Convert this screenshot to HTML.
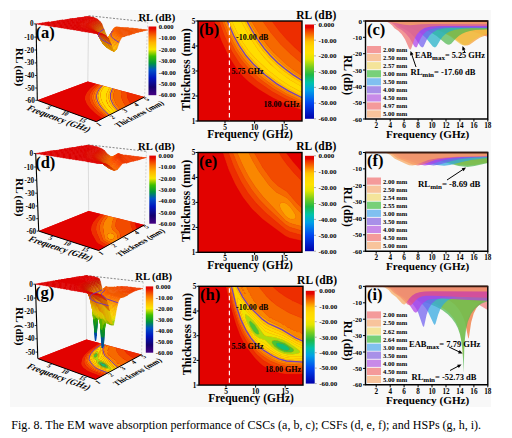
<!DOCTYPE html>
<html><head><meta charset="utf-8"><style>html,body{margin:0;padding:0;background:#fff;}svg{display:block}</style></head>
<body><svg width="512" height="438" viewBox="0 0 512 438">
<rect x="0" y="0" width="512" height="438" fill="#ffffff"/>
<rect x="10" y="10" width="481" height="397" fill="#f8f8f8"/>
<svg x="198" y="21" width="104" height="100" viewBox="198 21 104 100" overflow="hidden">
<rect x="198" y="21" width="104" height="100" fill="#e10000"/>
<path d="M302 92.4 302 86.8 289.9 79.7 279.4 72.1 270.7 64.5 263.9 57.2 259.3 51.4 253.3 42.7 247.2 32.6 241.1 21 231.9 21 237.2 32.6 243.2 43 249.2 51.4 256.8 59.8 268.1 70.3 279.2 79 290.4 86.2 301.2 92Z" fill="#ffdd00" stroke="#ffdd00" stroke-width="0.4" fill-rule="evenodd"/>
<path d="M300.5 95 302 95.7 302 92.4 290.4 86.2 279.2 79 268.1 70.3 256.8 59.8 249.2 51.4 243.2 43 237.2 32.6 231.9 21 229.1 21 235 34 240.6 44.2 247.6 54.3 255.3 63 265.8 72.9 276.4 81.1 286.9 87.9 300.3 94.9ZM302 86.8 302 83 293.1 77.5 283.9 70.9 276.2 64.5 268.8 57.2 262.8 50.4 256.8 42.2 250.8 32.7 244.4 21 241.1 21 247.2 32.6 253.3 42.7 259.3 51.4 266.5 60.1 274.9 68.3 282.4 74.4 289.9 79.7 300.9 86.2Z" fill="#ffd400" stroke="#ffd400" stroke-width="0.4" fill-rule="evenodd"/>
<path d="M300.5 96.9 302 97.6 302 95.7 289 89.1 277.5 81.9 266.1 73.2 255.3 63 248.8 55.8 242.4 47.1 235.7 35.5 229.1 21 227.3 21 233.6 35.5 239.2 45.6 246.1 55.8 253.7 64.5 264.3 74.4 274.9 82.5 286.9 90.1 299.3 96.4ZM300.5 82.1 302 83 302 80.5 292.8 74.6 284.9 68.8 276.5 61.6 269.3 54.3 262.8 46.7 256.8 38.3 246.8 21 244.4 21 249.2 30.1 255.3 40 261.3 48.5 267.4 55.8 274.6 63 282.4 69.8 291 76.1 300.1 81.9Z" fill="#ffc300" stroke="#ffc300" stroke-width="0.4" fill-rule="evenodd"/>
<path d="M300.5 98.5 302 99.1 302 97.6 286.9 90.1 273.4 81.5 262.9 73.2 253.7 64.5 247.3 57.2 241 48.5 233.6 35.5 227.3 21 225.8 21 231.9 35.5 238.1 47.1 245.1 57.2 252.3 65.6 262.8 75.4 273.4 83.5 285.4 91 299 97.8ZM302 80.5 302 78.3 294.1 73.2 286.3 67.4 279.4 61.5 271.9 54.1 265.8 47.3 259.8 39.3 253.8 29.9 248.8 21 246.8 21 252.3 31 258.3 40.5 264.3 48.6 270.3 55.5 277.9 62.9 284.9 68.8 292.8 74.6 301.9 80.4Z" fill="#fca400" stroke="#fca400" stroke-width="0.4" fill-rule="evenodd"/>
<path d="M302 100.9 302 99.1 285.4 91 271.9 82.4 261.3 74.1 252.6 65.9 245.1 57.2 239.9 50 231.9 35.5 225.8 21 224 21 230.6 36.9 236.7 48.5 243.6 58.7 251.1 67.4 262.2 77.5 274.9 86.8 286.9 93.9 301.6 100.7ZM302 78.3 302 75.7 294 70.3 286.5 64.5 273.4 52.2 267.3 45.3 261.3 37.3 251.4 21 248.8 21 258.3 37.1 264.3 45.4 270.3 52.5 277.9 60.1 284.5 65.9 292 71.7 300.6 77.5Z" fill="#fa8700" stroke="#fa8700" stroke-width="0.4" fill-rule="evenodd"/>
<path d="M300.5 102.4 302 103 302 100.9 285.4 93.1 270.3 83.8 259.8 75.6 251.1 67.4 243.6 58.7 237.6 50 230.6 36.9 224 21 221.8 21 227.5 35.5 234.8 50 241.5 60.1 248.8 68.8 259.8 78.9 273.4 88.7 285.4 95.6 299.9 102.2ZM300.5 74.8 302 75.7 302 63.4 290.9 54.3 280.6 44.2 270.8 32.6 262.7 21 251.4 21 261.3 37.3 271.9 50.6 284.7 63 292 68.8 300.3 74.6Z" fill="#f66900" stroke="#f66900" stroke-width="0.4" fill-rule="evenodd"/>
<path d="M300.5 105.3 302 105.9 302 103 285.4 95.6 273.4 88.7 261.3 80.1 249.2 69.3 241.5 60.1 234.8 50 227.5 35.5 221.8 21 218.8 21 224.2 35.5 231.8 51.4 239.2 63 246.5 71.7 256.8 81 271.9 91.6 285.4 98.9 299.9 105.1ZM302 63.4 302 53.8 294.4 47.1 286.9 39.5 279.4 30.9 271.9 21 262.7 21 270.8 32.6 280.6 44.2 290.9 54.3 301.5 63Z" fill="#f24b00" stroke="#f24b00" stroke-width="0.4" fill-rule="evenodd"/>
<path d="M300.5 109.7 302 110.2 302 105.9 285.4 98.9 271.9 91.6 256.8 81 246.5 71.7 239.2 63 231.8 51.4 224.2 35.5 218.8 21 214.2 21 220.2 38.4 227.5 54.3 235.4 67.4 243.2 76.9 253.8 86 268.8 95.8 282.4 102.7 299.6 109.4ZM302 53.8 302 21 271.9 21 279.4 30.9 285.4 37.9 292.9 45.6 300.9 52.9Z" fill="#ed2d00" stroke="#ed2d00" stroke-width="0.4" fill-rule="evenodd"/>
<path d="M199.5 121 302 121 302 110.2 286.9 104.7 273.4 98.3 259.8 90.3 248.5 81.9 242.5 76.1 237.5 70.3 229 57.2 221.4 41.3 214.2 21 198 21 198 121Z" fill="#e20200" stroke="#e20200" stroke-width="0.4" fill-rule="evenodd"/>
<path d="M302 97.6 288.4 90.9 276.4 83.6 264.6 74.6 253.8 64.6 246.1 55.8 239.2 45.6 233.6 35.5 227.3 21M246.8 21 252.3 31 258.3 40.5 264.3 48.6 270.3 55.5 277.9 62.9 284.9 68.8 292.8 74.6 302 80.5" fill="none" stroke="#7a3fb8" stroke-width="1.3"/>
<line x1="229.4" y1="23" x2="229.4" y2="121" stroke="#fff0f0" stroke-width="1.2" stroke-dasharray="4.5 3"/>
<text x="236" y="40" font-family='"Liberation Serif", serif' font-size="8" font-weight="bold" text-anchor="start" fill="#000" >-10.00 dB</text>
<text x="231.5" y="73.5" font-family='"Liberation Serif", serif' font-size="8" font-weight="bold" text-anchor="start" fill="#000" >5.75 GHz</text>
<text x="263.5" y="106.5" font-family='"Liberation Serif", serif' font-size="8" font-weight="bold" text-anchor="start" fill="#000" >18.00 GHz</text>
</svg>
<rect x="198" y="21" width="104" height="100" fill="none" stroke="#000" stroke-width="1.4"/>
<text x="199" y="35" font-family='"Liberation Serif", serif' font-size="16.5" font-weight="bold" text-anchor="start" fill="#000" >(b)</text>
<line x1="195.5" y1="121" x2="198" y2="121" stroke="#000" stroke-width="1"/>
<text x="195.4" y="123.6" font-family='"Liberation Serif", serif' font-size="7.2" font-weight="bold" text-anchor="end" fill="#000" >1</text>
<line x1="195.5" y1="96" x2="198" y2="96" stroke="#000" stroke-width="1"/>
<text x="195.4" y="98.6" font-family='"Liberation Serif", serif' font-size="7.2" font-weight="bold" text-anchor="end" fill="#000" >2</text>
<line x1="195.5" y1="71" x2="198" y2="71" stroke="#000" stroke-width="1"/>
<text x="195.4" y="73.6" font-family='"Liberation Serif", serif' font-size="7.2" font-weight="bold" text-anchor="end" fill="#000" >3</text>
<line x1="195.5" y1="46" x2="198" y2="46" stroke="#000" stroke-width="1"/>
<text x="195.4" y="48.6" font-family='"Liberation Serif", serif' font-size="7.2" font-weight="bold" text-anchor="end" fill="#000" >4</text>
<line x1="195.5" y1="21" x2="198" y2="21" stroke="#000" stroke-width="1"/>
<text x="195.4" y="23.6" font-family='"Liberation Serif", serif' font-size="7.2" font-weight="bold" text-anchor="end" fill="#000" >5</text>
<line x1="225" y1="121" x2="225" y2="123.5" stroke="#000" stroke-width="1"/>
<text x="225" y="129.5" font-family='"Liberation Serif", serif' font-size="7.5" font-weight="bold" text-anchor="middle" fill="#000" >5</text>
<line x1="254.6" y1="121" x2="254.6" y2="123.5" stroke="#000" stroke-width="1"/>
<text x="254.6" y="129.5" font-family='"Liberation Serif", serif' font-size="7.5" font-weight="bold" text-anchor="middle" fill="#000" >10</text>
<line x1="284.2" y1="121" x2="284.2" y2="123.5" stroke="#000" stroke-width="1"/>
<text x="284.2" y="129.5" font-family='"Liberation Serif", serif' font-size="7.5" font-weight="bold" text-anchor="middle" fill="#000" >15</text>
<text x="250" y="137.8" font-family='"Liberation Serif", serif' font-size="11.5" font-weight="bold" text-anchor="middle" fill="#000" >Frequency (GHz)</text>
<text x="0" y="0" font-family='"Liberation Serif", serif' font-size="12" font-weight="bold" text-anchor="middle" fill="#000" transform="translate(189.5,69.5) rotate(-90)">Thickness (mm)</text>
<defs><linearGradient id="cbj0" x1="0" y1="0" x2="0" y2="1"><stop offset="0.000" stop-color="#e10000"/><stop offset="0.033" stop-color="#e40600"/><stop offset="0.050" stop-color="#ec2800"/><stop offset="0.083" stop-color="#f35000"/><stop offset="0.117" stop-color="#f87800"/><stop offset="0.150" stop-color="#fca000"/><stop offset="0.183" stop-color="#ffc300"/><stop offset="0.233" stop-color="#ffd700"/><stop offset="0.300" stop-color="#ffe100"/><stop offset="0.367" stop-color="#e1e600"/><stop offset="0.450" stop-color="#78cd1e"/><stop offset="0.533" stop-color="#1eb946"/><stop offset="0.617" stop-color="#00c3aa"/><stop offset="0.700" stop-color="#00a0e6"/><stop offset="0.833" stop-color="#0046f0"/><stop offset="1.000" stop-color="#0000aa"/></linearGradient></defs>
<rect x="305" y="24.5" width="9" height="94.3" fill="url(#cbj0)"/>
<line x1="314" y1="24.5" x2="316" y2="24.5" stroke="#999" stroke-width="0.8"/>
<text x="318.5" y="26.8" font-family='"Liberation Serif", serif' font-size="7" font-weight="bold" text-anchor="start" fill="#000" >0.000</text>
<line x1="314" y1="40.2" x2="316" y2="40.2" stroke="#999" stroke-width="0.8"/>
<text x="318.5" y="42.5" font-family='"Liberation Serif", serif' font-size="7" font-weight="bold" text-anchor="start" fill="#000" >-10.00</text>
<line x1="314" y1="55.9" x2="316" y2="55.9" stroke="#999" stroke-width="0.8"/>
<text x="318.5" y="58.2" font-family='"Liberation Serif", serif' font-size="7" font-weight="bold" text-anchor="start" fill="#000" >-20.00</text>
<line x1="314" y1="71.7" x2="316" y2="71.7" stroke="#999" stroke-width="0.8"/>
<text x="318.5" y="74" font-family='"Liberation Serif", serif' font-size="7" font-weight="bold" text-anchor="start" fill="#000" >-30.00</text>
<line x1="314" y1="87.4" x2="316" y2="87.4" stroke="#999" stroke-width="0.8"/>
<text x="318.5" y="89.7" font-family='"Liberation Serif", serif' font-size="7" font-weight="bold" text-anchor="start" fill="#000" >-40.00</text>
<line x1="314" y1="103.1" x2="316" y2="103.1" stroke="#999" stroke-width="0.8"/>
<text x="318.5" y="105.4" font-family='"Liberation Serif", serif' font-size="7" font-weight="bold" text-anchor="start" fill="#000" >-50.00</text>
<line x1="314" y1="118.8" x2="316" y2="118.8" stroke="#999" stroke-width="0.8"/>
<text x="318.5" y="121.1" font-family='"Liberation Serif", serif' font-size="7" font-weight="bold" text-anchor="start" fill="#000" >-60.00</text>
<text x="316.3" y="18.5" font-family='"Liberation Serif", serif' font-size="11.5" font-weight="bold" text-anchor="middle" fill="#000" >RL (dB)</text>
<svg x="198" y="152.5" width="104" height="99.8" viewBox="198 152.5 104 99.8" overflow="hidden">
<rect x="198" y="152.5" width="104" height="99.8" fill="#e10000"/>
<path d="M291.4 219.3 294.5 219 295.9 217.6 295.4 214.7 292.9 210.4 289.9 206.4 286.9 203.7 283.9 202.4 280.9 202.7 279.6 204.6 280.1 207.5 281.5 210.4 285.4 215.8 288.4 218.2 290.3 219Z" fill="#fca400" stroke="#fca400" stroke-width="0.4" fill-rule="evenodd"/>
<path d="M302 226.6 302 213.9 297.5 209.7 289.9 200.7 286.9 197.8 276.4 192.3 269.5 185.8 258.9 171.3 253 161.2 248.6 152.5 237 152.5 243.2 166.6 249.2 177.7 255.3 186.9 262.8 196.4 285.4 220.5 289.9 223.3 301.1 226.3ZM290.3 219 288.4 218.2 285.4 215.8 281.5 210.4 280.1 207.5 279.6 204.6 280.9 202.7 283.9 202.4 286.9 203.7 289.9 206.4 292.9 210.4 295.4 214.7 295.9 217.6 294.5 219 291.4 219.3Z" fill="#fa8700" stroke="#fa8700" stroke-width="0.4" fill-rule="evenodd"/>
<path d="M302 231 302 226.6 291.4 223.8 286.9 221.7 283.8 219 262.8 196.4 255.3 186.9 249.2 177.7 243.2 166.6 237 152.5 232.6 152.5 237.9 165.5 244.5 178.5 251.8 190.1 259.8 200.2 266.8 207.5 285.4 224.7 289.9 227.3 301.1 230.6ZM302 213.9 302 207.9 297.5 203.8 286.9 191.5 277.9 185.8 271.9 180 262.8 167.5 254.2 152.5 248.6 152.5 253 161.2 258.9 171.3 269.5 185.8 276.4 192.3 286.9 197.8 289.9 200.7 297.5 209.7 301.2 213.2Z" fill="#f66900" stroke="#f66900" stroke-width="0.4" fill-rule="evenodd"/>
<path d="M302 235.3 302 231 289.9 227.3 285.4 224.7 266.8 207.5 259.9 200.2 251.8 190.1 244.5 178.5 237.9 165.5 232.6 152.5 228.3 152.5 233.8 167 240.8 181.4 247.9 193 255.9 203.1 265.8 213.1 285.4 229.5 289.9 231.9 301.1 234.9ZM302 207.9 302 181.1 294.5 173.4 287.8 165.5 282.4 158.3 279.1 152.5 254.2 152.5 262.8 167.5 271.9 180 277.9 185.8 286.9 191.5 297.5 203.8 301.4 207.5Z" fill="#f24b00" stroke="#f24b00" stroke-width="0.4" fill-rule="evenodd"/>
<path d="M302 240.9 302 235.3 289.9 231.9 285.4 229.5 265.8 213.1 256.8 204.2 247.9 193 240.8 181.4 233.8 167 228.3 152.5 222.6 152.5 228.5 169.9 235 184.3 242.7 197.3 251.8 208.9 262.8 219.4 285.4 236.2 289.9 238.2 301.3 240.7ZM302 181.1 302 171.8 293.9 162.6 286.1 152.5 279.1 152.5 282.4 158.3 286.6 164.1 293.9 172.7 300.8 180Z" fill="#ed2d00" stroke="#ed2d00" stroke-width="0.4" fill-rule="evenodd"/>
<path d="M199.5 252.3 302 252.3 302 240.9 289.9 238.2 285.4 236.2 262.8 219.4 251.8 208.9 242.7 197.3 235 184.3 228.5 169.9 222.6 152.5 198 152.5 198 252.3ZM302 171.8 302 152.5 286.1 152.5 293 161.5 301.5 171.3Z" fill="#e20200" stroke="#e20200" stroke-width="0.4" fill-rule="evenodd"/>
</svg>
<rect x="198" y="152.5" width="104" height="99.8" fill="none" stroke="#000" stroke-width="1.4"/>
<text x="199" y="166.5" font-family='"Liberation Serif", serif' font-size="16.5" font-weight="bold" text-anchor="start" fill="#000" >(e)</text>
<line x1="195.5" y1="252.3" x2="198" y2="252.3" stroke="#000" stroke-width="1"/>
<text x="195.4" y="254.9" font-family='"Liberation Serif", serif' font-size="7.2" font-weight="bold" text-anchor="end" fill="#000" >1</text>
<line x1="195.5" y1="227.4" x2="198" y2="227.4" stroke="#000" stroke-width="1"/>
<text x="195.4" y="230" font-family='"Liberation Serif", serif' font-size="7.2" font-weight="bold" text-anchor="end" fill="#000" >2</text>
<line x1="195.5" y1="202.4" x2="198" y2="202.4" stroke="#000" stroke-width="1"/>
<text x="195.4" y="205" font-family='"Liberation Serif", serif' font-size="7.2" font-weight="bold" text-anchor="end" fill="#000" >3</text>
<line x1="195.5" y1="177.4" x2="198" y2="177.4" stroke="#000" stroke-width="1"/>
<text x="195.4" y="180" font-family='"Liberation Serif", serif' font-size="7.2" font-weight="bold" text-anchor="end" fill="#000" >4</text>
<line x1="195.5" y1="152.5" x2="198" y2="152.5" stroke="#000" stroke-width="1"/>
<text x="195.4" y="155.1" font-family='"Liberation Serif", serif' font-size="7.2" font-weight="bold" text-anchor="end" fill="#000" >5</text>
<line x1="225" y1="252.3" x2="225" y2="254.8" stroke="#000" stroke-width="1"/>
<text x="225" y="260.8" font-family='"Liberation Serif", serif' font-size="7.5" font-weight="bold" text-anchor="middle" fill="#000" >5</text>
<line x1="254.6" y1="252.3" x2="254.6" y2="254.8" stroke="#000" stroke-width="1"/>
<text x="254.6" y="260.8" font-family='"Liberation Serif", serif' font-size="7.5" font-weight="bold" text-anchor="middle" fill="#000" >10</text>
<line x1="284.2" y1="252.3" x2="284.2" y2="254.8" stroke="#000" stroke-width="1"/>
<text x="284.2" y="260.8" font-family='"Liberation Serif", serif' font-size="7.5" font-weight="bold" text-anchor="middle" fill="#000" >15</text>
<text x="250" y="269.1" font-family='"Liberation Serif", serif' font-size="11.5" font-weight="bold" text-anchor="middle" fill="#000" >Frequency (GHz)</text>
<text x="0" y="0" font-family='"Liberation Serif", serif' font-size="12" font-weight="bold" text-anchor="middle" fill="#000" transform="translate(189.5,200.9) rotate(-90)">Thickness (mm)</text>
<defs><linearGradient id="cbj1" x1="0" y1="0" x2="0" y2="1"><stop offset="0.000" stop-color="#e10000"/><stop offset="0.033" stop-color="#e40600"/><stop offset="0.050" stop-color="#ec2800"/><stop offset="0.083" stop-color="#f35000"/><stop offset="0.117" stop-color="#f87800"/><stop offset="0.150" stop-color="#fca000"/><stop offset="0.183" stop-color="#ffc300"/><stop offset="0.233" stop-color="#ffd700"/><stop offset="0.300" stop-color="#ffe100"/><stop offset="0.367" stop-color="#e1e600"/><stop offset="0.450" stop-color="#78cd1e"/><stop offset="0.533" stop-color="#1eb946"/><stop offset="0.617" stop-color="#00c3aa"/><stop offset="0.700" stop-color="#00a0e6"/><stop offset="0.833" stop-color="#0046f0"/><stop offset="1.000" stop-color="#0000aa"/></linearGradient></defs>
<rect x="305" y="155.8" width="9" height="95.4" fill="url(#cbj1)"/>
<line x1="314" y1="155.8" x2="316" y2="155.8" stroke="#999" stroke-width="0.8"/>
<text x="318.5" y="158.1" font-family='"Liberation Serif", serif' font-size="7" font-weight="bold" text-anchor="start" fill="#000" >0.000</text>
<line x1="314" y1="171.7" x2="316" y2="171.7" stroke="#999" stroke-width="0.8"/>
<text x="318.5" y="174" font-family='"Liberation Serif", serif' font-size="7" font-weight="bold" text-anchor="start" fill="#000" >-10.00</text>
<line x1="314" y1="187.6" x2="316" y2="187.6" stroke="#999" stroke-width="0.8"/>
<text x="318.5" y="189.9" font-family='"Liberation Serif", serif' font-size="7" font-weight="bold" text-anchor="start" fill="#000" >-20.00</text>
<line x1="314" y1="203.5" x2="316" y2="203.5" stroke="#999" stroke-width="0.8"/>
<text x="318.5" y="205.8" font-family='"Liberation Serif", serif' font-size="7" font-weight="bold" text-anchor="start" fill="#000" >-30.00</text>
<line x1="314" y1="219.4" x2="316" y2="219.4" stroke="#999" stroke-width="0.8"/>
<text x="318.5" y="221.7" font-family='"Liberation Serif", serif' font-size="7" font-weight="bold" text-anchor="start" fill="#000" >-40.00</text>
<line x1="314" y1="235.3" x2="316" y2="235.3" stroke="#999" stroke-width="0.8"/>
<text x="318.5" y="237.6" font-family='"Liberation Serif", serif' font-size="7" font-weight="bold" text-anchor="start" fill="#000" >-50.00</text>
<line x1="314" y1="251.2" x2="316" y2="251.2" stroke="#999" stroke-width="0.8"/>
<text x="318.5" y="253.5" font-family='"Liberation Serif", serif' font-size="7" font-weight="bold" text-anchor="start" fill="#000" >-60.00</text>
<text x="316.3" y="150" font-family='"Liberation Serif", serif' font-size="11.5" font-weight="bold" text-anchor="middle" fill="#000" >RL (dB)</text>
<svg x="199" y="286.3" width="104" height="98.8" viewBox="199 286.3 104 98.8" overflow="hidden">
<rect x="199" y="286.3" width="104" height="98.8" fill="#e10000"/>
<path d="M281.9 349.6 286.4 350.7 287.9 350.6 289.8 349.3 289.1 347.9 287.5 346.4 283.4 344.1 278.9 342.9 277.4 342.9 276 343.6 276.2 345 277.2 346.4 281.4 349.3Z" fill="#0fbe78" stroke="#0fbe78" stroke-width="0.4" fill-rule="evenodd"/>
<path d="M284.9 352.2 290.9 352.5 292.4 352.1 294 350.7 293.6 349.3 292.3 347.9 284.9 342.9 277.4 340.4 274.4 340.2 272.4 340.7 271.7 342.1 272.2 343.6 274.5 346.4 278.9 349.8 284.7 352.2ZM281.4 349.3 277.2 346.4 276.2 345 276 343.6 277.4 342.9 278.9 342.9 283.4 344.1 287.5 346.4 289.1 347.9 289.8 349.3 287.9 350.6 286.4 350.7 281.9 349.6ZM256.3 334 257.8 334.6 259.3 333.9 258.6 330.7 254.8 324.8 250.2 320.8 248.9 322.1 250.2 326.2 253.3 331.2 255.7 333.6Z" fill="#4bc332" stroke="#4bc332" stroke-width="0.4" fill-rule="evenodd"/>
<path d="M283.4 353.6 287.9 354.5 292.4 354.6 298.2 353.6 300.2 352.2 299.6 350.7 296.2 347.9 289.4 343.3 283.4 340 275.9 337.6 265.3 335.7 263.8 334.4 257.1 325 253.4 320.7 248.7 316.3 245.7 314.3 245.2 314.9 245.3 317.8 247.4 323.5 251.2 330.7 254.8 335.2 259.3 338.2 265.3 340.2 271.5 346.4 274.9 349.3 278.9 351.8 283.3 353.6ZM284.7 352.2 278.9 349.8 274.5 346.4 272.2 343.6 271.7 342.1 272.4 340.7 274.4 340.2 277.4 340.4 284.9 342.9 292.3 347.9 293.6 349.3 294 350.7 292.4 352.1 290.9 352.5 284.9 352.2ZM255.7 333.6 253.3 331.2 250.2 326.2 248.9 322.1 250.2 320.8 254.8 324.8 258.6 330.7 259.3 333.9 257.8 334.6 256.3 334Z" fill="#acda0f" stroke="#acda0f" stroke-width="0.4" fill-rule="evenodd"/>
<path d="M283.4 355.3 289.4 356.3 303 356.4 303 348.6 298.5 346.5 287.9 340.2 281.9 337.2 268.3 332.8 265.3 331.3 262.3 328.6 254.8 319.7 244.2 308.7 241.2 306.2 240.9 307.8 241.2 310.4 244.1 319.2 248.2 327.8 253.3 335.5 257.8 339.8 265.3 344.1 274 350.7 277.4 352.8 282.5 355ZM283.3 353.6 278.9 351.8 274.9 349.3 271.5 346.4 265.3 340.2 259.3 338.2 254.8 335.2 251.2 330.7 247.4 323.5 245.3 317.8 245.2 314.9 245.7 314.3 248.7 316.3 253.4 320.7 257.1 325 263.8 334.4 265.3 335.7 275.9 337.6 283.4 340 289.4 343.3 296.2 347.9 299.6 350.7 300.2 352.2 298.2 353.6 292.4 354.6 287.9 354.5 283.4 353.6Z" fill="#f0e400" stroke="#f0e400" stroke-width="0.4" fill-rule="evenodd"/>
<path d="M290.9 358 303 358.5 303 356.4 287.9 356.2 280.4 354.3 274.4 351 265.3 344.1 256.3 338.6 250.8 332.1 245.3 322.1 241.3 310.6 240.9 307.8 241.2 306.2 244.2 308.7 254.8 319.7 262.3 328.6 265.3 331.3 268.3 332.8 281.9 337.2 287.9 340.2 298.5 346.5 303 348.6 303 346.1 297 343.6 283.4 335.7 269.8 330.6 265.3 328.3 260.8 324.2 248.7 311.2 239.7 299.4 237.9 297.8 237.4 299.2 238.2 304.9 242.3 317.8 247.9 329.3 253.3 337.2 257.8 341.7 274.4 352.8 281.9 356.4 289.9 357.9Z" fill="#ffdd00" stroke="#ffdd00" stroke-width="0.4" fill-rule="evenodd"/>
<path d="M286.4 359.4 303 360.5 303 358.5 287.9 357.7 280.4 355.9 272.9 351.9 256.3 340.4 253.3 337.2 249.6 332.1 243.5 320.7 240.7 313.5 238.2 304.9 237.4 299.2 237.9 297.8 239.7 299.4 248.7 311.2 260.8 324.2 265.3 328.3 269.8 330.6 283.4 335.7 297 343.6 303 346.1 303 343.4 296.5 340.7 283.4 333 268.3 326.5 263.8 323.5 248.7 308.3 242.2 299.2 235.2 286.7 234.8 286.3 233.1 286.3 233.7 291.4 235.2 298.5 240 314.9 244.9 326.4 251.1 336.4 254.8 341.1 257.8 343.9 269.8 352.3 278.9 357.2 286.1 359.3Z" fill="#ffd400" stroke="#ffd400" stroke-width="0.4" fill-rule="evenodd"/>
<path d="M286.4 361 303 362.1 303 360.5 287.9 359.6 283.4 358.8 278.9 357.2 272.9 354.2 262.3 347.3 254.8 341.1 248.2 332.1 242.2 320.7 239 312.1 236.4 303.5 233.7 291.4 233.1 286.3 231.5 286.3 235.9 304.9 240.1 317.8 244.6 327.8 250.8 337.8 256.3 344.4 263.8 350.4 275.9 357.6 281.9 360 285.4 360.8ZM300 342.3 303 343.4 303 341.2 295.5 337.9 281.9 329.7 268.3 323.5 262.3 319.3 250.2 307.7 242.7 297.1 236.9 286.3 234.8 286.3 241.2 297.6 247.2 306.5 250.2 310.1 262.3 322.2 268.2 326.4 283.4 333 299.5 342.1Z" fill="#ffc300" stroke="#ffc300" stroke-width="0.4" fill-rule="evenodd"/>
<path d="M286.4 362.4 303 363.5 303 362.1 286.4 361 281.9 360 277.4 358.2 271.3 355.2 263.8 350.4 259.3 347.1 254.8 342.8 247.9 333.6 241.9 322.1 236.3 306.3 231.5 286.3 230.7 286.3 234.8 303.5 239.3 317.8 245.2 330.7 250.7 339.3 256.3 346.1 263.8 352.2 274.4 358.4 280.4 360.9 285.4 362.2ZM301.5 340.7 303 341.2 303 339.2 296.5 336.4 283.4 328.1 268.2 320.7 260.8 315.2 251.8 306.9 248.7 303.5 242.7 294.6 238.2 286.3 236.9 286.3 242.7 297.1 248.7 305.9 262.3 319.3 268.3 323.5 281.9 329.7 295.5 337.9 301.4 340.7Z" fill="#fca400" stroke="#fca400" stroke-width="0.4" fill-rule="evenodd"/>
<path d="M303 365.1 303 363.5 286.4 362.4 281.9 361.4 277.4 359.8 271.3 356.9 263.8 352.2 259.3 348.8 254.8 344.5 247.8 335 241.6 323.5 236 307.8 230.7 286.3 229.8 286.3 235.6 309.2 240.6 323.5 246.4 335 252.5 343.6 256.3 348 263.8 354.4 271.3 358.9 277.4 361.7 281.9 363.2 286.4 364.1 302.9 365.1ZM300 338.1 303 339.2 303 333.6 301.5 333.6 300 332.1 297 332.1 295.5 330.7 294 330.7 292.4 329.3 290.9 329.3 289.4 327.8 287.9 327.8 284.9 325 283.4 325 280.4 322.6 278.8 322.1 277.4 320.9 275.9 320.7 274.4 319.3 272.9 319.2 271.3 317.8 269.8 317.8 257.8 306.3 257.8 304.9 253.3 300.6 253.3 299.2 251.8 297.8 251.8 296.3 250.2 294.9 250.2 293.5 248.7 292 248.7 290.6 247.2 289.2 247.2 287.7 245.7 286.3 242.7 286.3 242.7 287.7 241.2 288.4 241.1 286.3 238.2 286.3 242.7 294.6 248.7 303.5 251.8 306.9 260.8 315.2 266.8 319.8 283.4 328.1 294 335 299.3 337.8ZM244.2 293.5 244.2 292 245.7 293.5 244.2 293.5ZM242.6 290.6 242.7 289.2 244.2 290.6 242.7 290.8Z" fill="#fa8700" stroke="#fa8700" stroke-width="0.4" fill-rule="evenodd"/>
<path d="M289.4 366.5 303 367.1 303 365.1 286.4 364.1 281.9 363.2 275.9 361 269.8 358.1 262.3 353.3 256.3 348 252.5 343.6 246.4 335 240.6 323.5 235.6 309.2 229.8 286.3 228.8 286.3 234.2 307.8 238.8 322.1 244.8 335 252.7 346.4 256.3 350.6 260.8 354.8 269.8 360.7 280.4 365.1 284.9 366.1 289.1 366.5ZM301.5 333.6 303 333.6 303 318.4 289.4 312.9 277.4 305.8 271.3 301 266.8 296.6 258.5 286.3 245.7 286.3 247.2 287.7 247.2 289.2 248.7 290.6 248.7 292 250.2 293.5 250.2 294.9 251.8 296.3 251.8 297.8 253.3 299.2 253.3 300.6 257.8 304.9 257.8 306.3 269.8 317.8 271.3 317.8 272.9 319.2 274.4 319.3 275.9 320.7 277.4 320.9 278.8 322.1 280.4 322.6 283.4 325 284.9 325 287.9 327.8 289.4 327.8 290.9 329.3 292.4 329.3 294 330.7 295.5 330.7 297 332.1 300 332.1ZM244.2 293.5 245.7 293.5 244.2 292 244.2 293.5ZM242.7 290.8 244.2 290.6 242.7 289.2 242.6 290.6ZM241.2 288.4 242.7 287.7 242.7 286.3 241.1 286.3 241 287.7Z" fill="#f66900" stroke="#f66900" stroke-width="0.4" fill-rule="evenodd"/>
<path d="M286.4 369.4 303 369.9 303 367.1 286.4 366.3 278.9 364.6 271.3 361.5 263.8 357.1 256.3 350.6 246.6 337.8 240.6 326.4 234.6 309.2 228.8 286.3 227.6 286.3 232.9 307.8 237.3 322.1 242 333.6 247.9 343.6 256.3 354.2 263.8 360.8 269.8 364.3 274.4 366.3 281.9 368.7 286.2 369.3ZM301.5 317.9 303 318.4 303 305.2 292.5 300.6 285 296.3 278.9 292 272.4 286.3 258.5 286.3 266.8 296.6 276.2 304.9 287.9 312.2 301.3 317.8Z" fill="#f24b00" stroke="#f24b00" stroke-width="0.4" fill-rule="evenodd"/>
<path d="M281.9 373.7 287.9 374.3 303 374.2 303 369.9 286.4 369.4 281.9 368.7 277.4 367.4 269.8 364.3 263.8 360.8 256.3 354.2 246 340.7 240.6 330.7 234.5 313.5 227.6 286.3 225.7 286.3 229.7 303.5 235.9 325 240.3 336.4 244.8 345 254.8 358.3 262.3 365.6 271.3 370.6 281.6 373.6ZM303 305.2 303 286.3 272.4 286.3 278.9 292 285 296.3 292.5 300.6 302.3 304.9Z" fill="#ed2d00" stroke="#ed2d00" stroke-width="0.4" fill-rule="evenodd"/>
<path d="M200.5 385.1 303 385.1 303 374.2 286.4 374.3 280.4 373.4 269.8 369.9 263.8 366.6 260.8 364.4 254.8 358.3 246.7 347.9 243.1 342.1 240.3 336.4 235.9 325 232.8 314.9 228.2 297.8 225.7 286.3 199 286.3 199 385.1Z" fill="#e20200" stroke="#e20200" stroke-width="0.4" fill-rule="evenodd"/>
<path d="M303 362.1 286.4 361 278.9 358.9 272.9 356 263.8 350.4 259.3 347.1 254.8 342.8 250.8 337.8 246.2 330.7 240.7 319.2 235.9 304.9 231.5 286.3M236.9 286.3 242.7 297.1 248.7 305.9 262.3 319.3 268.3 323.5 281.9 329.7 295.5 337.9 303 341.2" fill="none" stroke="#7a3fb8" stroke-width="1.3"/>
<line x1="229.4" y1="288.3" x2="229.4" y2="385.1" stroke="#fff0f0" stroke-width="1.2" stroke-dasharray="4.5 3"/>
<text x="236" y="310" font-family='"Liberation Serif", serif' font-size="8" font-weight="bold" text-anchor="start" fill="#000" >-10.00 dB</text>
<text x="231.5" y="349" font-family='"Liberation Serif", serif' font-size="8" font-weight="bold" text-anchor="start" fill="#000" >5.58 GHz</text>
<text x="265" y="371.5" font-family='"Liberation Serif", serif' font-size="8" font-weight="bold" text-anchor="start" fill="#000" >18.00 GHz</text>
</svg>
<rect x="199" y="286.3" width="104" height="98.8" fill="none" stroke="#000" stroke-width="1.4"/>
<text x="200" y="300.3" font-family='"Liberation Serif", serif' font-size="16.5" font-weight="bold" text-anchor="start" fill="#000" >(h)</text>
<line x1="196.5" y1="385.1" x2="199" y2="385.1" stroke="#000" stroke-width="1"/>
<text x="196.4" y="387.7" font-family='"Liberation Serif", serif' font-size="7.2" font-weight="bold" text-anchor="end" fill="#000" >1</text>
<line x1="196.5" y1="360.4" x2="199" y2="360.4" stroke="#000" stroke-width="1"/>
<text x="196.4" y="363" font-family='"Liberation Serif", serif' font-size="7.2" font-weight="bold" text-anchor="end" fill="#000" >2</text>
<line x1="196.5" y1="335.7" x2="199" y2="335.7" stroke="#000" stroke-width="1"/>
<text x="196.4" y="338.3" font-family='"Liberation Serif", serif' font-size="7.2" font-weight="bold" text-anchor="end" fill="#000" >3</text>
<line x1="196.5" y1="311" x2="199" y2="311" stroke="#000" stroke-width="1"/>
<text x="196.4" y="313.6" font-family='"Liberation Serif", serif' font-size="7.2" font-weight="bold" text-anchor="end" fill="#000" >4</text>
<line x1="196.5" y1="286.3" x2="199" y2="286.3" stroke="#000" stroke-width="1"/>
<text x="196.4" y="288.9" font-family='"Liberation Serif", serif' font-size="7.2" font-weight="bold" text-anchor="end" fill="#000" >5</text>
<line x1="226" y1="385.1" x2="226" y2="387.6" stroke="#000" stroke-width="1"/>
<text x="226" y="393.6" font-family='"Liberation Serif", serif' font-size="7.5" font-weight="bold" text-anchor="middle" fill="#000" >5</text>
<line x1="255.6" y1="385.1" x2="255.6" y2="387.6" stroke="#000" stroke-width="1"/>
<text x="255.6" y="393.6" font-family='"Liberation Serif", serif' font-size="7.5" font-weight="bold" text-anchor="middle" fill="#000" >10</text>
<line x1="285.2" y1="385.1" x2="285.2" y2="387.6" stroke="#000" stroke-width="1"/>
<text x="285.2" y="393.6" font-family='"Liberation Serif", serif' font-size="7.5" font-weight="bold" text-anchor="middle" fill="#000" >15</text>
<text x="251" y="401.9" font-family='"Liberation Serif", serif' font-size="11.5" font-weight="bold" text-anchor="middle" fill="#000" >Frequency (GHz)</text>
<text x="0" y="0" font-family='"Liberation Serif", serif' font-size="12" font-weight="bold" text-anchor="middle" fill="#000" transform="translate(190.5,334.2) rotate(-90)">Thickness (mm)</text>
<defs><linearGradient id="cbj2" x1="0" y1="0" x2="0" y2="1"><stop offset="0.000" stop-color="#e10000"/><stop offset="0.033" stop-color="#e40600"/><stop offset="0.050" stop-color="#ec2800"/><stop offset="0.083" stop-color="#f35000"/><stop offset="0.117" stop-color="#f87800"/><stop offset="0.150" stop-color="#fca000"/><stop offset="0.183" stop-color="#ffc300"/><stop offset="0.233" stop-color="#ffd700"/><stop offset="0.300" stop-color="#ffe100"/><stop offset="0.367" stop-color="#e1e600"/><stop offset="0.450" stop-color="#78cd1e"/><stop offset="0.533" stop-color="#1eb946"/><stop offset="0.617" stop-color="#00c3aa"/><stop offset="0.700" stop-color="#00a0e6"/><stop offset="0.833" stop-color="#0046f0"/><stop offset="1.000" stop-color="#0000aa"/></linearGradient></defs>
<rect x="305.8" y="290.8" width="8.9" height="92.8" fill="url(#cbj2)"/>
<line x1="314.7" y1="290.8" x2="316.7" y2="290.8" stroke="#999" stroke-width="0.8"/>
<text x="319.2" y="293.1" font-family='"Liberation Serif", serif' font-size="7" font-weight="bold" text-anchor="start" fill="#000" >0.000</text>
<line x1="314.7" y1="306.3" x2="316.7" y2="306.3" stroke="#999" stroke-width="0.8"/>
<text x="319.2" y="308.6" font-family='"Liberation Serif", serif' font-size="7" font-weight="bold" text-anchor="start" fill="#000" >-10.00</text>
<line x1="314.7" y1="321.7" x2="316.7" y2="321.7" stroke="#999" stroke-width="0.8"/>
<text x="319.2" y="324" font-family='"Liberation Serif", serif' font-size="7" font-weight="bold" text-anchor="start" fill="#000" >-20.00</text>
<line x1="314.7" y1="337.2" x2="316.7" y2="337.2" stroke="#999" stroke-width="0.8"/>
<text x="319.2" y="339.5" font-family='"Liberation Serif", serif' font-size="7" font-weight="bold" text-anchor="start" fill="#000" >-30.00</text>
<line x1="314.7" y1="352.7" x2="316.7" y2="352.7" stroke="#999" stroke-width="0.8"/>
<text x="319.2" y="355" font-family='"Liberation Serif", serif' font-size="7" font-weight="bold" text-anchor="start" fill="#000" >-40.00</text>
<line x1="314.7" y1="368.1" x2="316.7" y2="368.1" stroke="#999" stroke-width="0.8"/>
<text x="319.2" y="370.4" font-family='"Liberation Serif", serif' font-size="7" font-weight="bold" text-anchor="start" fill="#000" >-50.00</text>
<line x1="314.7" y1="383.6" x2="316.7" y2="383.6" stroke="#999" stroke-width="0.8"/>
<text x="319.2" y="385.9" font-family='"Liberation Serif", serif' font-size="7" font-weight="bold" text-anchor="start" fill="#000" >-60.00</text>
<text x="317.1" y="283.8" font-family='"Liberation Serif", serif' font-size="11.5" font-weight="bold" text-anchor="middle" fill="#000" >RL (dB)</text>
<svg x="365.5" y="21" width="122.3" height="98" viewBox="365.5 21 122.3 98" overflow="hidden">
<path d="M365.5 21 425.4 21 430 22.4 435.6 25.2 454 27.4 469 30.5 478.7 33.4 489.9 37.7 489.9 21Z" fill="#f07a7a" fill-opacity="0.72"/>
<path d="M365.5 21 410.4 21.3 415.1 23 419.4 25.7 432.8 28.3 443.4 31.8 451.9 36.4 462.8 44.4 464.6 45.3 467.1 45.6 469.6 44.7 476.2 39.9 480.2 37.6 484.9 35.7 489.9 34.5 489.9 21Z" fill="#f8a030" fill-opacity="0.72"/>
<path d="M365.5 21 409.5 21.3 414.1 23 418.5 25.7 431.6 28.3 441.9 31.9 450 36.3 460.6 44.3 462.8 45.3 465 45.6 467.4 44.6 474 39.6 478.7 36.8 484 34.7 489.9 33.4 489.9 21Z" fill="#f0c040" fill-opacity="0.72"/>
<path d="M365.5 21 401 21 402.9 21.3 407.3 23.1 411.6 26 421.6 28.4 429.7 31.7 436.6 36 445.6 43.5 447.5 44.5 449.1 44.7 451.2 43.7 455.9 38.6 459 35.8 462.1 33.8 465.6 32.2 469.9 30.9 475.2 30 489.9 29.3 489.9 21Z" fill="#50b850" fill-opacity="0.72"/>
<path d="M365.5 21 394.8 21 398.2 21.9 402 23.8 405.4 26.5 413.5 29.2 420.1 32.8 425.7 37.7 432.8 46.6 435 47.6 436.6 46.3 440.3 39.9 442.8 36.6 445.6 33.9 449.1 31.8 455 29.8 462.5 28.7 472.7 28.3 489.9 28.4 489.9 21Z" fill="#20b0c8" fill-opacity="0.72"/>
<path d="M365.5 21 389.2 21 393.2 22.2 396.7 24.3 399.8 27.1 405.7 29.8 410.4 33.1 414.8 37.8 420.4 46.3 422.2 47.6 423.5 46.7 426.9 39.6 429.7 35.3 432.8 32.4 436.9 30.1 442.8 28.6 451.2 27.8 489.9 28.1 489.9 21Z" fill="#7060f0" fill-opacity="0.72"/>
<path d="M365.5 21 386.4 21 391.1 22.6 394.2 24.7 397 27.6 401.7 30.1 405.7 33.5 409.5 38.1 414.4 46.5 416 47.6 416.9 46.9 420.4 39 423.2 34.5 426.6 31.2 430.7 29.2 436.6 27.8 445 27.2 489.9 27.4 489.9 21Z" fill="#b040e8" fill-opacity="0.72"/>
<path d="M365.5 21 383.9 21 386.4 21.6 389.2 23 392 25.3 394.5 28.2 398.2 30.7 401.7 34.2 405.1 39.6 409.1 48.5 410.4 49.7 411.3 48.5 414.4 38.9 416.9 34.2 420.4 30.4 424.7 28 430.7 26.6 439.7 26 489.9 25.9 489.9 21Z" fill="#f07070" fill-opacity="0.72"/>
<path d="M365.5 21 385.8 21.2 404.5 24.8 410.1 25.2 421 24.2 428.8 24 489.9 24.3 489.9 21Z" fill="#f8a860" fill-opacity="0.72"/>
</svg>
<rect x="367" y="46" width="14" height="7.2" fill="#f49a9a"/>
<text x="383" y="52" font-family='"Liberation Serif", serif' font-size="6.6" font-weight="bold" text-anchor="start" fill="#000" >2.00 mm</text>
<rect x="367" y="54" width="14" height="7.2" fill="#f8c49c"/>
<text x="383" y="60" font-family='"Liberation Serif", serif' font-size="6.6" font-weight="bold" text-anchor="start" fill="#000" >2.50 mm</text>
<rect x="367" y="62.1" width="14" height="7.2" fill="#f4e49a"/>
<text x="383" y="68.1" font-family='"Liberation Serif", serif' font-size="6.6" font-weight="bold" text-anchor="start" fill="#000" >2.57 mm</text>
<rect x="367" y="70.2" width="14" height="7.2" fill="#78d078"/>
<text x="383" y="76.2" font-family='"Liberation Serif", serif' font-size="6.6" font-weight="bold" text-anchor="start" fill="#000" >3.00 mm</text>
<rect x="367" y="78.2" width="14" height="7.2" fill="#80c0f0"/>
<text x="383" y="84.2" font-family='"Liberation Serif", serif' font-size="6.6" font-weight="bold" text-anchor="start" fill="#000" >3.50 mm</text>
<rect x="367" y="86.2" width="14" height="7.2" fill="#a890e8"/>
<text x="383" y="92.2" font-family='"Liberation Serif", serif' font-size="6.6" font-weight="bold" text-anchor="start" fill="#000" >4.00 mm</text>
<rect x="367" y="94.3" width="14" height="7.2" fill="#c88ae8"/>
<text x="383" y="100.3" font-family='"Liberation Serif", serif' font-size="6.6" font-weight="bold" text-anchor="start" fill="#000" >4.50 mm</text>
<rect x="367" y="102.4" width="14" height="7.2" fill="#f49a9a"/>
<text x="383" y="108.4" font-family='"Liberation Serif", serif' font-size="6.6" font-weight="bold" text-anchor="start" fill="#000" >4.97 mm</text>
<rect x="367" y="110.4" width="14" height="7.2" fill="#f8c49c"/>
<text x="383" y="116.4" font-family='"Liberation Serif", serif' font-size="6.6" font-weight="bold" text-anchor="start" fill="#000" >5.00 mm</text>
<text x="415" y="58.3" font-family='"Liberation Serif", serif' font-size="8.3" font-weight="bold">EAB<tspan font-size="7" dy="2">max</tspan><tspan dy="-2">= 5.25 GHz</tspan></text>
<text x="410.5" y="74.5" font-family='"Liberation Serif", serif' font-size="8.5" font-weight="bold">RL<tspan font-size="7" dy="2">min</tspan><tspan dy="-2">= -17.60 dB</tspan></text>
<line x1="416" y1="67" x2="411.2" y2="52.9" stroke="#000" stroke-width="1"/>
<path d="M410.5 51L410.1 55.4L413.5 54.2Z" fill="#000"/>
<line x1="465" y1="53" x2="463.2" y2="47.9" stroke="#000" stroke-width="1"/>
<path d="M462.5 46L462.2 50.4L465.5 49.2Z" fill="#000"/>
<path d="M365.5 21L487.8 21L487.8 119L365.5 119Z" fill="none" stroke="#000" stroke-width="1.4"/>
<line x1="365.5" y1="21" x2="487.8" y2="21" stroke="#3a1a10" stroke-width="1.6"/>
<text x="367" y="34.8" font-family='"Liberation Serif", serif' font-size="16.5" font-weight="bold" text-anchor="start" fill="#000" >(c)</text>
<line x1="363.0" y1="21" x2="365.5" y2="21" stroke="#000" stroke-width="1"/>
<text x="362" y="23.5" font-family='"Liberation Serif", serif' font-size="7" font-weight="bold" text-anchor="end" fill="#000" >0</text>
<line x1="363.0" y1="37.3" x2="365.5" y2="37.3" stroke="#000" stroke-width="1"/>
<text x="362" y="39.8" font-family='"Liberation Serif", serif' font-size="7" font-weight="bold" text-anchor="end" fill="#000" >-10</text>
<line x1="363.0" y1="53.7" x2="365.5" y2="53.7" stroke="#000" stroke-width="1"/>
<text x="362" y="56.2" font-family='"Liberation Serif", serif' font-size="7" font-weight="bold" text-anchor="end" fill="#000" >-20</text>
<line x1="363.0" y1="70" x2="365.5" y2="70" stroke="#000" stroke-width="1"/>
<text x="362" y="72.5" font-family='"Liberation Serif", serif' font-size="7" font-weight="bold" text-anchor="end" fill="#000" >-30</text>
<line x1="363.0" y1="86.3" x2="365.5" y2="86.3" stroke="#000" stroke-width="1"/>
<text x="362" y="88.8" font-family='"Liberation Serif", serif' font-size="7" font-weight="bold" text-anchor="end" fill="#000" >-40</text>
<line x1="363.0" y1="102.7" x2="365.5" y2="102.7" stroke="#000" stroke-width="1"/>
<text x="362" y="105.2" font-family='"Liberation Serif", serif' font-size="7" font-weight="bold" text-anchor="end" fill="#000" >-50</text>
<line x1="363.0" y1="119" x2="365.5" y2="119" stroke="#000" stroke-width="1"/>
<text x="362" y="121.5" font-family='"Liberation Serif", serif' font-size="7" font-weight="bold" text-anchor="end" fill="#000" >-60</text>
<line x1="376.2" y1="119" x2="376.2" y2="121.5" stroke="#000" stroke-width="1"/>
<text x="376.2" y="128" font-family='"Liberation Serif", serif' font-size="7.2" font-weight="bold" text-anchor="middle" fill="#000" >2</text>
<line x1="390.2" y1="119" x2="390.2" y2="121.5" stroke="#000" stroke-width="1"/>
<text x="390.2" y="128" font-family='"Liberation Serif", serif' font-size="7.2" font-weight="bold" text-anchor="middle" fill="#000" >4</text>
<line x1="404.1" y1="119" x2="404.1" y2="121.5" stroke="#000" stroke-width="1"/>
<text x="404.1" y="128" font-family='"Liberation Serif", serif' font-size="7.2" font-weight="bold" text-anchor="middle" fill="#000" >6</text>
<line x1="418.1" y1="119" x2="418.1" y2="121.5" stroke="#000" stroke-width="1"/>
<text x="418.1" y="128" font-family='"Liberation Serif", serif' font-size="7.2" font-weight="bold" text-anchor="middle" fill="#000" >8</text>
<line x1="432" y1="119" x2="432" y2="121.5" stroke="#000" stroke-width="1"/>
<text x="432" y="128" font-family='"Liberation Serif", serif' font-size="7.2" font-weight="bold" text-anchor="middle" fill="#000" >10</text>
<line x1="446" y1="119" x2="446" y2="121.5" stroke="#000" stroke-width="1"/>
<text x="446" y="128" font-family='"Liberation Serif", serif' font-size="7.2" font-weight="bold" text-anchor="middle" fill="#000" >12</text>
<line x1="459.9" y1="119" x2="459.9" y2="121.5" stroke="#000" stroke-width="1"/>
<text x="459.9" y="128" font-family='"Liberation Serif", serif' font-size="7.2" font-weight="bold" text-anchor="middle" fill="#000" >14</text>
<line x1="473.9" y1="119" x2="473.9" y2="121.5" stroke="#000" stroke-width="1"/>
<text x="473.9" y="128" font-family='"Liberation Serif", serif' font-size="7.2" font-weight="bold" text-anchor="middle" fill="#000" >16</text>
<line x1="487.8" y1="119" x2="487.8" y2="121.5" stroke="#000" stroke-width="1"/>
<text x="487.8" y="128" font-family='"Liberation Serif", serif' font-size="7.2" font-weight="bold" text-anchor="middle" fill="#000" >18</text>
<text x="427.6" y="138" font-family='"Liberation Serif", serif' font-size="11.2" font-weight="bold" text-anchor="middle" fill="#000" >Frequency (GHz)</text>
<text x="0" y="0" font-family='"Liberation Serif", serif' font-size="11.5" font-weight="bold" text-anchor="middle" fill="#000" transform="translate(343.5,75) rotate(90)">RL (dB)</text>
<svg x="365.5" y="152.5" width="122.3" height="98.7" viewBox="365.5 152.5 122.3 98.7" overflow="hidden">
<path d="M365.5 152.5 421.9 152.5 426.6 153.7 432.5 156.3 451.5 158.1 480.2 162.1 489.9 163.1 489.9 152.5Z" fill="#f07a7a" fill-opacity="0.72"/>
<path d="M365.5 152.5 409.5 152.5 414.4 154 420.1 156.9 436 159.2 459 164.1 469.3 164.9 476.8 164.3 489.9 162 489.9 152.5Z" fill="#f8a860" fill-opacity="0.72"/>
<path d="M365.5 152.5 408.8 152.5 413.8 154 419.4 157 435.6 159.6 458.1 164.9 467.8 165.7 475.2 165 489.9 162.1 489.9 152.5Z" fill="#f0d040" fill-opacity="0.72"/>
<path d="M365.5 152.5 408.8 152.5 413.8 154.1 419.4 157.2 436.3 160.1 458.7 166.1 467.4 166.9 474.6 166.1 489.9 162.5 489.9 152.5Z" fill="#50b850" fill-opacity="0.72"/>
<path d="M365.5 152.5 398.9 152.6 403.8 154.3 408.8 157.4 420.1 159.8 436.6 164.9 444.1 165.7 450 165 463.1 161.7 471.2 160 489.9 157.9 489.9 152.5Z" fill="#30a8e0" fill-opacity="0.72"/>
<path d="M365.5 152.5 394.2 152.6 399.2 154.3 404.2 157.6 412.9 159.8 426.9 164.6 433.5 165.4 438.5 164.8 451.9 161 461.5 159.1 473.7 157.8 489.9 157 489.9 152.5Z" fill="#7060f0" fill-opacity="0.72"/>
<path d="M365.5 152.5 390.8 152.6 395.7 154.5 400.4 157.9 407.3 160 419.1 164.6 425 165.4 429.7 164.7 443.8 160.3 453.1 158.6 467.8 157.3 489.9 156.5 489.9 152.5Z" fill="#b040e8" fill-opacity="0.72"/>
<path d="M365.5 152.5 387.9 152.7 392.9 154.8 397.3 158.3 402.6 160.2 412.6 164.6 417.9 165.4 421.9 164.7 435.3 160.1 445.6 158.2 462.1 156.9 489.9 156.3 489.9 152.5Z" fill="#f07070" fill-opacity="0.72"/>
<path d="M365.5 152.5 384.2 152.5 385.8 152.8 390.4 154.9 394.8 158.7 406 164.1 409.1 165.3 412.3 165.6 415.7 164.9 428.2 160.1 439.1 158 456.8 156.8 489.9 156.2 489.9 152.5Z" fill="#f8a860" fill-opacity="0.72"/>
</svg>
<rect x="367" y="177.5" width="14" height="7.2" fill="#f49a9a"/>
<text x="383" y="183.5" font-family='"Liberation Serif", serif' font-size="6.6" font-weight="bold" text-anchor="start" fill="#000" >2.00 mm</text>
<rect x="367" y="185.6" width="14" height="7.2" fill="#f8c49c"/>
<text x="383" y="191.6" font-family='"Liberation Serif", serif' font-size="6.6" font-weight="bold" text-anchor="start" fill="#000" >2.50 mm</text>
<rect x="367" y="193.6" width="14" height="7.2" fill="#f4e49a"/>
<text x="383" y="199.6" font-family='"Liberation Serif", serif' font-size="6.6" font-weight="bold" text-anchor="start" fill="#000" >2.54 mm</text>
<rect x="367" y="201.7" width="14" height="7.2" fill="#78d078"/>
<text x="383" y="207.7" font-family='"Liberation Serif", serif' font-size="6.6" font-weight="bold" text-anchor="start" fill="#000" >2.55 mm</text>
<rect x="367" y="209.7" width="14" height="7.2" fill="#80c0f0"/>
<text x="383" y="215.7" font-family='"Liberation Serif", serif' font-size="6.6" font-weight="bold" text-anchor="start" fill="#000" >3.00 mm</text>
<rect x="367" y="217.8" width="14" height="7.2" fill="#a890e8"/>
<text x="383" y="223.8" font-family='"Liberation Serif", serif' font-size="6.6" font-weight="bold" text-anchor="start" fill="#000" >3.50 mm</text>
<rect x="367" y="225.8" width="14" height="7.2" fill="#c88ae8"/>
<text x="383" y="231.8" font-family='"Liberation Serif", serif' font-size="6.6" font-weight="bold" text-anchor="start" fill="#000" >4.00 mm</text>
<rect x="367" y="233.9" width="14" height="7.2" fill="#f49a9a"/>
<text x="383" y="239.9" font-family='"Liberation Serif", serif' font-size="6.6" font-weight="bold" text-anchor="start" fill="#000" >4.50 mm</text>
<rect x="367" y="241.9" width="14" height="7.2" fill="#f8c49c"/>
<text x="383" y="247.9" font-family='"Liberation Serif", serif' font-size="6.6" font-weight="bold" text-anchor="start" fill="#000" >5.00 mm</text>
<text x="418" y="187" font-family='"Liberation Serif", serif' font-size="8.8" font-weight="bold">RL<tspan font-size="7" dy="2">min</tspan><tspan dy="-2">= -8.69 dB</tspan></text>
<line x1="447" y1="180" x2="464.3" y2="168.6" stroke="#000" stroke-width="1"/>
<path d="M466 167.5L461.7 168.2L463.6 171.2Z" fill="#000"/>
<path d="M365.5 152.5L487.8 152.5L487.8 251.2L365.5 251.2Z" fill="none" stroke="#000" stroke-width="1.4"/>
<line x1="365.5" y1="152.5" x2="487.8" y2="152.5" stroke="#3a1a10" stroke-width="1.6"/>
<text x="367" y="166.3" font-family='"Liberation Serif", serif' font-size="16.5" font-weight="bold" text-anchor="start" fill="#000" >(f)</text>
<line x1="363.0" y1="152.5" x2="365.5" y2="152.5" stroke="#000" stroke-width="1"/>
<text x="362" y="155" font-family='"Liberation Serif", serif' font-size="7" font-weight="bold" text-anchor="end" fill="#000" >0</text>
<line x1="363.0" y1="168.9" x2="365.5" y2="168.9" stroke="#000" stroke-width="1"/>
<text x="362" y="171.4" font-family='"Liberation Serif", serif' font-size="7" font-weight="bold" text-anchor="end" fill="#000" >-10</text>
<line x1="363.0" y1="185.4" x2="365.5" y2="185.4" stroke="#000" stroke-width="1"/>
<text x="362" y="187.9" font-family='"Liberation Serif", serif' font-size="7" font-weight="bold" text-anchor="end" fill="#000" >-20</text>
<line x1="363.0" y1="201.8" x2="365.5" y2="201.8" stroke="#000" stroke-width="1"/>
<text x="362" y="204.3" font-family='"Liberation Serif", serif' font-size="7" font-weight="bold" text-anchor="end" fill="#000" >-30</text>
<line x1="363.0" y1="218.3" x2="365.5" y2="218.3" stroke="#000" stroke-width="1"/>
<text x="362" y="220.8" font-family='"Liberation Serif", serif' font-size="7" font-weight="bold" text-anchor="end" fill="#000" >-40</text>
<line x1="363.0" y1="234.8" x2="365.5" y2="234.8" stroke="#000" stroke-width="1"/>
<text x="362" y="237.2" font-family='"Liberation Serif", serif' font-size="7" font-weight="bold" text-anchor="end" fill="#000" >-50</text>
<line x1="363.0" y1="251.2" x2="365.5" y2="251.2" stroke="#000" stroke-width="1"/>
<text x="362" y="253.7" font-family='"Liberation Serif", serif' font-size="7" font-weight="bold" text-anchor="end" fill="#000" >-60</text>
<line x1="376.2" y1="251.2" x2="376.2" y2="253.7" stroke="#000" stroke-width="1"/>
<text x="376.2" y="260.2" font-family='"Liberation Serif", serif' font-size="7.2" font-weight="bold" text-anchor="middle" fill="#000" >2</text>
<line x1="390.2" y1="251.2" x2="390.2" y2="253.7" stroke="#000" stroke-width="1"/>
<text x="390.2" y="260.2" font-family='"Liberation Serif", serif' font-size="7.2" font-weight="bold" text-anchor="middle" fill="#000" >4</text>
<line x1="404.1" y1="251.2" x2="404.1" y2="253.7" stroke="#000" stroke-width="1"/>
<text x="404.1" y="260.2" font-family='"Liberation Serif", serif' font-size="7.2" font-weight="bold" text-anchor="middle" fill="#000" >6</text>
<line x1="418.1" y1="251.2" x2="418.1" y2="253.7" stroke="#000" stroke-width="1"/>
<text x="418.1" y="260.2" font-family='"Liberation Serif", serif' font-size="7.2" font-weight="bold" text-anchor="middle" fill="#000" >8</text>
<line x1="432" y1="251.2" x2="432" y2="253.7" stroke="#000" stroke-width="1"/>
<text x="432" y="260.2" font-family='"Liberation Serif", serif' font-size="7.2" font-weight="bold" text-anchor="middle" fill="#000" >10</text>
<line x1="446" y1="251.2" x2="446" y2="253.7" stroke="#000" stroke-width="1"/>
<text x="446" y="260.2" font-family='"Liberation Serif", serif' font-size="7.2" font-weight="bold" text-anchor="middle" fill="#000" >12</text>
<line x1="459.9" y1="251.2" x2="459.9" y2="253.7" stroke="#000" stroke-width="1"/>
<text x="459.9" y="260.2" font-family='"Liberation Serif", serif' font-size="7.2" font-weight="bold" text-anchor="middle" fill="#000" >14</text>
<line x1="473.9" y1="251.2" x2="473.9" y2="253.7" stroke="#000" stroke-width="1"/>
<text x="473.9" y="260.2" font-family='"Liberation Serif", serif' font-size="7.2" font-weight="bold" text-anchor="middle" fill="#000" >16</text>
<line x1="487.8" y1="251.2" x2="487.8" y2="253.7" stroke="#000" stroke-width="1"/>
<text x="487.8" y="260.2" font-family='"Liberation Serif", serif' font-size="7.2" font-weight="bold" text-anchor="middle" fill="#000" >18</text>
<text x="427.6" y="270.2" font-family='"Liberation Serif", serif' font-size="11.2" font-weight="bold" text-anchor="middle" fill="#000" >Frequency (GHz)</text>
<text x="0" y="0" font-family='"Liberation Serif", serif' font-size="11.5" font-weight="bold" text-anchor="middle" fill="#000" transform="translate(343.5,206.8) rotate(90)">RL (dB)</text>
<svg x="365.5" y="286.4" width="122.3" height="98.4" viewBox="365.5 286.4 122.3 98.4" overflow="hidden">
<path d="M365.5 286.4 422.2 286.4 426.9 288.2 432.5 291.6 451.5 294.6 459.3 296.5 466.5 298.8 476.8 303.4 489.9 311.3 489.9 286.4Z" fill="#f07a7a" fill-opacity="0.72"/>
<path d="M365.5 286.4 410.4 286.4 415.4 288.1 420.7 291.3 435 294.3 440.9 296.2 445.9 298.5 450.6 301.2 454.7 304.5 458.1 308.2 460.9 312.4 463.1 316.9 465 322.3 468.1 337.5 468.7 338.8 471.2 322.2 473.7 313.5 476.5 308.1 479.9 303.9 484.3 300.6 489.9 298 489.9 286.4Z" fill="#f07030" fill-opacity="0.72"/>
<path d="M365.5 286.4 407.9 286.4 410.1 287.8 412.9 290.4 418.2 297.8 426.9 300.5 433.8 303.1 440 306.2 445.3 309.7 449.7 313.5 453.1 317.5 455.9 322 458.4 327.7 460 332.9 461.2 339.1 463.4 360.2 465 333 466.2 324.9 468.1 318.1 471.5 311 476.2 305.7 482.1 301.8 489.9 299 489.9 286.4Z" fill="#f0d040" fill-opacity="0.72"/>
<path d="M365.5 286.4 408.2 286.5 410.4 288.2 412.9 291.1 418.5 300.3 427.9 303.3 435.6 306.5 442.2 310.1 447.8 314.3 451.9 318.4 455.3 323.2 457.8 328.1 460 334.6 461.5 342.1 462.5 349.7 463.7 372.7 464.3 348.4 465 338.3 466.2 328.5 467.8 321.8 470.9 314.3 473.1 311 475.6 308.2 478.4 305.8 481.8 303.6 489.9 300.3 489.9 286.4Z" fill="#50b850" fill-opacity="0.72"/>
<path d="M365.5 286.4 394.8 286.4 397.9 287.6 401.7 290.4 405.4 294.6 410.4 296.5 415.1 298.8 419.1 301.6 422.6 304.6 425.4 307.8 427.9 311.5 433.5 323.6 434.7 324.9 435.6 323.6 438.1 314.7 440.6 308.6 443.8 304 447.5 300.6 453.4 297.8 461.5 296.1 472.1 295.4 489.9 295.5 489.9 286.4Z" fill="#30a8e0" fill-opacity="0.72"/>
<path d="M365.5 286.4 389.8 286.4 393.9 288.3 397.3 291.3 400.4 295.3 404.5 297.3 407.9 299.6 411 302.2 413.8 305.4 416 308.6 418.2 312.7 422.6 325.4 423.5 327 424.1 326.3 426.6 314.7 428.8 308.5 431.9 303.6 436 300.1 441.9 297.7 450.3 296.6 460.9 296.5 489.9 297.3 489.9 286.4Z" fill="#7060f0" fill-opacity="0.72"/>
<path d="M365.5 286.4 386.4 286.4 389.8 287.6 393.6 290.2 396.7 293.8 401 296.3 404.8 299.3 408.5 303.6 413.8 311.5 414.8 312.3 416 312.7 417.3 311.7 421.3 305.1 423.8 302.4 427.5 300.1 431.9 298.9 441.9 298.5 469.3 300 489.9 300.7 489.9 286.4Z" fill="#b040e8" fill-opacity="0.72"/>
<path d="M365.5 286.4 383.6 286.4 387 287.3 390.1 289.1 394.2 293.1 399.8 296.7 407.6 304.5 410.1 305.5 411.6 304.8 415.4 300.4 418.2 298.1 421.6 296.6 425.7 295.8 432.8 295.7 462.1 297.1 489.9 297.7 489.9 286.4Z" fill="#e85080" fill-opacity="0.72"/>
<path d="M365.5 286.4 381.1 286.4 384.8 287.5 388.6 290 391.7 293.7 396.1 297.1 402 303.4 403.2 304.3 404.5 304.5 405.7 303.6 409.5 298.3 412.3 295.4 415.4 293.5 419.4 292.2 424.7 291.5 432.8 291.2 489.9 291.4 489.9 286.4Z" fill="#f8a860" fill-opacity="0.72"/>
</svg>
<rect x="367" y="311.4" width="14" height="7.2" fill="#f49a9a"/>
<text x="383" y="317.4" font-family='"Liberation Serif", serif' font-size="6.6" font-weight="bold" text-anchor="start" fill="#000" >2.00 mm</text>
<rect x="367" y="319.4" width="14" height="7.2" fill="#f8c49c"/>
<text x="383" y="325.4" font-family='"Liberation Serif", serif' font-size="6.6" font-weight="bold" text-anchor="start" fill="#000" >2.50 mm</text>
<rect x="367" y="327.5" width="14" height="7.2" fill="#f4e49a"/>
<text x="383" y="333.5" font-family='"Liberation Serif", serif' font-size="6.6" font-weight="bold" text-anchor="start" fill="#000" >2.62 mm</text>
<rect x="367" y="335.5" width="14" height="7.2" fill="#78d078"/>
<text x="383" y="341.5" font-family='"Liberation Serif", serif' font-size="6.6" font-weight="bold" text-anchor="start" fill="#000" >2.64 mm</text>
<rect x="367" y="343.6" width="14" height="7.2" fill="#80c0f0"/>
<text x="383" y="349.6" font-family='"Liberation Serif", serif' font-size="6.6" font-weight="bold" text-anchor="start" fill="#000" >3.00 mm</text>
<rect x="367" y="351.6" width="14" height="7.2" fill="#a890e8"/>
<text x="383" y="357.6" font-family='"Liberation Serif", serif' font-size="6.6" font-weight="bold" text-anchor="start" fill="#000" >3.50 mm</text>
<rect x="367" y="359.7" width="14" height="7.2" fill="#c88ae8"/>
<text x="383" y="365.7" font-family='"Liberation Serif", serif' font-size="6.6" font-weight="bold" text-anchor="start" fill="#000" >4.00 mm</text>
<rect x="367" y="367.8" width="14" height="7.2" fill="#f49a9a"/>
<text x="383" y="373.8" font-family='"Liberation Serif", serif' font-size="6.6" font-weight="bold" text-anchor="start" fill="#000" >4.50 mm</text>
<rect x="367" y="375.8" width="14" height="7.2" fill="#f8c49c"/>
<text x="383" y="381.8" font-family='"Liberation Serif", serif' font-size="6.6" font-weight="bold" text-anchor="start" fill="#000" >5.00 mm</text>
<text x="409" y="346.5" font-family='"Liberation Serif", serif' font-size="8.5" font-weight="bold">EAB<tspan font-size="7" dy="2">max</tspan><tspan dy="-2">= 7.79 GHz</tspan></text>
<text x="411.5" y="379.5" font-family='"Liberation Serif", serif' font-size="8.5" font-weight="bold">RL<tspan font-size="7" dy="2">min</tspan><tspan dy="-2">= -52.73 dB</tspan></text>
<line x1="449" y1="347" x2="460.7" y2="352.6" stroke="#000" stroke-width="1"/>
<path d="M462.5 353.5L459.7 350.1L458.1 353.4Z" fill="#000"/>
<line x1="450" y1="370.5" x2="459.7" y2="365.4" stroke="#000" stroke-width="1"/>
<path d="M461.5 364.5L457.1 364.8L458.8 367.9Z" fill="#000"/>
<path d="M365.5 286.4L487.8 286.4L487.8 384.8L365.5 384.8Z" fill="none" stroke="#000" stroke-width="1.4"/>
<line x1="365.5" y1="286.4" x2="487.8" y2="286.4" stroke="#3a1a10" stroke-width="1.6"/>
<text x="367" y="300.2" font-family='"Liberation Serif", serif' font-size="16.5" font-weight="bold" text-anchor="start" fill="#000" >(i)</text>
<line x1="363.0" y1="286.4" x2="365.5" y2="286.4" stroke="#000" stroke-width="1"/>
<text x="362" y="288.9" font-family='"Liberation Serif", serif' font-size="7" font-weight="bold" text-anchor="end" fill="#000" >0</text>
<line x1="363.0" y1="302.8" x2="365.5" y2="302.8" stroke="#000" stroke-width="1"/>
<text x="362" y="305.3" font-family='"Liberation Serif", serif' font-size="7" font-weight="bold" text-anchor="end" fill="#000" >-10</text>
<line x1="363.0" y1="319.2" x2="365.5" y2="319.2" stroke="#000" stroke-width="1"/>
<text x="362" y="321.7" font-family='"Liberation Serif", serif' font-size="7" font-weight="bold" text-anchor="end" fill="#000" >-20</text>
<line x1="363.0" y1="335.6" x2="365.5" y2="335.6" stroke="#000" stroke-width="1"/>
<text x="362" y="338.1" font-family='"Liberation Serif", serif' font-size="7" font-weight="bold" text-anchor="end" fill="#000" >-30</text>
<line x1="363.0" y1="352" x2="365.5" y2="352" stroke="#000" stroke-width="1"/>
<text x="362" y="354.5" font-family='"Liberation Serif", serif' font-size="7" font-weight="bold" text-anchor="end" fill="#000" >-40</text>
<line x1="363.0" y1="368.4" x2="365.5" y2="368.4" stroke="#000" stroke-width="1"/>
<text x="362" y="370.9" font-family='"Liberation Serif", serif' font-size="7" font-weight="bold" text-anchor="end" fill="#000" >-50</text>
<line x1="363.0" y1="384.8" x2="365.5" y2="384.8" stroke="#000" stroke-width="1"/>
<text x="362" y="387.3" font-family='"Liberation Serif", serif' font-size="7" font-weight="bold" text-anchor="end" fill="#000" >-60</text>
<line x1="376.2" y1="384.8" x2="376.2" y2="387.3" stroke="#000" stroke-width="1"/>
<text x="376.2" y="393.8" font-family='"Liberation Serif", serif' font-size="7.2" font-weight="bold" text-anchor="middle" fill="#000" >2</text>
<line x1="390.2" y1="384.8" x2="390.2" y2="387.3" stroke="#000" stroke-width="1"/>
<text x="390.2" y="393.8" font-family='"Liberation Serif", serif' font-size="7.2" font-weight="bold" text-anchor="middle" fill="#000" >4</text>
<line x1="404.1" y1="384.8" x2="404.1" y2="387.3" stroke="#000" stroke-width="1"/>
<text x="404.1" y="393.8" font-family='"Liberation Serif", serif' font-size="7.2" font-weight="bold" text-anchor="middle" fill="#000" >6</text>
<line x1="418.1" y1="384.8" x2="418.1" y2="387.3" stroke="#000" stroke-width="1"/>
<text x="418.1" y="393.8" font-family='"Liberation Serif", serif' font-size="7.2" font-weight="bold" text-anchor="middle" fill="#000" >8</text>
<line x1="432" y1="384.8" x2="432" y2="387.3" stroke="#000" stroke-width="1"/>
<text x="432" y="393.8" font-family='"Liberation Serif", serif' font-size="7.2" font-weight="bold" text-anchor="middle" fill="#000" >10</text>
<line x1="446" y1="384.8" x2="446" y2="387.3" stroke="#000" stroke-width="1"/>
<text x="446" y="393.8" font-family='"Liberation Serif", serif' font-size="7.2" font-weight="bold" text-anchor="middle" fill="#000" >12</text>
<line x1="459.9" y1="384.8" x2="459.9" y2="387.3" stroke="#000" stroke-width="1"/>
<text x="459.9" y="393.8" font-family='"Liberation Serif", serif' font-size="7.2" font-weight="bold" text-anchor="middle" fill="#000" >14</text>
<line x1="473.9" y1="384.8" x2="473.9" y2="387.3" stroke="#000" stroke-width="1"/>
<text x="473.9" y="393.8" font-family='"Liberation Serif", serif' font-size="7.2" font-weight="bold" text-anchor="middle" fill="#000" >16</text>
<line x1="487.8" y1="384.8" x2="487.8" y2="387.3" stroke="#000" stroke-width="1"/>
<text x="487.8" y="393.8" font-family='"Liberation Serif", serif' font-size="7.2" font-weight="bold" text-anchor="middle" fill="#000" >18</text>
<text x="427.6" y="403.8" font-family='"Liberation Serif", serif' font-size="11.2" font-weight="bold" text-anchor="middle" fill="#000" >Frequency (GHz)</text>
<text x="0" y="0" font-family='"Liberation Serif", serif' font-size="11.5" font-weight="bold" text-anchor="middle" fill="#000" transform="translate(343.5,340.6) rotate(90)">RL (dB)</text>
<line x1="88.6" y1="15.7" x2="87.8" y2="81.6" stroke="#c8c8c8" stroke-width="0.6"/>
<line x1="88.6" y1="15.7" x2="147.7" y2="22" stroke="#555" stroke-width="0.7" stroke-dasharray="2 1.5"/>
<line x1="147.7" y1="22" x2="144.6" y2="97" stroke="#bbb" stroke-width="0.6" stroke-dasharray="2 1.5"/>
<path d="M37.3 100.3 96.3 121.7 144.6 97 87.8 81.6Z" fill="#e10000"/>
<path d="M110.5 112.5 112 113.7 114.7 112.3 109 106 107.1 102.7 106 99.3 106.4 93.9 109.6 87.5 104.7 86.2 102.6 88.8 100.9 92.1 100.4 94.6 100.6 97.3 102 101.4 103.9 104.9 107 109 110.5 112.5Z" fill="#ffdd00" fill-rule="evenodd"/>
<path d="M110.2 114.6 112 113.7 108.5 110.6 104.7 106.2 102.5 102.5 100.9 98.3 100.4 95.1 100.9 92.1 102.6 88.8 104.7 86.2 103.3 85.8 100.6 89 98.8 92.4 98.1 95.4 98.5 98.8 99.9 102.8 102.3 106.6 106 110.8 110.2 114.6ZM114 111.7 114.7 112.3 116.7 111.3 111.3 104.9 109.7 101.9 108.7 98.8 108.9 93.6 111.3 88 109.6 87.5 106.4 93.9 106 99.3 108.2 104.7 114 111.7Z" fill="#ffd400" fill-rule="evenodd"/>
<path d="M107.7 113.9 109.2 115.1 110.2 114.6 106 110.8 102.1 106.4 99.9 102.7 98.3 98.2 98.1 95.6 98.5 93.1 100.2 89.5 103.3 85.8 102.3 85.5 99.1 89.2 97.5 92 96.6 95.2 96.7 98.1 97.7 101.5 100.2 106 103.2 109.7 107.7 113.9ZM116.7 111.3 117.9 110.6 113.1 104.8 110.6 99.4 110.4 94.1 112.6 88.3 111.3 88 108.9 93.6 108.7 98.8 109.7 101.9 111.3 104.9 116.7 111.3Z" fill="#ffc300" fill-rule="evenodd"/>
<path d="M107.6 114.9 108.3 115.5 109.2 115.1 104.4 110.9 100.6 106.6 98.3 102.8 96.7 98.1 96.6 95.3 97.2 92.8 99.1 89.2 102.3 85.5 101.6 85.3 98.2 89 96.1 92.5 95.3 95.2 95.5 98.7 97.2 103.3 99.6 107.1 103.5 111.3 107.6 114.9ZM117.9 110.6 119 110.1 114.3 104.2 112 98.9 111.8 93.7 113.7 88.6 112.6 88.3 110.4 94.1 110.6 99.4 113.1 104.8 117.9 110.6Z" fill="#fca400" fill-rule="evenodd"/>
<path d="M107.4 116 108.3 115.5 102.3 110.1 98.7 105.8 96.5 102 95.5 98.7 95.3 95.9 96 92.9 98.2 89 101.6 85.3 100.7 85.1 97.2 88.7 94.9 92.1 93.8 95.8 94 99.3 95.9 103.9 98.4 107.6 101.8 111.2 107.4 116ZM119 110.1 120.3 109.4 115.9 103.8 113.7 98.5 113.5 93.7 115.1 89 113.7 88.6 111.8 93.7 112 98.9 114.3 104.2 119 110.1Z" fill="#fa8700" fill-rule="evenodd"/>
<path d="M104 114.8 106.3 116.6 107.4 116 101.8 111.2 98.4 107.6 95.2 102.6 93.9 98.6 93.8 95.8 94.6 92.8 97.2 88.7 100.7 85.1 99.5 84.8 95.3 89 93 92.4 91.9 95.5 91.9 98.8 93.6 103.3 96 107 99.9 111.3 104 114.8ZM120.3 109.4 126.1 106.4 123.4 102.4 121.7 98.3 121 94.6 121.3 90.7 115.1 89 113.5 93.7 113.7 98.5 115.9 103.8 120.3 109.4Z" fill="#f66900" fill-rule="evenodd"/>
<path d="M104.8 117.3 106.3 116.6 100.5 111.9 96 107 93.6 103.3 91.9 98.8 91.9 95.5 93 92.4 95.3 89 99.5 84.8 98 84.4 93.6 88.5 90.6 92.4 89.3 95.7 89.3 99.2 91 103.7 94.6 108.6 98.1 112.1 104.8 117.3ZM125.6 105.8 126.1 106.4 130.6 104.1 127.5 98.1 126.6 92.1 121.3 90.7 121 94.6 121.7 98.3 123.1 101.7 125.6 105.8Z" fill="#f24b00" fill-rule="evenodd"/>
<path d="M99.9 116.9 102.4 118.6 104.8 117.3 98.1 112.1 93.6 107.4 90.4 102.4 89.2 98.5 89.3 95.6 91 91.8 93.6 88.5 98 84.4 95.7 83.7 90.3 88.3 86.9 92.3 85.1 96 84.9 99.6 86.7 104 89.9 108.2 95.4 113.5 99.9 116.9ZM130.1 103.5 130.6 104.1 144.6 97 126.6 92.1 127.5 98.1 130.1 103.5Z" fill="#ed2d00" fill-rule="evenodd"/>
<path d="M38.1 100.6 96.3 121.7 102.4 118.6 95.4 113.5 89.9 108.2 86.7 104 84.9 99.6 85.1 96 86.9 92.3 90.3 88.3 95.7 83.7 87.8 81.6 37.3 100.3 38.1 100.6Z" fill="#e20200" fill-rule="evenodd"/>
<path d="M109.2 115.1 104.7 111.2 101 107.1 98.4 103 96.9 99 96.6 95.7 97.3 92.5 99.2 89.2 102.4 85.5" fill="none" stroke="#7030c0" stroke-width="0.9"/>
<path d="M112.6 88.3 110.4 94 110.6 99.1 113.1 104.7 117.9 110.6" fill="none" stroke="#7030c0" stroke-width="0.9"/>
<g transform="scale(0.5)" stroke-width="1">
<path d="M173 33 175 34 178 34 180 35 183 36 188 35 185 34 182 34 180 33 177 33Z" fill="#dc0000" stroke="#dc0000"/>
<path d="M183 36 186 36 188 38 191 39 196 39 193 37 190 36 188 35Z" fill="#dc0a00" stroke="#dc0a00"/>
<path d="M191 39 194 41 198 41 196 39Z" fill="#dc1400" stroke="#dc1400"/>
<path d="M194 41 197 43 201 44 198 41Z" fill="#d21e00" stroke="#d21e00"/>
<path d="M197 43 199 46 204 48 201 44Z" fill="#d23200" stroke="#d23200"/>
<path d="M199 46 202 50 206 54 204 48Z" fill="#d24600" stroke="#d24600"/>
<path d="M202 50 205 56 209 61 206 54Z" fill="#d25a00" stroke="#d25a00"/>
<path d="M205 56 207 63 212 69 209 61Z" fill="#d27800" stroke="#d27800"/>
<path d="M207 63 210 71 214 75 212 69Z" fill="#d29600" stroke="#d29600"/>
<path d="M210 71 213 77 217 77 214 75Z" fill="#d2aa00" stroke="#d2aa00"/>
<path d="M213 77 215 78 220 74 217 77Z" fill="#f0be00" stroke="#f0be00"/>
<path d="M215 78 218 75 223 68 220 74Z" fill="#fabe00" stroke="#fabe00"/>
<path d="M218 75 221 69 226 62 223 68Z" fill="#faaa00" stroke="#faaa00"/>
<path d="M221 69 224 63 229 57 226 62Z" fill="#fa8c00" stroke="#fa8c00"/>
<path d="M224 63 227 58 232 54 229 57Z" fill="#fa6e00" stroke="#fa6e00"/>
<path d="M227 58 230 55 235 54 232 54Z" fill="#fa5a00" stroke="#fa5a00"/>
<path d="M230 55 233 55 236 56 241 55 238 54 235 54Z" fill="#f05a00" stroke="#f05a00"/>
<path d="M236 56 239 56 242 56 246 56 249 57 252 57 255 57 258 57 261 57 264 58 268 58 271 58 274 59 277 59 281 60 284 60 287 60 291 61 295 60 291 59 288 59 285 59 282 58 278 58 275 57 272 57 269 57 265 56 262 56 259 56 256 55 253 55 250 55 247 55 244 55 241 55Z" fill="#f05000" stroke="#f05000"/>
<path d="M168 34 171 34 173 35 176 35 179 36 183 36 180 35 178 34 175 34 173 33Z" fill="#dc0000" stroke="#dc0000"/>
<path d="M179 36 181 37 184 38 187 39 189 40 194 41 191 39 188 38 186 36 183 36Z" fill="#dc0a00" stroke="#dc0a00"/>
<path d="M189 40 192 42 197 43 194 41Z" fill="#dc1400" stroke="#dc1400"/>
<path d="M192 42 195 45 199 46 197 43Z" fill="#d22800" stroke="#d22800"/>
<path d="M195 45 197 48 202 50 199 46Z" fill="#d23200" stroke="#d23200"/>
<path d="M197 48 200 53 205 56 202 50Z" fill="#d24600" stroke="#d24600"/>
<path d="M200 53 203 58 207 63 205 56Z" fill="#d26400" stroke="#d26400"/>
<path d="M203 58 206 66 210 71 207 63Z" fill="#d28200" stroke="#d28200"/>
<path d="M206 66 208 73 213 77 210 71Z" fill="#d2a000" stroke="#d2a000"/>
<path d="M208 73 211 79 215 78 213 77Z" fill="#d2aa00" stroke="#d2aa00"/>
<path d="M211 79 214 80 218 75 215 78Z" fill="#f0c800" stroke="#f0c800"/>
<path d="M214 80 217 77 221 69 218 75Z" fill="#fabe00" stroke="#fabe00"/>
<path d="M217 77 220 71 224 63 221 69Z" fill="#faaa00" stroke="#faaa00"/>
<path d="M220 71 223 65 227 58 224 63Z" fill="#fa8c00" stroke="#fa8c00"/>
<path d="M223 65 226 60 230 55 227 58Z" fill="#fa6e00" stroke="#fa6e00"/>
<path d="M226 60 229 57 233 55 230 55Z" fill="#fa5a00" stroke="#fa5a00"/>
<path d="M229 57 232 57 235 57 239 56 236 56 233 55Z" fill="#f05a00" stroke="#f05a00"/>
<path d="M235 57 238 57 241 58 244 58 247 58 250 58 254 58 257 59 260 59 263 59 266 59 270 60 273 60 276 61 280 61 283 62 286 62 291 61 287 60 284 60 281 60 277 59 274 59 271 58 268 58 264 58 261 57 258 57 255 57 252 57 249 57 246 56 242 56 239 56Z" fill="#f05000" stroke="#f05000"/>
<path d="M163 35 166 35 169 35 171 36 174 37 177 37 181 37 179 36 176 35 173 35 171 34 168 34Z" fill="#dc0000" stroke="#dc0000"/>
<path d="M177 37 179 38 182 39 185 40 187 42 192 42 189 40 187 39 184 38 181 37Z" fill="#dc0a00" stroke="#dc0a00"/>
<path d="M187 42 190 44 195 45 192 42Z" fill="#dc1e00" stroke="#dc1e00"/>
<path d="M190 44 193 46 197 48 195 45Z" fill="#d22800" stroke="#d22800"/>
<path d="M193 46 196 50 200 53 197 48Z" fill="#d23c00" stroke="#d23c00"/>
<path d="M196 50 198 54 203 58 200 53Z" fill="#d25000" stroke="#d25000"/>
<path d="M198 54 201 60 206 66 203 58Z" fill="#d26400" stroke="#d26400"/>
<path d="M201 60 204 67 208 73 206 66Z" fill="#d28200" stroke="#d28200"/>
<path d="M204 67 206 75 211 79 208 73Z" fill="#d2a000" stroke="#d2a000"/>
<path d="M206 75 209 80 214 80 211 79Z" fill="#d2aa00" stroke="#d2aa00"/>
<path d="M209 80 212 82 217 77 214 80Z" fill="#f0be00" stroke="#f0be00"/>
<path d="M212 82 215 79 220 71 217 77Z" fill="#fabe00" stroke="#fabe00"/>
<path d="M215 79 218 73 223 65 220 71Z" fill="#faaa00" stroke="#faaa00"/>
<path d="M218 73 221 68 226 60 223 65Z" fill="#fa8c00" stroke="#fa8c00"/>
<path d="M221 68 224 63 229 57 226 60Z" fill="#fa7800" stroke="#fa7800"/>
<path d="M224 63 227 59 232 57 229 57Z" fill="#fa6400" stroke="#fa6400"/>
<path d="M227 59 230 58 235 57 232 57Z" fill="#fa5a00" stroke="#fa5a00"/>
<path d="M230 58 234 58 237 59 241 58 238 57 235 57Z" fill="#f05a00" stroke="#f05a00"/>
<path d="M237 59 240 59 243 59 246 60 249 60 252 60 256 60 259 60 262 61 265 61 269 61 272 62 275 62 279 63 282 63 286 62 283 62 280 61 276 61 273 60 270 60 266 59 263 59 260 59 257 59 254 58 250 58 247 58 244 58 241 58Z" fill="#f05000" stroke="#f05000"/>
<path d="M159 35 161 36 164 36 167 37 169 37 172 38 175 39 179 38 177 37 174 37 171 36 169 35 166 35 163 35Z" fill="#dc0000" stroke="#dc0000"/>
<path d="M175 39 177 39 180 40 183 42 187 42 185 40 182 39 179 38Z" fill="#dc0a00" stroke="#dc0a00"/>
<path d="M183 42 185 43 190 44 187 42Z" fill="#dc1400" stroke="#dc1400"/>
<path d="M185 43 188 45 193 46 190 44Z" fill="#dc1e00" stroke="#dc1e00"/>
<path d="M188 45 191 48 196 50 193 46Z" fill="#d22800" stroke="#d22800"/>
<path d="M191 48 194 51 198 54 196 50Z" fill="#d23c00" stroke="#d23c00"/>
<path d="M194 51 197 56 201 60 198 54Z" fill="#d25000" stroke="#d25000"/>
<path d="M197 56 199 62 204 67 201 60Z" fill="#d26400" stroke="#d26400"/>
<path d="M199 62 202 68 206 75 204 67Z" fill="#d28200" stroke="#d28200"/>
<path d="M202 68 205 75 208 81 212 82 209 80 206 75Z" fill="#d2a000" stroke="#d2a000"/>
<path d="M208 81 210 83 215 79 212 82Z" fill="#e6be00" stroke="#e6be00"/>
<path d="M210 83 213 81 218 73 215 79Z" fill="#ffc800" stroke="#ffc800"/>
<path d="M213 81 216 76 221 68 218 73Z" fill="#fab400" stroke="#fab400"/>
<path d="M216 76 220 70 224 63 221 68Z" fill="#fa9600" stroke="#fa9600"/>
<path d="M220 70 223 65 227 59 224 63Z" fill="#fa7800" stroke="#fa7800"/>
<path d="M223 65 226 61 230 58 227 59Z" fill="#fa6400" stroke="#fa6400"/>
<path d="M226 61 229 59 234 58 230 58Z" fill="#fa5a00" stroke="#fa5a00"/>
<path d="M229 59 232 60 235 60 240 59 237 59 234 58Z" fill="#f05a00" stroke="#f05a00"/>
<path d="M235 60 238 61 241 61 245 61 248 61 251 62 254 62 258 62 261 62 264 62 267 63 271 63 274 64 278 64 282 63 279 63 275 62 272 62 269 61 265 61 262 61 259 60 256 60 252 60 249 60 246 60 243 59 240 59Z" fill="#f05000" stroke="#f05000"/>
<path d="M154 36 157 36 159 37 162 37 164 38 167 38 170 39 175 39 172 38 169 37 167 37 164 36 161 36 159 35Z" fill="#dc0000" stroke="#dc0000"/>
<path d="M170 39 173 40 175 41 178 42 181 43 185 43 183 42 180 40 177 39 175 39Z" fill="#dc0a00" stroke="#dc0a00"/>
<path d="M181 43 184 45 188 45 185 43Z" fill="#dc1400" stroke="#dc1400"/>
<path d="M184 45 186 47 191 48 188 45Z" fill="#dc1e00" stroke="#dc1e00"/>
<path d="M186 47 189 49 194 51 191 48Z" fill="#d22800" stroke="#d22800"/>
<path d="M189 49 192 53 197 56 194 51Z" fill="#d23c00" stroke="#d23c00"/>
<path d="M192 53 195 57 199 62 197 56Z" fill="#d25000" stroke="#d25000"/>
<path d="M195 57 197 62 202 68 199 62Z" fill="#d26400" stroke="#d26400"/>
<path d="M197 62 200 69 205 75 202 68Z" fill="#d28200" stroke="#d28200"/>
<path d="M200 69 203 75 208 81 205 75Z" fill="#d29600" stroke="#d29600"/>
<path d="M203 75 206 81 210 83 208 81Z" fill="#d2a000" stroke="#d2a000"/>
<path d="M206 81 209 84 213 81 210 83Z" fill="#dcb400" stroke="#dcb400"/>
<path d="M209 84 212 83 216 76 213 81Z" fill="#ffc800" stroke="#ffc800"/>
<path d="M212 83 215 79 220 70 216 76Z" fill="#fab400" stroke="#fab400"/>
<path d="M215 79 218 74 223 65 220 70Z" fill="#faa000" stroke="#faa000"/>
<path d="M218 74 221 69 226 61 223 65Z" fill="#fa8200" stroke="#fa8200"/>
<path d="M221 69 224 65 229 59 226 61Z" fill="#fa6e00" stroke="#fa6e00"/>
<path d="M224 65 227 61 232 60 229 59Z" fill="#fa5a00" stroke="#fa5a00"/>
<path d="M227 61 231 61 234 62 237 62 241 61 238 61 235 60 232 60Z" fill="#f05a00" stroke="#f05a00"/>
<path d="M237 62 240 62 243 63 246 63 250 63 253 63 256 64 260 64 263 64 266 64 270 65 273 65 278 64 274 64 271 63 267 63 264 62 261 62 258 62 254 62 251 62 248 61 245 61 241 61Z" fill="#f05000" stroke="#f05000"/>
<path d="M149 37 152 37 154 37 157 38 160 38 162 39 165 40 168 40 173 40 170 39 167 38 164 38 162 37 159 37 157 36 154 36Z" fill="#dc0000" stroke="#dc0000"/>
<path d="M168 40 170 41 173 42 176 43 179 44 184 45 181 43 178 42 175 41 173 40Z" fill="#dc0a00" stroke="#dc0a00"/>
<path d="M179 44 181 46 186 47 184 45Z" fill="#dc1400" stroke="#dc1400"/>
<path d="M181 46 184 48 189 49 186 47Z" fill="#dc1e00" stroke="#dc1e00"/>
<path d="M184 48 187 50 192 53 189 49Z" fill="#d22800" stroke="#d22800"/>
<path d="M187 50 190 54 195 57 192 53Z" fill="#d23c00" stroke="#d23c00"/>
<path d="M190 54 193 57 197 62 195 57Z" fill="#d25000" stroke="#d25000"/>
<path d="M193 57 196 62 200 69 197 62Z" fill="#d26400" stroke="#d26400"/>
<path d="M196 62 198 68 203 75 200 69Z" fill="#d27800" stroke="#d27800"/>
<path d="M198 68 201 75 206 81 203 75Z" fill="#d29600" stroke="#d29600"/>
<path d="M201 75 204 81 209 84 206 81Z" fill="#d2a000" stroke="#d2a000"/>
<path d="M204 81 207 85 212 83 209 84Z" fill="#d2aa00" stroke="#d2aa00"/>
<path d="M207 85 210 85 215 79 212 83Z" fill="#fabe00" stroke="#fabe00"/>
<path d="M210 85 213 83 218 74 215 79Z" fill="#ffbe00" stroke="#ffbe00"/>
<path d="M213 83 216 78 221 69 218 74Z" fill="#faaa00" stroke="#faaa00"/>
<path d="M216 78 219 73 224 65 221 69Z" fill="#fa8c00" stroke="#fa8c00"/>
<path d="M219 73 223 69 227 61 224 65Z" fill="#fa7800" stroke="#fa7800"/>
<path d="M223 69 226 65 231 61 227 61Z" fill="#fa6400" stroke="#fa6400"/>
<path d="M226 65 229 63 234 62 231 61Z" fill="#fa5a00" stroke="#fa5a00"/>
<path d="M229 63 232 63 237 62 234 62Z" fill="#f05000" stroke="#f05000"/>
<path d="M232 63 235 64 240 62 237 62Z" fill="#f05a00" stroke="#f05a00"/>
<path d="M235 64 239 64 242 64 245 65 248 65 252 65 255 65 258 66 262 66 265 66 269 67 273 65 270 65 266 64 263 64 260 64 256 64 253 63 250 63 246 63 243 63 240 62Z" fill="#f05000" stroke="#f05000"/>
<path d="M144 37 147 38 149 38 152 39 155 39 157 40 160 40 163 41 166 41 170 41 168 40 165 40 162 39 160 38 157 38 154 37 152 37 149 37Z" fill="#dc0000" stroke="#dc0000"/>
<path d="M166 41 168 42 171 43 174 44 177 46 181 46 179 44 176 43 173 42 170 41Z" fill="#dc0a00" stroke="#dc0a00"/>
<path d="M177 46 179 47 184 48 181 46Z" fill="#dc1400" stroke="#dc1400"/>
<path d="M179 47 182 49 187 50 184 48Z" fill="#dc1e00" stroke="#dc1e00"/>
<path d="M182 49 185 51 190 54 187 50Z" fill="#d22800" stroke="#d22800"/>
<path d="M185 51 188 54 193 57 190 54Z" fill="#d23c00" stroke="#d23c00"/>
<path d="M188 54 191 58 196 62 193 57Z" fill="#d24600" stroke="#d24600"/>
<path d="M191 58 194 62 198 68 196 62Z" fill="#d25a00" stroke="#d25a00"/>
<path d="M194 62 197 67 201 75 198 68Z" fill="#d26e00" stroke="#d26e00"/>
<path d="M197 67 199 73 204 81 201 75Z" fill="#d28c00" stroke="#d28c00"/>
<path d="M199 73 202 79 207 85 204 81Z" fill="#d29600" stroke="#d29600"/>
<path d="M202 79 205 84 210 85 207 85Z" fill="#d2a000" stroke="#d2a000"/>
<path d="M205 84 208 87 213 83 210 85Z" fill="#e6b400" stroke="#e6b400"/>
<path d="M208 87 211 86 216 78 213 83Z" fill="#ffbe00" stroke="#ffbe00"/>
<path d="M211 86 214 83 219 73 216 78Z" fill="#ffb400" stroke="#ffb400"/>
<path d="M214 83 218 78 223 69 219 73Z" fill="#faa000" stroke="#faa000"/>
<path d="M218 78 221 74 226 65 223 69Z" fill="#fa8200" stroke="#fa8200"/>
<path d="M221 74 224 70 229 63 226 65Z" fill="#fa6e00" stroke="#fa6e00"/>
<path d="M224 70 227 66 232 63 229 63Z" fill="#fa6400" stroke="#fa6400"/>
<path d="M227 66 231 65 235 64 232 63Z" fill="#fa5a00" stroke="#fa5a00"/>
<path d="M231 65 234 65 237 66 242 64 239 64 235 64Z" fill="#f05a00" stroke="#f05a00"/>
<path d="M237 66 240 66 244 66 247 67 250 67 254 67 257 68 260 68 264 68 269 67 265 66 262 66 258 66 255 65 252 65 248 65 245 65 242 64Z" fill="#f05000" stroke="#f05000"/>
<path d="M139 38 142 38 144 39 147 39 150 40 152 40 155 41 158 41 161 42 163 43 168 42 166 41 163 41 160 40 157 40 155 39 152 39 149 38 147 38 144 37Z" fill="#dc0000" stroke="#dc0000"/>
<path d="M163 43 166 44 169 44 172 45 174 47 179 47 177 46 174 44 171 43 168 42Z" fill="#dc0a00" stroke="#dc0a00"/>
<path d="M174 47 177 48 182 49 179 47Z" fill="#dc1400" stroke="#dc1400"/>
<path d="M177 48 180 50 185 51 182 49Z" fill="#dc1e00" stroke="#dc1e00"/>
<path d="M180 50 183 52 188 54 185 51Z" fill="#dc2800" stroke="#dc2800"/>
<path d="M183 52 186 55 191 58 188 54Z" fill="#d23200" stroke="#d23200"/>
<path d="M186 55 189 58 194 62 191 58Z" fill="#d24600" stroke="#d24600"/>
<path d="M189 58 192 61 197 67 194 62Z" fill="#d25000" stroke="#d25000"/>
<path d="M192 61 195 66 199 73 197 67Z" fill="#d26400" stroke="#d26400"/>
<path d="M195 66 198 71 202 79 199 73Z" fill="#d27800" stroke="#d27800"/>
<path d="M198 71 201 77 205 84 202 79Z" fill="#d28c00" stroke="#d28c00"/>
<path d="M201 77 203 83 206 87 211 86 208 87 205 84Z" fill="#d2a000" stroke="#d2a000"/>
<path d="M206 87 209 88 214 83 211 86Z" fill="#f0be00" stroke="#f0be00"/>
<path d="M209 88 213 87 218 78 214 83Z" fill="#ffbe00" stroke="#ffbe00"/>
<path d="M213 87 216 84 221 74 218 78Z" fill="#ffaa00" stroke="#ffaa00"/>
<path d="M216 84 219 79 224 70 221 74Z" fill="#fa9600" stroke="#fa9600"/>
<path d="M219 79 222 75 227 66 224 70Z" fill="#fa8200" stroke="#fa8200"/>
<path d="M222 75 226 71 231 65 227 66Z" fill="#fa6e00" stroke="#fa6e00"/>
<path d="M226 71 229 68 234 65 231 65Z" fill="#fa6400" stroke="#fa6400"/>
<path d="M229 68 232 67 237 66 234 65Z" fill="#fa5a00" stroke="#fa5a00"/>
<path d="M232 67 236 67 239 68 244 66 240 66 237 66Z" fill="#f05a00" stroke="#f05a00"/>
<path d="M239 68 242 68 246 69 249 69 252 69 256 69 259 70 264 68 260 68 257 68 254 67 250 67 247 67 244 66Z" fill="#f05000" stroke="#f05000"/>
<path d="M134 39 137 39 139 39 142 40 145 40 147 41 150 41 153 42 155 43 158 43 161 44 166 44 163 43 161 42 158 41 155 41 152 40 150 40 147 39 144 39 142 38 139 38Z" fill="#dc0000" stroke="#dc0000"/>
<path d="M161 44 164 45 167 46 169 47 172 48 177 48 174 47 172 45 169 44 166 44Z" fill="#dc0a00" stroke="#dc0a00"/>
<path d="M172 48 175 49 178 51 183 52 180 50 177 48Z" fill="#dc1400" stroke="#dc1400"/>
<path d="M178 51 181 53 186 55 183 52Z" fill="#dc1e00" stroke="#dc1e00"/>
<path d="M181 53 184 55 189 58 186 55Z" fill="#d23200" stroke="#d23200"/>
<path d="M184 55 187 57 192 61 189 58Z" fill="#d23c00" stroke="#d23c00"/>
<path d="M187 57 190 61 195 66 192 61Z" fill="#d24600" stroke="#d24600"/>
<path d="M190 61 193 64 198 71 195 66Z" fill="#d25a00" stroke="#d25a00"/>
<path d="M193 64 196 69 201 77 198 71Z" fill="#d26e00" stroke="#d26e00"/>
<path d="M196 69 199 74 203 83 201 77Z" fill="#d28200" stroke="#d28200"/>
<path d="M199 74 202 80 206 87 203 83Z" fill="#d29600" stroke="#d29600"/>
<path d="M202 80 205 85 209 88 206 87Z" fill="#d2a000" stroke="#d2a000"/>
<path d="M205 85 208 89 213 87 209 88Z" fill="#dcaa00" stroke="#dcaa00"/>
<path d="M208 89 211 90 216 84 213 87Z" fill="#fabe00" stroke="#fabe00"/>
<path d="M211 90 214 89 219 79 216 84Z" fill="#ffbe00" stroke="#ffbe00"/>
<path d="M214 89 217 86 222 75 219 79Z" fill="#ffaa00" stroke="#ffaa00"/>
<path d="M217 86 221 82 226 71 222 75Z" fill="#fa9600" stroke="#fa9600"/>
<path d="M221 82 224 78 229 68 226 71Z" fill="#fa8200" stroke="#fa8200"/>
<path d="M224 78 227 74 232 67 229 68Z" fill="#fa6e00" stroke="#fa6e00"/>
<path d="M227 74 231 71 236 67 232 67Z" fill="#fa6400" stroke="#fa6400"/>
<path d="M231 71 234 69 239 68 236 67Z" fill="#fa5a00" stroke="#fa5a00"/>
<path d="M234 69 237 69 242 68 239 68Z" fill="#f05000" stroke="#f05000"/>
<path d="M237 69 241 70 246 69 242 68Z" fill="#f05a00" stroke="#f05a00"/>
<path d="M241 70 244 70 247 71 251 71 254 71 259 70 256 69 252 69 249 69 246 69Z" fill="#f05000" stroke="#f05000"/>
<path d="M129 40 131 40 134 40 137 41 139 41 142 42 145 42 148 43 150 43 153 44 156 44 159 45 164 45 161 44 158 43 155 43 153 42 150 41 147 41 145 40 142 40 139 39 137 39 134 39Z" fill="#dc0000" stroke="#dc0000"/>
<path d="M159 45 161 46 164 47 167 48 170 49 173 50 178 51 175 49 172 48 169 47 167 46 164 45Z" fill="#dc0a00" stroke="#dc0a00"/>
<path d="M173 50 176 51 181 53 178 51Z" fill="#dc1400" stroke="#dc1400"/>
<path d="M176 51 179 53 184 55 181 53Z" fill="#dc1e00" stroke="#dc1e00"/>
<path d="M179 53 182 55 187 57 184 55Z" fill="#dc2800" stroke="#dc2800"/>
<path d="M182 55 185 57 190 61 187 57Z" fill="#d23200" stroke="#d23200"/>
<path d="M185 57 188 60 193 64 190 61Z" fill="#d23c00" stroke="#d23c00"/>
<path d="M188 60 191 63 196 69 193 64Z" fill="#d24600" stroke="#d24600"/>
<path d="M191 63 194 66 199 74 196 69Z" fill="#d25a00" stroke="#d25a00"/>
<path d="M194 66 197 71 202 80 199 74Z" fill="#d26e00" stroke="#d26e00"/>
<path d="M197 71 200 76 205 85 202 80Z" fill="#d28200" stroke="#d28200"/>
<path d="M200 76 203 81 206 87 211 90 208 89 205 85Z" fill="#d29600" stroke="#d29600"/>
<path d="M206 87 209 91 214 89 211 90Z" fill="#dca000" stroke="#dca000"/>
<path d="M209 91 212 92 217 86 214 89Z" fill="#f0b400" stroke="#f0b400"/>
<path d="M212 92 215 92 221 82 217 86Z" fill="#ffbe00" stroke="#ffbe00"/>
<path d="M215 92 219 89 224 78 221 82Z" fill="#ffaa00" stroke="#ffaa00"/>
<path d="M219 89 222 86 227 74 224 78Z" fill="#fa9600" stroke="#fa9600"/>
<path d="M222 86 225 82 231 71 227 74Z" fill="#fa8c00" stroke="#fa8c00"/>
<path d="M225 82 229 78 234 69 231 71Z" fill="#fa7800" stroke="#fa7800"/>
<path d="M229 78 232 75 236 72 241 70 237 69 234 69Z" fill="#fa6400" stroke="#fa6400"/>
<path d="M236 72 239 72 244 70 241 70Z" fill="#fa5a00" stroke="#fa5a00"/>
<path d="M239 72 243 72 246 73 251 71 247 71 244 70Z" fill="#f05a00" stroke="#f05a00"/>
<path d="M246 73 249 73 254 71 251 71Z" fill="#f05000" stroke="#f05000"/>
<path d="M124 40 126 41 129 41 131 41 134 42 137 42 140 43 142 43 145 44 148 44 151 45 153 46 156 46 161 46 159 45 156 44 153 44 150 43 148 43 145 42 142 42 139 41 137 41 134 40 131 40 129 40Z" fill="#dc0000" stroke="#dc0000"/>
<path d="M156 46 159 47 162 48 165 49 168 50 171 51 176 51 173 50 170 49 167 48 164 47 161 46Z" fill="#dc0a00" stroke="#dc0a00"/>
<path d="M171 51 174 52 177 53 182 55 179 53 176 51Z" fill="#dc1400" stroke="#dc1400"/>
<path d="M177 53 180 55 185 57 182 55Z" fill="#dc1e00" stroke="#dc1e00"/>
<path d="M180 55 183 57 188 60 185 57Z" fill="#dc2800" stroke="#dc2800"/>
<path d="M183 57 186 59 191 63 188 60Z" fill="#d23200" stroke="#d23200"/>
<path d="M186 59 189 61 194 66 191 63Z" fill="#d23c00" stroke="#d23c00"/>
<path d="M189 61 192 64 197 71 194 66Z" fill="#d24600" stroke="#d24600"/>
<path d="M192 64 195 68 200 76 197 71Z" fill="#d25a00" stroke="#d25a00"/>
<path d="M195 68 198 72 203 81 200 76Z" fill="#d26e00" stroke="#d26e00"/>
<path d="M198 72 201 77 206 87 203 81Z" fill="#d27800" stroke="#d27800"/>
<path d="M201 77 204 82 209 91 206 87Z" fill="#d28c00" stroke="#d28c00"/>
<path d="M204 82 207 88 212 92 209 91Z" fill="#d29600" stroke="#d29600"/>
<path d="M207 88 210 92 215 92 212 92Z" fill="#d2a000" stroke="#d2a000"/>
<path d="M210 92 213 95 219 89 215 92Z" fill="#e6b400" stroke="#e6b400"/>
<path d="M213 95 217 95 222 86 219 89Z" fill="#ffbe00" stroke="#ffbe00"/>
<path d="M217 95 220 93 225 82 222 86Z" fill="#ffb400" stroke="#ffb400"/>
<path d="M220 93 223 90 229 78 225 82Z" fill="#ffa000" stroke="#ffa000"/>
<path d="M223 90 227 87 232 75 229 78Z" fill="#fa8c00" stroke="#fa8c00"/>
<path d="M227 87 230 83 236 72 232 75Z" fill="#fa8200" stroke="#fa8200"/>
<path d="M230 83 234 80 239 72 236 72Z" fill="#fa6e00" stroke="#fa6e00"/>
<path d="M234 80 237 77 243 72 239 72Z" fill="#fa6400" stroke="#fa6400"/>
<path d="M237 77 241 74 246 73 243 72Z" fill="#fa5a00" stroke="#fa5a00"/>
<path d="M241 74 244 74 249 73 246 73Z" fill="#f05a00" stroke="#f05a00"/>
<path d="M118 41 121 41 123 42 126 42 129 43 132 43 134 44 137 44 140 45 143 45 145 46 148 46 151 47 154 47 159 47 156 46 153 46 151 45 148 44 145 44 142 43 140 43 137 42 134 42 131 41 129 41 126 41 124 40Z" fill="#dc0000" stroke="#dc0000"/>
<path d="M154 47 157 48 160 49 163 50 165 51 168 52 171 53 177 53 174 52 171 51 168 50 165 49 162 48 159 47Z" fill="#dc0a00" stroke="#dc0a00"/>
<path d="M171 53 174 54 177 55 183 57 180 55 177 53Z" fill="#dc1400" stroke="#dc1400"/>
<path d="M177 55 181 56 186 59 183 57Z" fill="#dc1e00" stroke="#dc1e00"/>
<path d="M181 56 184 58 189 61 186 59Z" fill="#d22800" stroke="#d22800"/>
<path d="M184 58 187 60 192 64 189 61Z" fill="#d23200" stroke="#d23200"/>
<path d="M187 60 190 62 195 68 192 64Z" fill="#d23c00" stroke="#d23c00"/>
<path d="M190 62 193 65 198 72 195 68Z" fill="#d24600" stroke="#d24600"/>
<path d="M193 65 196 69 201 77 198 72Z" fill="#d25000" stroke="#d25000"/>
<path d="M196 69 199 72 204 82 201 77Z" fill="#d26400" stroke="#d26400"/>
<path d="M199 72 202 77 207 88 204 82Z" fill="#d27800" stroke="#d27800"/>
<path d="M202 77 205 82 210 92 207 88Z" fill="#d28200" stroke="#d28200"/>
<path d="M205 82 209 87 212 92 217 95 213 95 210 92Z" fill="#d29600" stroke="#d29600"/>
<path d="M212 92 215 96 220 93 217 95Z" fill="#dca000" stroke="#dca000"/>
<path d="M215 96 218 98 223 90 220 93Z" fill="#f0b400" stroke="#f0b400"/>
<path d="M218 98 222 98 227 87 223 90Z" fill="#ffbe00" stroke="#ffbe00"/>
<path d="M222 98 225 96 230 83 227 87Z" fill="#ffaa00" stroke="#ffaa00"/>
<path d="M225 96 229 93 234 80 230 83Z" fill="#faa000" stroke="#faa000"/>
<path d="M229 93 232 90 237 77 234 80Z" fill="#fa8c00" stroke="#fa8c00"/>
<path d="M232 90 236 86 241 74 237 77Z" fill="#fa8200" stroke="#fa8200"/>
<path d="M236 86 239 83 244 74 241 74Z" fill="#fa6e00" stroke="#fa6e00"/>
<path d="M113 42 115 42 118 43 121 43 123 43 126 44 129 44 132 45 134 45 137 46 140 46 143 47 146 47 148 48 151 49 154 49 160 49 157 48 154 47 151 47 148 46 145 46 143 45 140 45 137 44 134 44 132 43 129 43 126 42 123 42 121 41 118 41Z" fill="#dc0000" stroke="#dc0000"/>
<path d="M154 49 157 50 160 51 163 51 166 52 169 53 172 54 177 55 174 54 171 53 168 52 165 51 163 50 160 49Z" fill="#dc0a00" stroke="#dc0a00"/>
<path d="M172 54 175 55 178 56 184 58 181 56 177 55Z" fill="#dc1400" stroke="#dc1400"/>
<path d="M178 56 181 58 187 60 184 58Z" fill="#dc1e00" stroke="#dc1e00"/>
<path d="M181 58 184 59 190 62 187 60Z" fill="#d21e00" stroke="#d21e00"/>
<path d="M184 59 188 61 193 65 190 62Z" fill="#d22800" stroke="#d22800"/>
<path d="M188 61 191 63 196 69 193 65Z" fill="#d23200" stroke="#d23200"/>
<path d="M191 63 194 66 199 72 196 69Z" fill="#d23c00" stroke="#d23c00"/>
<path d="M194 66 197 69 202 77 199 72Z" fill="#d25000" stroke="#d25000"/>
<path d="M197 69 200 72 205 82 202 77Z" fill="#c85a00" stroke="#c85a00"/>
<path d="M200 72 204 76 209 87 205 82Z" fill="#d26e00" stroke="#d26e00"/>
<path d="M204 76 207 80 212 92 209 87Z" fill="#d27800" stroke="#d27800"/>
<path d="M207 80 210 85 215 96 212 92Z" fill="#dc8c00" stroke="#dc8c00"/>
<path d="M210 85 213 90 216 95 222 98 218 98 215 96Z" fill="#d29600" stroke="#d29600"/>
<path d="M216 95 220 99 225 96 222 98Z" fill="#dca000" stroke="#dca000"/>
<path d="M220 99 223 101 229 93 225 96Z" fill="#f0b400" stroke="#f0b400"/>
<path d="M223 101 227 102 232 90 229 93Z" fill="#ffbe00" stroke="#ffbe00"/>
<path d="M227 102 230 100 236 86 232 90Z" fill="#ffb400" stroke="#ffb400"/>
<path d="M230 100 234 98 239 83 236 86Z" fill="#faa000" stroke="#faa000"/>
<path d="M107 43 110 43 113 43 115 44 118 44 121 45 123 45 126 46 129 46 132 47 134 47 137 48 140 48 143 49 146 49 149 50 152 50 155 51 160 51 157 50 154 49 151 49 148 48 146 47 143 47 140 46 137 46 134 45 132 45 129 44 126 44 123 43 121 43 118 43 115 42 113 42Z" fill="#dc0000" stroke="#dc0000"/>
<path d="M155 51 158 52 161 52 164 53 167 54 170 55 173 56 176 57 181 58 178 56 175 55 172 54 169 53 166 52 163 51 160 51Z" fill="#dc0a00" stroke="#dc0a00"/>
<path d="M176 57 179 58 182 59 188 61 184 59 181 58Z" fill="#dc1400" stroke="#dc1400"/>
<path d="M182 59 185 60 191 63 188 61Z" fill="#dc1e00" stroke="#dc1e00"/>
<path d="M185 60 189 62 192 64 197 69 194 66 191 63Z" fill="#d22800" stroke="#d22800"/>
<path d="M192 64 195 66 200 72 197 69Z" fill="#d23200" stroke="#d23200"/>
<path d="M195 66 198 68 204 76 200 72Z" fill="#d23c00" stroke="#d23c00"/>
<path d="M198 68 202 71 207 80 204 76Z" fill="#c85000" stroke="#c85000"/>
<path d="M202 71 205 74 210 85 207 80Z" fill="#c85a00" stroke="#c85a00"/>
<path d="M205 74 208 78 213 90 210 85Z" fill="#d26e00" stroke="#d26e00"/>
<path d="M208 78 212 82 216 95 213 90Z" fill="#d27800" stroke="#d27800"/>
<path d="M212 82 215 87 220 99 216 95Z" fill="#dc8c00" stroke="#dc8c00"/>
<path d="M215 87 218 92 223 101 220 99Z" fill="#dc9600" stroke="#dc9600"/>
<path d="M218 92 222 97 227 102 223 101Z" fill="#d29600" stroke="#d29600"/>
<path d="M222 97 225 101 230 100 227 102Z" fill="#d2a000" stroke="#d2a000"/>
<path d="M225 101 228 104 234 98 230 100Z" fill="#e6aa00" stroke="#e6aa00"/>
<path d="M102 44 104 44 107 44 110 45 112 45 115 46 118 46 120 46 123 47 126 47 129 48 132 48 135 49 137 49 140 50 143 50 146 51 149 52 152 52 155 53 161 52 158 52 155 51 152 50 149 50 146 49 143 49 140 48 137 48 134 47 132 47 129 46 126 46 123 45 121 45 118 44 115 44 113 43 110 43 107 43Z" fill="#dc0000" stroke="#dc0000"/>
<path d="M155 53 158 53 161 54 164 55 167 55 170 56 174 57 177 58 180 59 185 60 182 59 179 58 176 57 173 56 170 55 167 54 164 53 161 52Z" fill="#dc0a00" stroke="#dc0a00"/>
<path d="M180 59 183 60 186 61 192 64 189 62 185 60Z" fill="#dc1400" stroke="#dc1400"/>
<path d="M186 61 190 63 195 66 192 64Z" fill="#d21e00" stroke="#d21e00"/>
<path d="M190 63 193 64 196 66 202 71 198 68 195 66Z" fill="#d22800" stroke="#d22800"/>
<path d="M196 66 200 68 205 74 202 71Z" fill="#d23200" stroke="#d23200"/>
<path d="M200 68 203 70 208 78 205 74Z" fill="#d23c00" stroke="#d23c00"/>
<path d="M203 70 206 73 212 82 208 78Z" fill="#c84600" stroke="#c84600"/>
<path d="M206 73 210 75 215 87 212 82Z" fill="#c85000" stroke="#c85000"/>
<path d="M210 75 213 79 218 92 215 87Z" fill="#d26400" stroke="#d26400"/>
<path d="M213 79 216 82 222 97 218 92Z" fill="#d26e00" stroke="#d26e00"/>
<path d="M216 82 220 87 225 101 222 97Z" fill="#dc8200" stroke="#dc8200"/>
<path d="M220 87 223 91 228 104 225 101Z" fill="#dc8c00" stroke="#dc8c00"/>
<path d="M96 44 99 45 101 45 104 46 107 46 109 46 112 47 115 47 118 48 120 48 123 49 126 49 129 50 132 50 135 51 138 51 140 52 143 52 146 53 149 53 152 54 156 54 159 55 164 55 161 54 158 53 155 53 152 52 149 52 146 51 143 50 140 50 137 49 135 49 132 48 129 48 126 47 123 47 120 46 118 46 115 46 112 45 110 45 107 44 104 44 102 44Z" fill="#dc0000" stroke="#dc0000"/>
<path d="M159 55 162 56 165 56 168 57 171 58 174 59 178 59 181 60 184 61 190 63 186 61 183 60 180 59 177 58 174 57 170 56 167 55 164 55Z" fill="#dc0a00" stroke="#dc0a00"/>
<path d="M184 61 187 62 191 63 196 66 193 64 190 63Z" fill="#dc1400" stroke="#dc1400"/>
<path d="M191 63 194 65 200 68 196 66Z" fill="#d21400" stroke="#d21400"/>
<path d="M194 65 198 66 203 70 200 68Z" fill="#d21e00" stroke="#d21e00"/>
<path d="M198 66 201 67 206 73 203 70Z" fill="#d22800" stroke="#d22800"/>
<path d="M201 67 204 69 208 71 213 79 210 75 206 73Z" fill="#d23200" stroke="#d23200"/>
<path d="M208 71 211 73 216 82 213 79Z" fill="#c83c00" stroke="#c83c00"/>
<path d="M211 73 215 76 220 87 216 82Z" fill="#c84600" stroke="#c84600"/>
<path d="M215 76 218 78 223 91 220 87Z" fill="#c85000" stroke="#c85000"/>
<path d="M90 45 93 46 95 46 98 46 101 47 103 47 106 48 109 48 112 49 115 49 117 49 120 50 123 50 126 51 129 51 132 52 135 52 138 53 141 53 144 54 147 54 150 55 153 56 156 56 159 57 162 57 165 58 171 58 168 57 165 56 162 56 159 55 156 54 152 54 149 53 146 53 143 52 140 52 138 51 135 51 132 50 129 50 126 49 123 49 120 48 118 48 115 47 112 47 109 46 107 46 104 46 101 45 99 45 96 44Z" fill="#dc0000" stroke="#dc0000"/>
<path d="M165 58 169 59 172 59 175 60 178 61 182 62 185 62 189 63 192 64 195 65 201 67 198 66 194 65 191 63 187 62 184 61 181 60 178 59 174 59 171 58Z" fill="#dc0a00" stroke="#dc0a00"/>
<path d="M195 65 199 66 202 67 208 71 204 69 201 67Z" fill="#d21400" stroke="#d21400"/>
<path d="M202 67 206 69 209 70 215 76 211 73 208 71Z" fill="#d21e00" stroke="#d21e00"/>
<path d="M209 70 213 72 218 78 215 76Z" fill="#d22800" stroke="#d22800"/>
<path d="M84 46 87 47 90 47 92 47 95 48 98 48 100 49 103 49 106 49 109 50 111 50 114 51 117 51 120 52 123 52 126 53 129 53 132 54 135 54 138 55 141 55 144 56 147 56 150 57 153 57 156 58 160 58 163 59 166 60 169 60 173 61 178 61 175 60 172 59 169 59 165 58 162 57 159 57 156 56 153 56 150 55 147 54 144 54 141 53 138 53 135 52 132 52 129 51 126 51 123 50 120 50 117 49 115 49 112 49 109 48 106 48 103 47 101 47 98 46 95 46 93 46 90 45Z" fill="#dc0000" stroke="#dc0000"/>
<path d="M173 61 176 61 179 62 183 63 186 64 190 64 193 65 197 66 200 67 204 68 209 70 206 69 202 67 199 66 195 65 192 64 189 63 185 62 182 62 178 61Z" fill="#dc0a00" stroke="#dc0a00"/>
<path d="M204 68 207 69 213 72 209 70Z" fill="#d21400" stroke="#d21400"/>
<path d="M78 47 81 47 84 48 86 48 89 49 92 49 94 49 97 50 100 50 103 51 105 51 108 52 111 52 114 53 117 53 120 54 123 54 126 54 129 55 132 55 135 56 138 56 141 57 144 57 147 58 151 58 154 59 157 60 160 60 164 61 167 61 170 62 174 62 177 63 180 64 184 64 187 65 193 65 190 64 186 64 183 63 179 62 176 61 173 61 169 60 166 60 163 59 160 58 156 58 153 57 150 57 147 56 144 56 141 55 138 55 135 54 132 54 129 53 126 53 123 52 120 52 117 51 114 51 111 50 109 50 106 49 103 49 100 49 98 48 95 48 92 47 90 47 87 47 84 46Z" fill="#dc0000" stroke="#dc0000"/>
<path d="M187 65 191 66 194 66 198 67 201 68 207 69 204 68 200 67 197 66 193 65Z" fill="#dc0a00" stroke="#dc0a00"/>
<path d="M72 48 75 48 77 49 80 49 83 50 86 50 88 50 91 51 94 51 97 52 99 52 102 53 105 53 108 54 111 54 114 54 117 55 120 55 123 56 126 56 129 57 132 57 135 58 138 58 141 59 145 59 148 60 151 60 154 61 158 61 161 62 164 63 168 63 171 64 174 64 178 65 181 65 185 66 188 67 192 67 196 68 201 68 198 67 194 66 191 66 187 65 184 64 180 64 177 63 174 62 170 62 167 61 164 61 160 60 157 60 154 59 151 58 147 58 144 57 141 57 138 56 135 56 132 55 129 55 126 54 123 54 120 54 117 53 114 53 111 52 108 52 105 51 103 51 100 50 97 50 94 49 92 49 89 49 86 48 84 48 81 47 78 47Z" fill="#dc0000" stroke="#dc0000"/>
</g>
<path d="M111.4 44.6 102.9 40.3 100.4 38.3 98.9 36.2 98.5 34.4 99.2 32.7 100.9 31 104 29.1" fill="none" stroke="#7030c0" stroke-width="0.9"/>
<path d="M113.3 30.3 110.9 33.5 111.2 36.3 113.9 39.2 119.2 42.5" fill="none" stroke="#7030c0" stroke-width="0.9"/>
<line x1="36.1" y1="23.9" x2="37.3" y2="100.3" stroke="#000" stroke-width="1.1"/>
<line x1="34.1" y1="23.9" x2="36.1" y2="23.9" stroke="#000" stroke-width="0.8"/>
<text x="33.6" y="26.4" font-family='"Liberation Serif", serif' font-size="7.2" font-weight="bold" text-anchor="end" fill="#000" >0</text>
<line x1="34.3" y1="37.1" x2="36.3" y2="37.1" stroke="#000" stroke-width="0.8"/>
<text x="33.8" y="39.6" font-family='"Liberation Serif", serif' font-size="7.2" font-weight="bold" text-anchor="end" fill="#000" >-10</text>
<line x1="34.5" y1="50" x2="36.5" y2="50" stroke="#000" stroke-width="0.8"/>
<text x="34" y="52.5" font-family='"Liberation Serif", serif' font-size="7.2" font-weight="bold" text-anchor="end" fill="#000" >-20</text>
<line x1="34.7" y1="62.9" x2="36.7" y2="62.9" stroke="#000" stroke-width="0.8"/>
<text x="34.2" y="65.4" font-family='"Liberation Serif", serif' font-size="7.2" font-weight="bold" text-anchor="end" fill="#000" >-30</text>
<line x1="34.9" y1="75.5" x2="36.9" y2="75.5" stroke="#000" stroke-width="0.8"/>
<text x="34.4" y="78" font-family='"Liberation Serif", serif' font-size="7.2" font-weight="bold" text-anchor="end" fill="#000" >-40</text>
<line x1="35.1" y1="88" x2="37.1" y2="88" stroke="#000" stroke-width="0.8"/>
<text x="34.6" y="90.5" font-family='"Liberation Serif", serif' font-size="7.2" font-weight="bold" text-anchor="end" fill="#000" >-50</text>
<line x1="35.3" y1="100.3" x2="37.3" y2="100.3" stroke="#000" stroke-width="0.8"/>
<text x="34.8" y="102.8" font-family='"Liberation Serif", serif' font-size="7.2" font-weight="bold" text-anchor="end" fill="#000" >-60</text>
<path d="M37.3 100.3L96.3 121.7L144.6 97" fill="none" stroke="#000" stroke-width="1"/>
<text x="0" y="0" font-family='"Liberation Serif", serif' font-size="6.3" font-weight="bold" text-anchor="middle" fill="#000" transform="translate(47.3,109.1) rotate(19.9) skewX(-25)">5</text>
<text x="0" y="0" font-family='"Liberation Serif", serif' font-size="6.3" font-weight="bold" text-anchor="middle" fill="#000" transform="translate(63.6,115.1) rotate(19.9) skewX(-25)">10</text>
<text x="0" y="0" font-family='"Liberation Serif", serif' font-size="6.3" font-weight="bold" text-anchor="middle" fill="#000" transform="translate(81.3,121.7) rotate(19.9) skewX(-25)">15</text>
<text x="0" y="0" font-family='"Liberation Serif", serif' font-size="6.3" font-weight="bold" text-anchor="middle" fill="#000" transform="translate(100.5,125.7) rotate(-27.1) skewX(25)">1</text>
<text x="0" y="0" font-family='"Liberation Serif", serif' font-size="6.3" font-weight="bold" text-anchor="middle" fill="#000" transform="translate(114.1,118.5) rotate(-27.1) skewX(25)">2</text>
<text x="0" y="0" font-family='"Liberation Serif", serif' font-size="6.3" font-weight="bold" text-anchor="middle" fill="#000" transform="translate(126.6,112) rotate(-27.1) skewX(25)">3</text>
<text x="0" y="0" font-family='"Liberation Serif", serif' font-size="6.3" font-weight="bold" text-anchor="middle" fill="#000" transform="translate(138,106) rotate(-27.1) skewX(25)">4</text>
<text x="0" y="0" font-family='"Liberation Serif", serif' font-size="6.3" font-weight="bold" text-anchor="middle" fill="#000" transform="translate(148.5,100.5) rotate(-27.1) skewX(25)">5</text>
<text x="0" y="0" font-family='"Liberation Serif", serif' font-size="8.8" font-weight="bold" text-anchor="middle" fill="#000" transform="translate(56.8,121) rotate(19.9) skewX(-25)">Frequency (GHz)</text>
<text x="0" y="0" font-family='"Liberation Serif", serif' font-size="7.6" font-weight="bold" text-anchor="middle" fill="#000" transform="translate(141.4,115.8) rotate(-27.1) skewX(25)">Thickness (mm)</text>
<text x="0" y="0" font-family='"Liberation Serif", serif' font-size="11" font-weight="bold" text-anchor="middle" fill="#000" transform="translate(15.5,67.1) rotate(90)">RL (dB)</text>
<text x="35.6" y="37.9" font-family='"Liberation Serif", serif' font-size="16.5" font-weight="bold" text-anchor="start" fill="#000" >(a)</text>
<defs><linearGradient id="cb3_0" x1="0" y1="0" x2="0" y2="1"><stop offset="0.000" stop-color="#e40000"/><stop offset="0.033" stop-color="#e60a00"/><stop offset="0.083" stop-color="#f03c00"/><stop offset="0.150" stop-color="#fa7800"/><stop offset="0.233" stop-color="#ffb400"/><stop offset="0.333" stop-color="#fae600"/><stop offset="0.433" stop-color="#3cbe00"/><stop offset="0.533" stop-color="#00963c"/><stop offset="0.633" stop-color="#0050c8"/><stop offset="0.750" stop-color="#0014be"/><stop offset="0.883" stop-color="#14006e"/><stop offset="1.000" stop-color="#460082"/></linearGradient></defs>
<rect x="148.5" y="26.5" width="7.8" height="68.7" fill="url(#cb3_0)"/>
<text x="158.8" y="28.7" font-family='"Liberation Serif", serif' font-size="6.6" font-weight="bold" text-anchor="start" fill="#000" >0.000</text>
<text x="158.8" y="40.2" font-family='"Liberation Serif", serif' font-size="6.6" font-weight="bold" text-anchor="start" fill="#000" >-10.00</text>
<text x="158.8" y="51.6" font-family='"Liberation Serif", serif' font-size="6.6" font-weight="bold" text-anchor="start" fill="#000" >-20.00</text>
<text x="158.8" y="63.1" font-family='"Liberation Serif", serif' font-size="6.6" font-weight="bold" text-anchor="start" fill="#000" >-30.00</text>
<text x="158.8" y="74.5" font-family='"Liberation Serif", serif' font-size="6.6" font-weight="bold" text-anchor="start" fill="#000" >-40.00</text>
<text x="158.8" y="86" font-family='"Liberation Serif", serif' font-size="6.6" font-weight="bold" text-anchor="start" fill="#000" >-50.00</text>
<text x="158.8" y="97.4" font-family='"Liberation Serif", serif' font-size="6.6" font-weight="bold" text-anchor="start" fill="#000" >-60.00</text>
<text x="156.8" y="20.5" font-family='"Liberation Serif", serif' font-size="10.6" font-weight="bold" text-anchor="middle" fill="#000" >RL (dB)</text>
<line x1="88.2" y1="144.8" x2="88.7" y2="211" stroke="#c8c8c8" stroke-width="0.6"/>
<line x1="88.2" y1="144.8" x2="146.4" y2="151.3" stroke="#555" stroke-width="0.7" stroke-dasharray="2 1.5"/>
<line x1="146.4" y1="151.3" x2="144.5" y2="224.9" stroke="#bbb" stroke-width="0.6" stroke-dasharray="2 1.5"/>
<path d="M38.7 231.1 98.7 250.5 144.5 224.9 88.7 211Z" fill="#e10000"/>
<path d="M109.1 239 111.1 239.5 113.3 239.1 114.4 236.4 113.5 234 110.5 233 108.3 233.6 107.2 235.3 107.2 237.3 109.1 239Z" fill="#fca400" fill-rule="evenodd"/>
<path d="M107.7 240.7 112.2 243 118.4 239.5 117.6 238.1 116.7 233.2 112.5 229.5 111.7 227.5 112.1 222.3 114.3 217.4 108.2 215.9 104.4 221.5 103.2 224.9 103 227.5 104.6 237.8 105.4 239.2 107.7 240.7ZM108.6 238.8 107.6 238 107.1 236.5 107.2 235.3 108.3 233.6 110.5 233 113.5 234 114.4 236.4 113.3 239.1 111.1 239.5 108.6 238.8Z" fill="#fa8700" fill-rule="evenodd"/>
<path d="M108.4 243.2 110 244.2 112.2 243 106.9 240.2 105 238.5 103 228.4 103.1 225.7 104 222.4 105.3 219.7 108.2 215.9 105.9 215.3 102.8 219.1 100.8 222.5 99.7 225.7 99.5 228.9 100.1 231.7 102.9 239.6 104.8 241.3 108.4 243.2ZM117.9 238.8 118.4 239.5 121.2 238 120.2 235.7 119.6 231.6 116.4 228.3 115.6 226.5 115.8 222.5 117.3 218.1 114.3 217.4 112.1 222.3 111.7 227.5 112.5 229.5 116.7 233.2 117.9 238.8Z" fill="#f66900" fill-rule="evenodd"/>
<path d="M107 244.9 107.8 245.5 110 244.2 104.8 241.3 102.9 239.6 99.6 229.3 99.7 225.8 100.8 222.5 102.8 219.1 105.9 215.3 103.7 214.8 100.2 218.4 97.4 222.5 96.2 226.1 96 229.8 96.6 232.6 100.4 240.9 102.5 242.6 107 244.9ZM120.7 237.3 121.2 238 133 231.3 130.9 225.6 130.7 223.3 131.1 221.6 117.3 218.1 115.8 222.4 115.6 226.4 116.4 228.3 119.6 231.6 120.7 237.3Z" fill="#f24b00" fill-rule="evenodd"/>
<path d="M102.1 245.6 104.8 247.1 107.8 245.5 102.5 242.6 100.4 240.9 97.2 234 96.1 230.6 96.1 226.5 97.4 222.7 100.2 218.4 103.7 214.8 100.8 214 96.3 218.2 93.1 222.2 91.3 226.2 90.9 230 92 234.1 96.5 242.1 98.4 243.8 102.1 245.6ZM133 231.3 136.9 229.1 135.7 225.9 135.1 222.6 131.1 221.6 130.7 223.3 130.9 225.6 133 231.3Z" fill="#ed2d00" fill-rule="evenodd"/>
<path d="M39.6 231.4 98.7 250.5 104.8 247.1 98.4 243.8 96.5 242.1 92 234.1 90.9 230 91.3 226.2 93.1 222.2 96.3 218.2 100.8 214 88.7 211 38.7 231.1 39.6 231.4ZM136.9 229.1 144.5 224.9 135.1 222.6 135.7 225.9 136.9 229.1Z" fill="#e20200" fill-rule="evenodd"/>
<g transform="scale(0.5)" stroke-width="1">
<path d="M172 291 175 291 177 292 180 292 182 293 185 293 188 294 191 295 195 294 192 293 190 293 187 292 184 291 182 291 179 291 176 290Z" fill="#dc0000" stroke="#dc0000"/>
<path d="M191 295 193 295 196 296 199 298 201 299 206 299 203 297 200 296 198 295 195 294Z" fill="#dc0a00" stroke="#dc0a00"/>
<path d="M201 299 204 301 209 301 206 299Z" fill="#dc1400" stroke="#dc1400"/>
<path d="M204 301 207 303 211 304 209 301Z" fill="#dc1e00" stroke="#dc1e00"/>
<path d="M207 303 210 306 214 307 211 304Z" fill="#dc3200" stroke="#dc3200"/>
<path d="M210 306 213 309 217 310 214 307Z" fill="#dc3c00" stroke="#dc3c00"/>
<path d="M213 309 215 311 220 312 217 310Z" fill="#dc4600" stroke="#dc4600"/>
<path d="M215 311 218 314 223 313 220 312Z" fill="#dc5a00" stroke="#dc5a00"/>
<path d="M218 314 221 315 225 313 223 313Z" fill="#f06400" stroke="#f06400"/>
<path d="M221 315 224 314 228 312 225 313Z" fill="#fa6400" stroke="#fa6400"/>
<path d="M224 314 227 313 231 310 228 312Z" fill="#fa5a00" stroke="#fa5a00"/>
<path d="M227 313 230 312 234 308 231 310Z" fill="#f05000" stroke="#f05000"/>
<path d="M230 312 233 310 237 307 234 308Z" fill="#f03c00" stroke="#f03c00"/>
<path d="M233 310 236 308 240 308 237 307Z" fill="#f03200" stroke="#f03200"/>
<path d="M236 308 239 309 242 310 246 310 243 309 240 308Z" fill="#e63200" stroke="#e63200"/>
<path d="M242 310 245 311 248 311 251 312 254 312 257 312 260 313 263 313 266 314 269 314 272 314 276 315 279 315 282 316 285 316 289 316 293 315 289 315 286 315 283 314 280 314 277 313 273 313 270 313 267 312 264 312 261 311 258 311 255 311 252 310 249 310 246 310Z" fill="#f03c00" stroke="#f03c00"/>
<path d="M167 292 170 292 173 292 175 293 178 293 181 294 183 295 186 295 189 296 193 295 191 295 188 294 185 293 182 293 180 292 177 292 175 291 172 291Z" fill="#dc0000" stroke="#dc0000"/>
<path d="M189 296 192 297 194 298 197 299 201 299 199 298 196 296 193 295Z" fill="#dc0a00" stroke="#dc0a00"/>
<path d="M197 299 200 301 203 303 207 303 204 301 201 299Z" fill="#dc1400" stroke="#dc1400"/>
<path d="M203 303 205 305 210 306 207 303Z" fill="#dc2800" stroke="#dc2800"/>
<path d="M205 305 208 307 213 309 210 306Z" fill="#dc3200" stroke="#dc3200"/>
<path d="M208 307 211 310 215 311 213 309Z" fill="#dc3c00" stroke="#dc3c00"/>
<path d="M211 310 214 313 218 314 215 311Z" fill="#dc5000" stroke="#dc5000"/>
<path d="M214 313 217 315 221 315 218 314Z" fill="#e65a00" stroke="#e65a00"/>
<path d="M217 315 220 316 224 314 221 315Z" fill="#f06400" stroke="#f06400"/>
<path d="M220 316 223 316 227 313 224 314Z" fill="#fa6400" stroke="#fa6400"/>
<path d="M223 316 226 315 230 312 227 313Z" fill="#fa5a00" stroke="#fa5a00"/>
<path d="M226 315 228 313 233 310 230 312Z" fill="#fa5000" stroke="#fa5000"/>
<path d="M228 313 231 311 236 308 233 310Z" fill="#f03c00" stroke="#f03c00"/>
<path d="M231 311 234 310 239 309 236 308Z" fill="#f03200" stroke="#f03200"/>
<path d="M234 310 237 310 242 310 239 309Z" fill="#e63200" stroke="#e63200"/>
<path d="M237 310 240 312 245 311 242 310Z" fill="#dc3200" stroke="#dc3200"/>
<path d="M240 312 243 312 248 311 245 311Z" fill="#e63c00" stroke="#e63c00"/>
<path d="M243 312 247 313 250 313 253 313 256 314 259 314 262 315 265 315 268 315 272 316 275 316 278 317 281 317 285 317 289 316 285 316 282 316 279 315 276 315 272 314 269 314 266 314 263 313 260 313 257 312 254 312 251 312 248 311Z" fill="#f03c00" stroke="#f03c00"/>
<path d="M163 292 165 293 168 293 171 294 173 294 176 295 179 295 182 296 184 296 189 296 186 295 183 295 181 294 178 293 175 293 173 292 170 292 167 292Z" fill="#dc0000" stroke="#dc0000"/>
<path d="M184 296 187 297 190 298 193 299 195 301 200 301 197 299 194 298 192 297 189 296Z" fill="#dc0a00" stroke="#dc0a00"/>
<path d="M195 301 198 302 203 303 200 301Z" fill="#dc1400" stroke="#dc1400"/>
<path d="M198 302 201 304 205 305 203 303Z" fill="#dc1e00" stroke="#dc1e00"/>
<path d="M201 304 204 306 208 307 205 305Z" fill="#dc2800" stroke="#dc2800"/>
<path d="M204 306 207 309 211 310 208 307Z" fill="#dc3200" stroke="#dc3200"/>
<path d="M207 309 210 312 214 313 211 310Z" fill="#dc4600" stroke="#dc4600"/>
<path d="M210 312 212 315 217 315 214 313Z" fill="#dc5000" stroke="#dc5000"/>
<path d="M212 315 215 317 220 316 217 315Z" fill="#e65a00" stroke="#e65a00"/>
<path d="M215 317 218 318 223 316 220 316Z" fill="#f06400" stroke="#f06400"/>
<path d="M218 318 221 317 226 315 223 316Z" fill="#fa6400" stroke="#fa6400"/>
<path d="M221 317 224 316 228 313 226 315Z" fill="#fa5a00" stroke="#fa5a00"/>
<path d="M224 316 227 315 231 311 228 313Z" fill="#fa5000" stroke="#fa5000"/>
<path d="M227 315 230 313 234 310 231 311Z" fill="#f04600" stroke="#f04600"/>
<path d="M230 313 233 312 237 310 234 310Z" fill="#f03c00" stroke="#f03c00"/>
<path d="M233 312 236 311 240 312 237 310Z" fill="#f03200" stroke="#f03200"/>
<path d="M236 311 239 313 243 312 240 312Z" fill="#dc3200" stroke="#dc3200"/>
<path d="M239 313 242 314 247 313 243 312Z" fill="#e63c00" stroke="#e63c00"/>
<path d="M242 314 245 314 248 314 251 315 255 315 258 316 261 316 264 316 267 317 271 317 274 318 277 318 280 319 285 317 281 317 278 317 275 316 272 316 268 315 265 315 262 315 259 314 256 314 253 313 250 313 247 313Z" fill="#f03c00" stroke="#f03c00"/>
<path d="M158 293 161 293 163 294 166 294 169 295 171 295 174 296 177 296 180 297 182 298 187 297 184 296 182 296 179 295 176 295 173 294 171 294 168 293 165 293 163 292Z" fill="#dc0000" stroke="#dc0000"/>
<path d="M182 298 185 299 188 300 191 301 194 302 198 302 195 301 193 299 190 298 187 297Z" fill="#dc0a00" stroke="#dc0a00"/>
<path d="M194 302 196 304 201 304 198 302Z" fill="#dc1400" stroke="#dc1400"/>
<path d="M196 304 199 306 204 306 201 304Z" fill="#dc1e00" stroke="#dc1e00"/>
<path d="M199 306 202 308 207 309 204 306Z" fill="#dc2800" stroke="#dc2800"/>
<path d="M202 308 205 310 210 312 207 309Z" fill="#dc3200" stroke="#dc3200"/>
<path d="M205 310 208 313 212 315 210 312Z" fill="#dc4600" stroke="#dc4600"/>
<path d="M208 313 211 316 215 317 212 315Z" fill="#dc5000" stroke="#dc5000"/>
<path d="M211 316 214 318 218 318 215 317Z" fill="#e65a00" stroke="#e65a00"/>
<path d="M214 318 217 319 221 317 218 318Z" fill="#f06400" stroke="#f06400"/>
<path d="M217 319 220 319 224 316 221 317Z" fill="#fa6400" stroke="#fa6400"/>
<path d="M220 319 223 318 227 315 224 316Z" fill="#fa5a00" stroke="#fa5a00"/>
<path d="M223 318 226 316 230 313 227 315Z" fill="#fa5000" stroke="#fa5000"/>
<path d="M226 316 229 315 233 312 230 313Z" fill="#f04600" stroke="#f04600"/>
<path d="M229 315 232 314 236 311 233 312Z" fill="#f03c00" stroke="#f03c00"/>
<path d="M232 314 235 312 239 313 236 311Z" fill="#f03200" stroke="#f03200"/>
<path d="M235 312 238 314 242 314 239 313Z" fill="#dc3200" stroke="#dc3200"/>
<path d="M238 314 241 315 245 314 242 314Z" fill="#e63c00" stroke="#e63c00"/>
<path d="M241 315 244 316 247 316 250 316 253 317 257 317 260 318 263 318 266 318 270 319 273 319 276 320 280 319 277 318 274 318 271 317 267 317 264 316 261 316 258 316 255 315 251 315 248 314 245 314Z" fill="#f03c00" stroke="#f03c00"/>
<path d="M153 294 156 294 159 295 161 295 164 296 167 296 169 297 172 297 175 298 178 298 181 299 185 299 182 298 180 297 177 296 174 296 171 295 169 295 166 294 163 294 161 293 158 293Z" fill="#dc0000" stroke="#dc0000"/>
<path d="M181 299 183 300 186 301 189 302 192 303 196 304 194 302 191 301 188 300 185 299Z" fill="#dc0a00" stroke="#dc0a00"/>
<path d="M192 303 195 305 199 306 196 304Z" fill="#dc1400" stroke="#dc1400"/>
<path d="M195 305 198 307 202 308 199 306Z" fill="#dc1e00" stroke="#dc1e00"/>
<path d="M198 307 200 309 205 310 202 308Z" fill="#dc2800" stroke="#dc2800"/>
<path d="M200 309 203 312 208 313 205 310Z" fill="#dc3200" stroke="#dc3200"/>
<path d="M203 312 206 314 211 316 208 313Z" fill="#dc4600" stroke="#dc4600"/>
<path d="M206 314 209 317 214 318 211 316Z" fill="#dc5000" stroke="#dc5000"/>
<path d="M209 317 212 319 217 319 214 318Z" fill="#e65a00" stroke="#e65a00"/>
<path d="M212 319 215 320 218 321 223 318 220 319 217 319Z" fill="#f06400" stroke="#f06400"/>
<path d="M218 321 221 320 226 316 223 318Z" fill="#fa5a00" stroke="#fa5a00"/>
<path d="M221 320 224 319 229 315 226 316Z" fill="#fa5000" stroke="#fa5000"/>
<path d="M224 319 227 317 232 314 229 315Z" fill="#fa4600" stroke="#fa4600"/>
<path d="M227 317 230 316 235 312 232 314Z" fill="#f03c00" stroke="#f03c00"/>
<path d="M230 316 233 315 238 314 235 312Z" fill="#f03200" stroke="#f03200"/>
<path d="M233 315 237 315 241 315 238 314Z" fill="#e63200" stroke="#e63200"/>
<path d="M237 315 240 316 244 316 241 315Z" fill="#dc3200" stroke="#dc3200"/>
<path d="M240 316 243 317 247 316 244 316Z" fill="#e63c00" stroke="#e63c00"/>
<path d="M243 317 246 317 249 318 252 318 256 319 259 319 262 319 265 320 269 320 272 321 276 320 273 319 270 319 266 318 263 318 260 318 257 317 253 317 250 316 247 316Z" fill="#f03c00" stroke="#f03c00"/>
<path d="M149 295 151 295 154 295 157 296 159 296 162 297 165 297 167 298 170 298 173 299 176 300 179 300 183 300 181 299 178 298 175 298 172 297 169 297 167 296 164 296 161 295 159 295 156 294 153 294Z" fill="#dc0000" stroke="#dc0000"/>
<path d="M179 300 181 301 184 302 187 303 190 305 195 305 192 303 189 302 186 301 183 300Z" fill="#dc0a00" stroke="#dc0a00"/>
<path d="M190 305 193 306 198 307 195 305Z" fill="#dc1400" stroke="#dc1400"/>
<path d="M193 306 196 308 200 309 198 307Z" fill="#dc1e00" stroke="#dc1e00"/>
<path d="M196 308 199 310 203 312 200 309Z" fill="#dc2800" stroke="#dc2800"/>
<path d="M199 310 202 313 206 314 203 312Z" fill="#dc3200" stroke="#dc3200"/>
<path d="M202 313 205 316 209 317 206 314Z" fill="#dc3c00" stroke="#dc3c00"/>
<path d="M205 316 208 318 212 319 209 317Z" fill="#dc5000" stroke="#dc5000"/>
<path d="M208 318 211 320 215 320 212 319Z" fill="#dc5a00" stroke="#dc5a00"/>
<path d="M211 320 214 322 218 321 215 320Z" fill="#e65a00" stroke="#e65a00"/>
<path d="M214 322 217 322 221 320 218 321Z" fill="#f06400" stroke="#f06400"/>
<path d="M217 322 220 322 223 321 227 317 224 319 221 320Z" fill="#fa5a00" stroke="#fa5a00"/>
<path d="M223 321 226 320 230 316 227 317Z" fill="#fa5000" stroke="#fa5000"/>
<path d="M226 320 229 318 233 315 230 316Z" fill="#f04600" stroke="#f04600"/>
<path d="M229 318 232 317 237 315 233 315Z" fill="#f03c00" stroke="#f03c00"/>
<path d="M232 317 235 316 240 316 237 315Z" fill="#f03200" stroke="#f03200"/>
<path d="M235 316 238 317 243 317 240 316Z" fill="#e63200" stroke="#e63200"/>
<path d="M238 317 241 318 246 317 243 317Z" fill="#e63c00" stroke="#e63c00"/>
<path d="M241 318 245 319 248 319 251 320 254 320 258 321 261 321 264 321 268 322 272 321 269 320 265 320 262 319 259 319 256 319 252 318 249 318 246 317Z" fill="#f03c00" stroke="#f03c00"/>
<path d="M144 295 146 296 149 296 152 297 154 297 157 298 160 298 163 299 165 299 168 300 171 300 174 301 179 300 176 300 173 299 170 298 167 298 165 297 162 297 159 296 157 296 154 295 151 295 149 295Z" fill="#dc0000" stroke="#dc0000"/>
<path d="M174 301 177 302 179 303 182 304 185 305 188 306 193 306 190 305 187 303 184 302 181 301 179 300Z" fill="#dc0a00" stroke="#dc0a00"/>
<path d="M188 306 191 308 196 308 193 306Z" fill="#dc1400" stroke="#dc1400"/>
<path d="M191 308 194 309 199 310 196 308Z" fill="#dc1e00" stroke="#dc1e00"/>
<path d="M194 309 197 311 202 313 199 310Z" fill="#dc2800" stroke="#dc2800"/>
<path d="M197 311 200 314 205 316 202 313Z" fill="#dc3200" stroke="#dc3200"/>
<path d="M200 314 203 316 208 318 205 316Z" fill="#dc3c00" stroke="#dc3c00"/>
<path d="M203 316 206 319 211 320 208 318Z" fill="#dc4600" stroke="#dc4600"/>
<path d="M206 319 209 321 214 322 211 320Z" fill="#dc5000" stroke="#dc5000"/>
<path d="M209 321 212 323 217 322 214 322Z" fill="#e65a00" stroke="#e65a00"/>
<path d="M212 323 215 324 220 322 217 322Z" fill="#f06400" stroke="#f06400"/>
<path d="M215 324 218 324 223 321 220 322Z" fill="#fa6400" stroke="#fa6400"/>
<path d="M218 324 221 324 226 320 223 321Z" fill="#fa5a00" stroke="#fa5a00"/>
<path d="M221 324 224 322 229 318 226 320Z" fill="#fa5000" stroke="#fa5000"/>
<path d="M224 322 227 321 232 317 229 318Z" fill="#fa4600" stroke="#fa4600"/>
<path d="M227 321 231 320 234 319 237 318 241 318 238 317 235 316 232 317Z" fill="#f03c00" stroke="#f03c00"/>
<path d="M237 318 240 319 245 319 241 318Z" fill="#e63200" stroke="#e63200"/>
<path d="M240 319 243 320 248 319 245 319Z" fill="#e63c00" stroke="#e63c00"/>
<path d="M243 320 247 321 250 321 253 322 256 322 260 323 263 323 268 322 264 321 261 321 258 321 254 320 251 320 248 319Z" fill="#f03c00" stroke="#f03c00"/>
<path d="M139 296 141 297 144 297 147 297 149 298 152 298 155 299 158 299 160 300 163 300 166 301 169 302 172 302 177 302 174 301 171 300 168 300 165 299 163 299 160 298 157 298 154 297 152 297 149 296 146 296 144 295Z" fill="#dc0000" stroke="#dc0000"/>
<path d="M172 302 175 303 177 304 180 305 183 306 186 307 191 308 188 306 185 305 182 304 179 303 177 302Z" fill="#dc0a00" stroke="#dc0a00"/>
<path d="M186 307 189 309 194 309 191 308Z" fill="#dc1400" stroke="#dc1400"/>
<path d="M189 309 192 310 197 311 194 309Z" fill="#dc1e00" stroke="#dc1e00"/>
<path d="M192 310 195 312 200 314 197 311Z" fill="#dc2800" stroke="#dc2800"/>
<path d="M195 312 198 314 203 316 200 314Z" fill="#dc3200" stroke="#dc3200"/>
<path d="M198 314 201 317 206 319 203 316Z" fill="#dc3c00" stroke="#dc3c00"/>
<path d="M201 317 204 320 209 321 206 319Z" fill="#dc4600" stroke="#dc4600"/>
<path d="M204 320 207 322 212 323 209 321Z" fill="#dc5000" stroke="#dc5000"/>
<path d="M207 322 210 324 215 324 212 323Z" fill="#e65a00" stroke="#e65a00"/>
<path d="M210 324 213 326 218 324 215 324Z" fill="#e66400" stroke="#e66400"/>
<path d="M213 326 216 326 221 324 218 324Z" fill="#f06400" stroke="#f06400"/>
<path d="M216 326 220 326 224 322 221 324Z" fill="#fa6400" stroke="#fa6400"/>
<path d="M220 326 223 326 227 321 224 322Z" fill="#fa5a00" stroke="#fa5a00"/>
<path d="M223 326 226 325 231 320 227 321Z" fill="#fa5000" stroke="#fa5000"/>
<path d="M226 325 229 323 234 319 231 320Z" fill="#fa4600" stroke="#fa4600"/>
<path d="M229 323 232 322 236 321 239 320 243 320 240 319 237 318 234 319Z" fill="#f03c00" stroke="#f03c00"/>
<path d="M239 320 242 321 247 321 243 320Z" fill="#e63200" stroke="#e63200"/>
<path d="M242 321 245 322 250 321 247 321Z" fill="#e63c00" stroke="#e63c00"/>
<path d="M245 322 249 323 252 323 255 324 259 324 263 323 260 323 256 322 253 322 250 321Z" fill="#f03c00" stroke="#f03c00"/>
<path d="M134 297 136 297 139 298 142 298 144 299 147 299 150 300 153 300 155 301 158 301 161 302 164 302 167 303 170 304 175 303 172 302 169 302 166 301 163 300 160 300 158 299 155 299 152 298 149 298 147 297 144 297 141 297 139 296Z" fill="#dc0000" stroke="#dc0000"/>
<path d="M170 304 172 304 175 305 178 306 181 307 184 308 189 309 186 307 183 306 180 305 177 304 175 303Z" fill="#dc0a00" stroke="#dc0a00"/>
<path d="M184 308 187 310 190 311 195 312 192 310 189 309Z" fill="#dc1400" stroke="#dc1400"/>
<path d="M190 311 193 313 198 314 195 312Z" fill="#dc1e00" stroke="#dc1e00"/>
<path d="M193 313 196 315 201 317 198 314Z" fill="#dc2800" stroke="#dc2800"/>
<path d="M196 315 199 317 204 320 201 317Z" fill="#dc3200" stroke="#dc3200"/>
<path d="M199 317 202 320 207 322 204 320Z" fill="#dc3c00" stroke="#dc3c00"/>
<path d="M202 320 205 322 210 324 207 322Z" fill="#dc4600" stroke="#dc4600"/>
<path d="M205 322 209 325 213 326 210 324Z" fill="#dc5000" stroke="#dc5000"/>
<path d="M209 325 212 327 216 326 213 326Z" fill="#e65a00" stroke="#e65a00"/>
<path d="M212 327 215 328 218 329 223 326 220 326 216 326Z" fill="#f06400" stroke="#f06400"/>
<path d="M218 329 221 329 226 325 223 326Z" fill="#fa6400" stroke="#fa6400"/>
<path d="M221 329 224 328 229 323 226 325Z" fill="#fa5a00" stroke="#fa5a00"/>
<path d="M224 328 228 327 231 326 236 321 232 322 229 323Z" fill="#fa5000" stroke="#fa5000"/>
<path d="M231 326 234 325 239 320 236 321Z" fill="#fa4600" stroke="#fa4600"/>
<path d="M234 325 237 323 241 322 245 322 242 321 239 320Z" fill="#f03c00" stroke="#f03c00"/>
<path d="M241 322 244 323 249 323 245 322Z" fill="#e63200" stroke="#e63200"/>
<path d="M244 323 247 325 252 323 249 323Z" fill="#e63c00" stroke="#e63c00"/>
<path d="M247 325 251 325 254 326 259 324 255 324 252 323Z" fill="#f03c00" stroke="#f03c00"/>
<path d="M128 298 131 298 134 299 136 299 139 300 142 300 145 300 147 301 150 301 153 302 156 302 159 303 162 304 165 304 167 305 172 304 170 304 167 303 164 302 161 302 158 301 155 301 153 300 150 300 147 299 144 299 142 298 139 298 136 297 134 297Z" fill="#dc0000" stroke="#dc0000"/>
<path d="M167 305 170 306 173 306 176 307 179 308 182 309 185 311 190 311 187 310 184 308 181 307 178 306 175 305 172 304Z" fill="#dc0a00" stroke="#dc0a00"/>
<path d="M185 311 188 312 193 313 190 311Z" fill="#dc1400" stroke="#dc1400"/>
<path d="M188 312 191 314 196 315 193 313Z" fill="#dc1e00" stroke="#dc1e00"/>
<path d="M191 314 194 316 199 317 196 315Z" fill="#dc2800" stroke="#dc2800"/>
<path d="M194 316 197 318 202 320 199 317Z" fill="#dc3200" stroke="#dc3200"/>
<path d="M197 318 201 320 205 322 202 320Z" fill="#dc3c00" stroke="#dc3c00"/>
<path d="M201 320 204 323 209 325 205 322Z" fill="#dc4600" stroke="#dc4600"/>
<path d="M204 323 207 325 212 327 209 325Z" fill="#dc5000" stroke="#dc5000"/>
<path d="M207 325 210 328 215 328 212 327Z" fill="#dc5a00" stroke="#dc5a00"/>
<path d="M210 328 213 330 218 329 215 328Z" fill="#e65a00" stroke="#e65a00"/>
<path d="M213 330 216 331 219 332 224 328 221 329 218 329Z" fill="#f06400" stroke="#f06400"/>
<path d="M219 332 223 332 226 331 231 326 228 327 224 328Z" fill="#fa6400" stroke="#fa6400"/>
<path d="M226 331 229 330 234 325 231 326Z" fill="#fa5a00" stroke="#fa5a00"/>
<path d="M229 330 233 329 237 323 234 325Z" fill="#fa5000" stroke="#fa5000"/>
<path d="M233 329 236 327 241 322 237 323Z" fill="#fa4600" stroke="#fa4600"/>
<path d="M236 327 239 326 243 324 247 325 244 323 241 322Z" fill="#f03c00" stroke="#f03c00"/>
<path d="M243 324 246 325 249 326 254 326 251 325 247 325Z" fill="#e63200" stroke="#e63200"/>
<path d="M123 299 126 299 129 300 131 300 134 300 137 301 140 301 142 302 145 302 148 303 151 303 154 304 156 304 159 305 162 305 165 306 168 307 173 306 170 306 167 305 165 304 162 304 159 303 156 302 153 302 150 301 147 301 145 300 142 300 139 300 136 299 134 299 131 298 128 298Z" fill="#dc0000" stroke="#dc0000"/>
<path d="M168 307 171 308 174 308 177 309 180 310 183 311 188 312 185 311 182 309 179 308 176 307 173 306Z" fill="#dc0a00" stroke="#dc0a00"/>
<path d="M183 311 186 313 189 314 194 316 191 314 188 312Z" fill="#dc1400" stroke="#dc1400"/>
<path d="M189 314 192 316 197 318 194 316Z" fill="#dc1e00" stroke="#dc1e00"/>
<path d="M192 316 196 318 201 320 197 318Z" fill="#dc2800" stroke="#dc2800"/>
<path d="M196 318 199 320 204 323 201 320Z" fill="#dc3200" stroke="#dc3200"/>
<path d="M199 320 202 322 207 325 204 323Z" fill="#d23c00" stroke="#d23c00"/>
<path d="M202 322 205 325 210 328 207 325Z" fill="#dc4600" stroke="#dc4600"/>
<path d="M205 325 208 328 213 330 210 328Z" fill="#dc5000" stroke="#dc5000"/>
<path d="M208 328 211 330 216 331 213 330Z" fill="#dc5a00" stroke="#dc5a00"/>
<path d="M211 330 215 332 219 332 216 331Z" fill="#e66400" stroke="#e66400"/>
<path d="M215 332 218 334 223 332 219 332Z" fill="#f06400" stroke="#f06400"/>
<path d="M218 334 221 335 224 335 229 330 226 331 223 332Z" fill="#fa6e00" stroke="#fa6e00"/>
<path d="M224 335 228 334 233 329 229 330Z" fill="#fa6400" stroke="#fa6400"/>
<path d="M228 334 231 333 236 327 233 329Z" fill="#fa5a00" stroke="#fa5a00"/>
<path d="M231 333 234 331 239 326 236 327Z" fill="#fa5000" stroke="#fa5000"/>
<path d="M234 331 238 330 243 324 239 326Z" fill="#fa4600" stroke="#fa4600"/>
<path d="M238 330 241 328 245 327 249 326 246 325 243 324Z" fill="#f03c00" stroke="#f03c00"/>
<path d="M118 300 120 300 123 300 126 301 129 301 131 302 134 302 137 303 140 303 143 303 145 304 148 304 151 305 154 306 157 306 160 307 163 307 166 308 171 308 168 307 165 306 162 305 159 305 156 304 154 304 151 303 148 303 145 302 142 302 140 301 137 301 134 300 131 300 129 300 126 299 123 299Z" fill="#dc0000" stroke="#dc0000"/>
<path d="M166 308 169 309 172 310 175 310 178 311 181 312 184 314 189 314 186 313 183 311 180 310 177 309 174 308 171 308Z" fill="#dc0a00" stroke="#dc0a00"/>
<path d="M184 314 187 315 192 316 189 314Z" fill="#dc1400" stroke="#dc1400"/>
<path d="M187 315 190 316 194 318 199 320 196 318 192 316Z" fill="#dc1e00" stroke="#dc1e00"/>
<path d="M194 318 197 320 202 322 199 320Z" fill="#dc2800" stroke="#dc2800"/>
<path d="M197 320 200 322 205 325 202 322Z" fill="#d23200" stroke="#d23200"/>
<path d="M200 322 203 324 208 328 205 325Z" fill="#d23c00" stroke="#d23c00"/>
<path d="M203 324 206 327 211 330 208 328Z" fill="#d24600" stroke="#d24600"/>
<path d="M206 327 210 330 215 332 211 330Z" fill="#dc5000" stroke="#dc5000"/>
<path d="M210 330 213 333 218 334 215 332Z" fill="#dc5a00" stroke="#dc5a00"/>
<path d="M213 333 216 335 221 335 218 334Z" fill="#e66400" stroke="#e66400"/>
<path d="M216 335 219 337 224 335 221 335Z" fill="#e66e00" stroke="#e66e00"/>
<path d="M219 337 223 337 228 334 224 335Z" fill="#f06e00" stroke="#f06e00"/>
<path d="M223 337 226 337 231 333 228 334Z" fill="#fa6e00" stroke="#fa6e00"/>
<path d="M226 337 229 337 234 331 231 333Z" fill="#fa6400" stroke="#fa6400"/>
<path d="M229 337 233 336 238 330 234 331Z" fill="#fa5a00" stroke="#fa5a00"/>
<path d="M233 336 236 334 241 328 238 330Z" fill="#fa5000" stroke="#fa5000"/>
<path d="M236 334 240 333 245 327 241 328Z" fill="#fa4600" stroke="#fa4600"/>
<path d="M112 301 115 301 118 301 120 302 123 302 126 303 129 303 132 303 134 304 137 304 140 305 143 305 146 306 149 306 152 307 155 307 158 308 161 309 164 309 167 310 172 310 169 309 166 308 163 307 160 307 157 306 154 306 151 305 148 304 145 304 143 303 140 303 137 303 134 302 131 302 129 301 126 301 123 300 120 300 118 300Z" fill="#dc0000" stroke="#dc0000"/>
<path d="M167 310 170 311 173 311 176 312 179 313 182 314 185 315 190 316 187 315 184 314 181 312 178 311 175 310 172 310Z" fill="#dc0a00" stroke="#dc0a00"/>
<path d="M185 315 188 317 194 318 190 316Z" fill="#dc1400" stroke="#dc1400"/>
<path d="M188 317 192 318 195 320 200 322 197 320 194 318Z" fill="#dc1e00" stroke="#dc1e00"/>
<path d="M195 320 198 322 203 324 200 322Z" fill="#d22800" stroke="#d22800"/>
<path d="M198 322 201 324 206 327 203 324Z" fill="#d23200" stroke="#d23200"/>
<path d="M201 324 205 326 210 330 206 327Z" fill="#d23c00" stroke="#d23c00"/>
<path d="M205 326 208 329 213 333 210 330Z" fill="#d24600" stroke="#d24600"/>
<path d="M208 329 211 331 216 335 213 333Z" fill="#d25000" stroke="#d25000"/>
<path d="M211 331 214 334 219 337 216 335Z" fill="#dc5a00" stroke="#dc5a00"/>
<path d="M214 334 218 336 223 337 219 337Z" fill="#dc6400" stroke="#dc6400"/>
<path d="M218 336 221 338 226 337 223 337Z" fill="#e66400" stroke="#e66400"/>
<path d="M221 338 224 339 229 337 226 337Z" fill="#f06e00" stroke="#f06e00"/>
<path d="M224 339 228 340 233 336 229 337Z" fill="#fa6e00" stroke="#fa6e00"/>
<path d="M228 340 231 339 235 339 240 333 236 334 233 336Z" fill="#fa6400" stroke="#fa6400"/>
<path d="M107 301 109 302 112 302 115 303 118 303 121 303 123 304 126 304 129 305 132 305 135 306 138 306 140 307 143 307 146 308 149 308 152 309 155 309 158 310 161 310 164 311 167 312 173 311 170 311 167 310 164 309 161 309 158 308 155 307 152 307 149 306 146 306 143 305 140 305 137 304 134 304 132 303 129 303 126 303 123 302 120 302 118 301 115 301 112 301Z" fill="#dc0000" stroke="#dc0000"/>
<path d="M167 312 171 313 174 313 177 314 180 315 183 316 186 317 192 318 188 317 185 315 182 314 179 313 176 312 173 311Z" fill="#dc0a00" stroke="#dc0a00"/>
<path d="M186 317 190 318 193 320 198 322 195 320 192 318Z" fill="#dc1400" stroke="#dc1400"/>
<path d="M193 320 196 321 201 324 198 322Z" fill="#dc1e00" stroke="#dc1e00"/>
<path d="M196 321 199 323 205 326 201 324Z" fill="#d22800" stroke="#d22800"/>
<path d="M199 323 203 325 208 329 205 326Z" fill="#d23200" stroke="#d23200"/>
<path d="M203 325 206 327 209 330 214 334 211 331 208 329Z" fill="#d23c00" stroke="#d23c00"/>
<path d="M209 330 213 332 218 336 214 334Z" fill="#d24600" stroke="#d24600"/>
<path d="M213 332 216 334 221 338 218 336Z" fill="#d25000" stroke="#d25000"/>
<path d="M216 334 219 336 223 338 228 340 224 339 221 338Z" fill="#dc5a00" stroke="#dc5a00"/>
<path d="M223 338 226 340 231 339 228 340Z" fill="#e66400" stroke="#e66400"/>
<path d="M226 340 230 341 235 339 231 339Z" fill="#f06400" stroke="#f06400"/>
<path d="M101 302 104 303 107 303 109 304 112 304 115 304 118 305 121 305 123 306 126 306 129 307 132 307 135 307 138 308 141 308 144 309 147 309 150 310 153 311 156 311 159 312 162 312 165 313 168 314 174 313 171 313 167 312 164 311 161 310 158 310 155 309 152 309 149 308 146 308 143 307 140 307 138 306 135 306 132 305 129 305 126 304 123 304 121 303 118 303 115 303 112 302 109 302 107 301Z" fill="#dc0000" stroke="#dc0000"/>
<path d="M168 314 171 314 175 315 178 316 181 317 184 318 187 319 193 320 190 318 186 317 183 316 180 315 177 314 174 313Z" fill="#dc0a00" stroke="#dc0a00"/>
<path d="M187 319 191 320 194 321 199 323 196 321 193 320Z" fill="#dc1400" stroke="#dc1400"/>
<path d="M194 321 197 323 203 325 199 323Z" fill="#dc1e00" stroke="#dc1e00"/>
<path d="M197 323 201 324 206 327 203 325Z" fill="#d21e00" stroke="#d21e00"/>
<path d="M201 324 204 326 209 330 206 327Z" fill="#d22800" stroke="#d22800"/>
<path d="M204 326 207 328 213 332 209 330Z" fill="#d23200" stroke="#d23200"/>
<path d="M207 328 211 330 214 332 219 336 216 334 213 332Z" fill="#d23c00" stroke="#d23c00"/>
<path d="M214 332 218 334 221 336 226 340 223 338 219 336Z" fill="#d24600" stroke="#d24600"/>
<path d="M221 336 225 337 230 341 226 340Z" fill="#dc5000" stroke="#dc5000"/>
<path d="M95 303 98 304 101 304 104 304 106 305 109 305 112 306 115 306 118 307 121 307 123 307 126 308 129 308 132 309 135 309 138 310 141 310 144 311 147 311 150 312 153 312 156 313 160 314 163 314 166 315 169 315 175 315 171 314 168 314 165 313 162 312 159 312 156 311 153 311 150 310 147 309 144 309 141 308 138 308 135 307 132 307 129 307 126 306 123 306 121 305 118 305 115 304 112 304 109 304 107 303 104 303 101 302Z" fill="#dc0000" stroke="#dc0000"/>
<path d="M169 315 172 316 175 317 179 318 182 319 185 320 189 321 192 322 197 323 194 321 191 320 187 319 184 318 181 317 178 316 175 315Z" fill="#dc0a00" stroke="#dc0a00"/>
<path d="M192 322 195 323 199 324 204 326 201 324 197 323Z" fill="#dc1400" stroke="#dc1400"/>
<path d="M199 324 202 325 207 328 204 326Z" fill="#dc1e00" stroke="#dc1e00"/>
<path d="M202 325 205 327 211 330 207 328Z" fill="#d21e00" stroke="#d21e00"/>
<path d="M205 327 209 328 212 329 218 334 214 332 211 330Z" fill="#d22800" stroke="#d22800"/>
<path d="M212 329 216 331 219 332 225 337 221 336 218 334Z" fill="#d23200" stroke="#d23200"/>
<path d="M90 304 92 305 95 305 98 305 101 306 103 306 106 307 109 307 112 308 115 308 118 308 121 309 124 309 126 310 129 310 132 311 135 311 138 312 141 312 145 313 148 313 151 314 154 314 157 315 160 315 163 316 167 317 170 317 173 318 179 318 175 317 172 316 169 315 166 315 163 314 160 314 156 313 153 312 150 312 147 311 144 311 141 310 138 310 135 309 132 309 129 308 126 308 123 307 121 307 118 307 115 306 112 306 109 305 106 305 104 304 101 304 98 304 95 303Z" fill="#dc0000" stroke="#dc0000"/>
<path d="M173 318 176 319 180 319 183 320 186 321 190 322 193 323 197 324 200 325 205 327 202 325 199 324 195 323 192 322 189 321 185 320 182 319 179 318Z" fill="#dc0a00" stroke="#dc0a00"/>
<path d="M200 325 203 326 207 327 212 329 209 328 205 327Z" fill="#dc1400" stroke="#dc1400"/>
<path d="M207 327 210 328 216 331 212 329Z" fill="#d21400" stroke="#d21400"/>
<path d="M210 328 214 329 219 332 216 331Z" fill="#d21e00" stroke="#d21e00"/>
<path d="M84 305 86 306 89 306 92 306 95 307 97 307 100 308 103 308 106 309 109 309 112 309 115 310 118 310 121 311 124 311 127 312 130 312 133 313 136 313 139 314 142 314 145 315 148 315 151 316 154 316 158 317 161 317 164 318 167 319 171 319 174 320 177 321 181 321 186 321 183 320 180 319 176 319 173 318 170 317 167 317 163 316 160 315 157 315 154 314 151 314 148 313 145 313 141 312 138 312 135 311 132 311 129 310 126 310 124 309 121 309 118 308 115 308 112 308 109 307 106 307 103 306 101 306 98 305 95 305 92 305 90 304Z" fill="#dc0000" stroke="#dc0000"/>
<path d="M181 321 184 322 188 323 191 323 194 324 198 325 201 326 205 327 209 327 214 329 210 328 207 327 203 326 200 325 197 324 193 323 190 322 186 321Z" fill="#dc0a00" stroke="#dc0a00"/>
<path d="M78 306 80 307 83 307 86 307 89 308 91 308 94 309 97 309 100 310 103 310 106 310 109 311 112 311 115 312 118 312 121 313 124 313 127 314 130 314 133 315 136 315 139 316 142 316 145 317 149 317 152 318 155 318 158 319 162 319 165 320 168 321 172 321 175 322 178 322 182 323 185 324 189 324 194 324 191 323 188 323 184 322 181 321 177 321 174 320 171 319 167 319 164 318 161 317 158 317 154 316 151 316 148 315 145 315 142 314 139 314 136 313 133 313 130 312 127 312 124 311 121 311 118 310 115 310 112 309 109 309 106 309 103 308 100 308 97 307 95 307 92 306 89 306 86 306 84 305Z" fill="#dc0000" stroke="#dc0000"/>
<path d="M189 324 192 325 196 326 199 326 203 327 209 327 205 327 201 326 198 325 194 324Z" fill="#dc0a00" stroke="#dc0a00"/>
<path d="M71 307 74 308 77 308 80 308 82 309 85 309 88 310 91 310 94 311 97 311 100 311 103 312 106 312 109 313 112 313 115 314 118 314 121 315 124 315 127 316 130 316 133 317 136 317 139 318 143 318 146 319 149 319 152 320 156 320 159 321 162 321 166 322 169 322 173 323 176 324 179 324 183 325 186 325 190 326 194 327 197 327 203 327 199 326 196 326 192 325 189 324 185 324 182 323 178 322 175 322 172 321 168 321 165 320 162 319 158 319 155 318 152 318 149 317 145 317 142 316 139 316 136 315 133 315 130 314 127 314 124 313 121 313 118 312 115 312 112 311 109 311 106 310 103 310 100 310 97 309 94 309 91 308 89 308 86 307 83 307 80 307 78 306Z" fill="#dc0000" stroke="#dc0000"/>
</g>
<line x1="35.7" y1="153.5" x2="38.7" y2="231.1" stroke="#000" stroke-width="1.1"/>
<line x1="33.7" y1="153.5" x2="35.7" y2="153.5" stroke="#000" stroke-width="0.8"/>
<text x="33.2" y="156" font-family='"Liberation Serif", serif' font-size="7.2" font-weight="bold" text-anchor="end" fill="#000" >0</text>
<line x1="34.2" y1="167" x2="36.2" y2="167" stroke="#000" stroke-width="0.8"/>
<text x="33.7" y="169.5" font-family='"Liberation Serif", serif' font-size="7.2" font-weight="bold" text-anchor="end" fill="#000" >-10</text>
<line x1="34.7" y1="180.2" x2="36.7" y2="180.2" stroke="#000" stroke-width="0.8"/>
<text x="34.2" y="182.7" font-family='"Liberation Serif", serif' font-size="7.2" font-weight="bold" text-anchor="end" fill="#000" >-20</text>
<line x1="35.2" y1="193.2" x2="37.2" y2="193.2" stroke="#000" stroke-width="0.8"/>
<text x="34.7" y="195.7" font-family='"Liberation Serif", serif' font-size="7.2" font-weight="bold" text-anchor="end" fill="#000" >-30</text>
<line x1="35.7" y1="206" x2="37.7" y2="206" stroke="#000" stroke-width="0.8"/>
<text x="35.2" y="208.5" font-family='"Liberation Serif", serif' font-size="7.2" font-weight="bold" text-anchor="end" fill="#000" >-40</text>
<line x1="36.2" y1="218.7" x2="38.2" y2="218.7" stroke="#000" stroke-width="0.8"/>
<text x="35.7" y="221.2" font-family='"Liberation Serif", serif' font-size="7.2" font-weight="bold" text-anchor="end" fill="#000" >-50</text>
<line x1="36.7" y1="231.1" x2="38.7" y2="231.1" stroke="#000" stroke-width="0.8"/>
<text x="36.2" y="233.6" font-family='"Liberation Serif", serif' font-size="7.2" font-weight="bold" text-anchor="end" fill="#000" >-60</text>
<path d="M38.7 231.1L98.7 250.5L144.5 224.9" fill="none" stroke="#000" stroke-width="1"/>
<text x="0" y="0" font-family='"Liberation Serif", serif' font-size="6.3" font-weight="bold" text-anchor="middle" fill="#000" transform="translate(49.2,239.7) rotate(17.9) skewX(-25)">5</text>
<text x="0" y="0" font-family='"Liberation Serif", serif' font-size="6.3" font-weight="bold" text-anchor="middle" fill="#000" transform="translate(65.9,245.2) rotate(17.9) skewX(-25)">10</text>
<text x="0" y="0" font-family='"Liberation Serif", serif' font-size="6.3" font-weight="bold" text-anchor="middle" fill="#000" transform="translate(83.9,251.1) rotate(17.9) skewX(-25)">15</text>
<text x="0" y="0" font-family='"Liberation Serif", serif' font-size="6.3" font-weight="bold" text-anchor="middle" fill="#000" transform="translate(102.9,254.4) rotate(-29.3) skewX(25)">1</text>
<text x="0" y="0" font-family='"Liberation Serif", serif' font-size="6.3" font-weight="bold" text-anchor="middle" fill="#000" transform="translate(115.9,246.9) rotate(-29.3) skewX(25)">2</text>
<text x="0" y="0" font-family='"Liberation Serif", serif' font-size="6.3" font-weight="bold" text-anchor="middle" fill="#000" transform="translate(127.6,240.1) rotate(-29.3) skewX(25)">3</text>
<text x="0" y="0" font-family='"Liberation Serif", serif' font-size="6.3" font-weight="bold" text-anchor="middle" fill="#000" transform="translate(138.4,234) rotate(-29.3) skewX(25)">4</text>
<text x="0" y="0" font-family='"Liberation Serif", serif' font-size="6.3" font-weight="bold" text-anchor="middle" fill="#000" transform="translate(148.2,228.3) rotate(-29.3) skewX(25)">5</text>
<text x="0" y="0" font-family='"Liberation Serif", serif' font-size="8.8" font-weight="bold" text-anchor="middle" fill="#000" transform="translate(58.7,250.8) rotate(17.9) skewX(-25)">Frequency (GHz)</text>
<text x="0" y="0" font-family='"Liberation Serif", serif' font-size="7.6" font-weight="bold" text-anchor="middle" fill="#000" transform="translate(142.6,244.2) rotate(-29.3) skewX(25)">Thickness (mm)</text>
<text x="0" y="0" font-family='"Liberation Serif", serif' font-size="11" font-weight="bold" text-anchor="middle" fill="#000" transform="translate(15.5,197.3) rotate(90)">RL (dB)</text>
<text x="35.2" y="167.5" font-family='"Liberation Serif", serif' font-size="16.5" font-weight="bold" text-anchor="start" fill="#000" >(d)</text>
<defs><linearGradient id="cb3_1" x1="0" y1="0" x2="0" y2="1"><stop offset="0.000" stop-color="#e40000"/><stop offset="0.033" stop-color="#e60a00"/><stop offset="0.083" stop-color="#f03c00"/><stop offset="0.150" stop-color="#fa7800"/><stop offset="0.233" stop-color="#ffb400"/><stop offset="0.333" stop-color="#fae600"/><stop offset="0.433" stop-color="#3cbe00"/><stop offset="0.533" stop-color="#00963c"/><stop offset="0.633" stop-color="#0050c8"/><stop offset="0.750" stop-color="#0014be"/><stop offset="0.883" stop-color="#14006e"/><stop offset="1.000" stop-color="#460082"/></linearGradient></defs>
<rect x="149.3" y="155.6" width="6.6" height="68.1" fill="url(#cb3_1)"/>
<text x="158.4" y="157.8" font-family='"Liberation Serif", serif' font-size="6.6" font-weight="bold" text-anchor="start" fill="#000" >0.000</text>
<text x="158.4" y="169.1" font-family='"Liberation Serif", serif' font-size="6.6" font-weight="bold" text-anchor="start" fill="#000" >-10.00</text>
<text x="158.4" y="180.5" font-family='"Liberation Serif", serif' font-size="6.6" font-weight="bold" text-anchor="start" fill="#000" >-20.00</text>
<text x="158.4" y="191.8" font-family='"Liberation Serif", serif' font-size="6.6" font-weight="bold" text-anchor="start" fill="#000" >-30.00</text>
<text x="158.4" y="203.2" font-family='"Liberation Serif", serif' font-size="6.6" font-weight="bold" text-anchor="start" fill="#000" >-40.00</text>
<text x="158.4" y="214.5" font-family='"Liberation Serif", serif' font-size="6.6" font-weight="bold" text-anchor="start" fill="#000" >-50.00</text>
<text x="158.4" y="225.9" font-family='"Liberation Serif", serif' font-size="6.6" font-weight="bold" text-anchor="start" fill="#000" >-60.00</text>
<text x="156.4" y="149.6" font-family='"Liberation Serif", serif' font-size="10.6" font-weight="bold" text-anchor="middle" fill="#000" >RL (dB)</text>
<line x1="86" y1="275.5" x2="86.5" y2="339.6" stroke="#c8c8c8" stroke-width="0.6"/>
<line x1="86" y1="275.5" x2="143.2" y2="281.9" stroke="#555" stroke-width="0.7" stroke-dasharray="2 1.5"/>
<line x1="143.2" y1="281.9" x2="141.6" y2="354.6" stroke="#bbb" stroke-width="0.6" stroke-dasharray="2 1.5"/>
<path d="M37.8 358.6 95.6 379.5 141.6 354.6 86.5 339.6Z" fill="#e10000"/>
<path d="M101.9 365.8 105.8 366.9 106.2 366 104.8 364.3 103.2 363.4 100.1 363 100.1 364.1 101.9 365.8Z" fill="#0fbe78" fill-rule="evenodd"/>
<path d="M101.9 366.7 106.2 368 108.3 367.7 107.5 365.6 105 363.4 101.5 361.7 98.9 361.6 98.3 362.4 98.7 364 99.6 365.2 101.9 366.7ZM101.2 365.4 100 364 100.1 363 103.2 363.4 104.8 364.3 106.2 366 105.8 366.9 105.1 366.8 101.2 365.4ZM94.3 357.3 95.4 357.6 97.1 356.3 97.5 354.4 96.8 353.3 95.9 353.3 94.3 354.6 93.8 356.1 94.3 357.3Z" fill="#4bc332" fill-rule="evenodd"/>
<path d="M98.7 365.7 100.9 367.2 103.9 368.3 111.1 369.6 111.2 368.6 107.4 363.9 103.8 361.5 98.4 359.2 98 358.6 98.8 355 98.6 353.2 97.7 351.5 96.1 351.6 93.5 354.3 92.8 355.8 92.7 357.3 93.6 358.4 96.3 360.2 96.8 363.2 98.7 365.7ZM101.6 366.5 98.7 364 98.3 362.4 98.9 361.6 101.5 361.7 105 363.4 107.5 365.6 108.3 367.7 106.2 368 101.6 366.5ZM94.3 357.3 93.8 356.1 94.3 354.6 95.9 353.3 96.8 353.3 97.5 354.4 97.1 356.3 95.4 357.6 94.3 357.3Z" fill="#acda0f" fill-rule="evenodd"/>
<path d="M98.5 366.6 102 368.4 110.8 371.3 114.6 369.3 107.8 362.8 100.5 358.2 99.9 357 99.8 353.3 98.7 349 96.8 349.8 94.4 352 92.3 354.9 91.7 357.1 92 358.4 94 360.6 96.1 364.4 98.5 366.6ZM98.6 365.6 96.7 362.9 96.3 360.2 93.6 358.4 92.7 357.3 92.8 355.8 93.5 354.3 96.1 351.6 97.7 351.5 98.6 353.2 98.8 355 98 358.6 98.4 359.2 103.8 361.5 107.4 363.9 111.2 368.6 111.1 369.6 103.9 368.3 100.9 367.2 98.6 365.6Z" fill="#f0e400" fill-rule="evenodd"/>
<path d="M99.3 368 109.7 371.9 110.8 371.3 102 368.4 98.5 366.6 96.1 364.4 94 360.6 92 358.4 91.8 356.3 93.2 353.4 96.5 350.1 98.7 349 99.8 353.3 99.9 357 100.5 358.2 107.8 362.8 114.6 369.3 115.8 368.6 113.5 367 108.8 362.3 102 357.5 101.1 355.7 100.5 351.2 100.7 346.8 98.4 347.8 93.8 351.8 91.7 354.7 90.8 357.4 91.4 359.4 95.2 364.9 99.3 368Z" fill="#ffdd00" fill-rule="evenodd"/>
<path d="M101.3 369.7 108.6 372.5 109.7 371.9 101.2 368.8 97 366.5 95.2 364.9 91.4 359.4 90.8 357.4 91.7 354.7 93.8 351.8 98.4 347.8 100.7 346.8 100.5 351.2 101.1 355.7 102 357.5 108.8 362.3 115 368.1 115.8 368.6 117.1 367.9 103.2 356.2 101.7 350.8 102.3 347.7 103.9 344.3 103.1 344.1 98 347.3 93.7 350.9 91 354.5 89.8 357.9 90.6 360.6 94.1 365.4 97.5 368 101.3 369.7Z" fill="#ffd400" fill-rule="evenodd"/>
<path d="M95.9 367.9 107.9 372.9 108.6 372.5 96.7 367.6 93.1 364.2 90 359.3 90.3 356.1 92.5 352.3 98 347.3 103.1 344.1 102.2 343.9 101.4 344.4 93.9 350.1 90.9 353.5 89.3 356.7 88.9 359.1 89.6 361.1 92.6 365.3 95.9 367.9ZM115.5 366.9 117.1 367.9 118.1 367.3 114.5 364.6 111.2 361.1 106.1 357.1 104.2 354.9 102.8 350.2 103.4 347.6 104.9 344.6 103.9 344.3 101.8 349.9 103.2 356.2 104.6 357.7 110.1 361.7 115.5 366.9Z" fill="#ffc300" fill-rule="evenodd"/>
<path d="M97.8 369.7 107.1 373.3 107.9 372.9 98.5 369.3 95.1 367.5 91.6 364.1 89.1 359.8 89.4 356.6 91.4 352.8 95.3 348.9 102.2 343.9 101.8 343.8 95.7 348.2 91.5 352 89.4 354.9 88.2 358.7 88.4 360.8 90.7 364.5 94.4 367.8 97.8 369.7ZM116.5 366.3 118.1 367.3 119 366.8 116.6 365.2 112.3 360.5 107.3 356.5 105.5 354.4 103.8 350.1 104.3 347.5 105.7 344.8 104.9 344.6 103.5 347.3 102.8 349.9 104.2 354.9 105.5 356.6 111.2 361.1 116.5 366.3Z" fill="#fca400" fill-rule="evenodd"/>
<path d="M105.3 373.3 106.3 373.7 107.1 373.3 97.8 369.7 93.7 367.3 89.9 363.3 88.2 359.4 89 355.7 90.9 352.7 94.9 348.8 101.8 343.8 101.4 343.6 94.5 348.7 89.8 353.2 87.9 356.6 87.2 360.6 87.9 362.6 89.7 365 93.4 368.3 96.9 370.1 105.3 373.3ZM116.7 365.3 119 366.8 121.2 365.6 120.1 365.3 120.2 364.3 117 363.3 117.1 362.4 116 362.1 116.1 361.2 115 360.8 115 360 112.1 358.1 111.9 357.4 110.3 356.7 110.3 355.9 108.4 355.2 108.5 354.4 107.6 354.1 108.1 350.9 107.2 350.7 107.3 349.9 108.4 349.4 108.9 346.4 110 346 108.1 345.5 107.1 345.9 106.1 345.7 107.2 345.2 105.7 344.8 104.5 347.1 103.8 349.7 105.5 354.4 107.3 356.5 112.3 360.5 116.7 365.3ZM106 346.4 107.1 345.9 106.9 346.7 106 346.4Z" fill="#fa8700" fill-rule="evenodd"/>
<path d="M92.2 368.9 95.7 370.7 105.3 374.3 106.3 373.7 96.9 370.1 93.4 368.3 89.7 365 87.9 362.6 87.2 360.6 87.9 356.6 89.8 353.2 94.5 348.7 101.4 343.6 100.9 343.5 99.3 344.6 91.8 350.4 88.5 353.7 86.7 356.8 85.9 360.5 86.6 363.3 88.9 366.3 92.2 368.9ZM120.1 365.3 121.2 365.6 128.4 361.7 123 358.4 118.9 354.8 116.7 351.3 116.3 347.7 110 346 108.9 346.4 108.4 349.4 107.3 349.9 107.2 350.7 108.1 350.9 107.6 354.1 108.5 354.4 108.4 355.2 110.3 355.9 110.3 356.7 111.9 357.4 112.1 358.1 115 360 115 360.8 116.1 361.2 116 362.1 117.1 362.4 117 363.3 120.2 364.3 120.1 365.3ZM106 346.4 106.9 346.7 107.1 345.9 106 346.4ZM106.1 345.7 107.1 345.9 108.1 345.5 107.2 345.2 106.1 345.7Z" fill="#f66900" fill-rule="evenodd"/>
<path d="M89.8 369.3 93.1 371.1 103.9 375.1 105.3 374.3 95.7 370.7 91.5 368.4 87.4 364.5 85.9 361.2 86.7 356.8 89.1 353 93.2 349.1 100.9 343.5 100.3 343.3 99.5 343.9 91 350.1 87.5 353.4 85.1 357.1 84.1 361.3 84.4 363.5 86.4 366.6 89.8 369.3ZM126.8 360.8 128.4 361.7 134.1 358.7 127 353.8 123.9 349.8 116.3 347.7 116.5 350.9 118.4 354.2 121.7 357.4 126.8 360.8Z" fill="#f24b00" fill-rule="evenodd"/>
<path d="M87 370.6 90.5 372.5 101.5 376.4 103.9 375.1 94.1 371.6 90.5 369.8 85.9 366 84.7 364.2 84.1 362.1 85.1 357.1 87.5 353.4 93.3 348.3 100.3 343.3 99.3 343.1 98.5 343.6 89.9 349.8 85.5 353.7 82.5 357.6 81.1 362.7 81.3 364.9 83.5 368 87 370.6ZM133.2 358.2 134.1 358.7 141.6 354.6 123.9 349.8 127 353.8 133.2 358.2Z" fill="#ed2d00" fill-rule="evenodd"/>
<path d="M38.6 358.9 95.6 379.5 101.5 376.4 87.8 371.1 82.9 367.4 81.6 365.6 81.1 363.4 82.1 358.5 84.2 355.1 89.9 349.8 99.3 343.1 86.5 339.6 37.8 358.6 38.6 358.9Z" fill="#e20200" fill-rule="evenodd"/>
<path d="M107.9 372.9 98.6 369.3 95.5 367.7 91.9 364.4 89.1 359.6 89.5 356.1 91.6 352.5 95.8 348.5 102.2 343.9" fill="none" stroke="#7030c0" stroke-width="0.9"/>
<path d="M104.9 344.6 103.5 347.2 102.8 349.9 104.6 355.5 111.4 361.2 115.4 365.5 118.1 367.4" fill="none" stroke="#7030c0" stroke-width="0.9"/>
<g transform="scale(0.5)" stroke-width="1">
<path d="M168 552 170 552 173 552 175 553 178 553 181 554 183 554 186 555 189 555 191 556 196 556 193 555 190 554 188 553 185 553 182 552 180 552 177 552 175 551 172 551Z" fill="#dc0000" stroke="#dc0000"/>
<path d="M191 556 194 558 199 558 196 556Z" fill="#dc0a00" stroke="#dc0a00"/>
<path d="M194 558 197 562 201 564 199 558Z" fill="#c81400" stroke="#c81400"/>
<path d="M197 562 200 571 204 577 201 564Z" fill="#c83c00" stroke="#c83c00"/>
<path d="M200 571 202 589 207 590 204 577Z" fill="#dc7800" stroke="#dc7800"/>
<path d="M202 589 205 593 210 581 207 590Z" fill="#dc9600" stroke="#dc9600"/>
<path d="M205 593 208 582 212 573 210 581Z" fill="#f08200" stroke="#f08200"/>
<path d="M208 582 211 574 215 574 212 573Z" fill="#f06400" stroke="#f06400"/>
<path d="M211 574 214 575 217 575 219 576 221 576 222 576 223 576 224 576 225 576 230 574 229 574 228 574 227 574 226 574 225 574 224 574 221 574 218 574 215 574Z" fill="#f05a00" stroke="#f05a00"/>
<path d="M225 576 226 576 227 576 228 576 229 575 231 575 236 573 234 573 233 574 232 574 231 574 230 574Z" fill="#f05000" stroke="#f05000"/>
<path d="M231 575 234 575 237 575 240 575 245 573 242 573 239 573 236 573Z" fill="#f04600" stroke="#f04600"/>
<path d="M240 575 243 574 246 575 250 575 251 575 252 575 253 575 254 575 255 575 256 575 258 575 259 575 260 576 262 576 265 576 269 577 272 577 275 577 279 578 282 578 286 577 283 577 279 576 276 576 273 576 270 575 267 575 266 575 264 575 263 574 262 574 261 574 260 574 259 574 258 574 257 574 255 573 254 573 251 573 248 573 245 573Z" fill="#f03c00" stroke="#f03c00"/>
<path d="M163 553 165 553 168 553 171 554 173 554 176 554 179 555 181 555 184 556 187 557 189 558 194 558 191 556 189 555 186 555 183 554 181 554 178 553 175 553 173 552 170 552 168 552Z" fill="#dc0000" stroke="#dc0000"/>
<path d="M189 558 192 561 197 562 194 558Z" fill="#d20a00" stroke="#d20a00"/>
<path d="M192 561 195 567 200 571 197 562Z" fill="#c81e00" stroke="#c81e00"/>
<path d="M195 567 198 581 202 589 200 571Z" fill="#d25a00" stroke="#d25a00"/>
<path d="M198 581 201 599 205 593 202 589Z" fill="#dc9600" stroke="#dc9600"/>
<path d="M201 599 203 595 208 582 205 593Z" fill="#fab400" stroke="#fab400"/>
<path d="M203 595 206 583 211 574 208 582Z" fill="#f08200" stroke="#f08200"/>
<path d="M206 583 209 576 214 575 211 574Z" fill="#f06400" stroke="#f06400"/>
<path d="M209 576 212 576 215 577 216 577 217 577 218 578 219 578 220 578 221 578 222 578 224 577 228 576 227 576 226 576 225 576 224 576 223 576 222 576 221 576 219 576 217 575 214 575Z" fill="#f05a00" stroke="#f05a00"/>
<path d="M224 577 225 577 227 577 230 577 233 577 237 575 234 575 231 575 229 575 228 576Z" fill="#f05000" stroke="#f05000"/>
<path d="M233 577 236 577 239 577 242 576 246 575 243 574 240 575 237 575Z" fill="#f04600" stroke="#f04600"/>
<path d="M242 576 245 576 247 576 248 577 249 577 250 577 251 577 252 577 253 577 254 577 255 577 256 577 257 577 258 577 261 577 264 578 268 578 271 579 274 579 278 579 282 578 279 578 275 577 272 577 269 577 265 576 262 576 260 576 259 575 258 575 256 575 255 575 254 575 253 575 252 575 251 575 250 575 246 575Z" fill="#f03c00" stroke="#f03c00"/>
<path d="M158 553 161 554 163 554 166 554 169 555 171 555 174 556 177 556 179 557 182 558 185 559 189 558 187 557 184 556 181 555 179 555 176 554 173 554 171 554 168 553 165 553 163 553Z" fill="#dc0000" stroke="#dc0000"/>
<path d="M185 559 188 561 192 561 189 558Z" fill="#d20a00" stroke="#d20a00"/>
<path d="M188 561 190 564 195 567 192 561Z" fill="#c81400" stroke="#c81400"/>
<path d="M190 564 193 574 198 581 195 567Z" fill="#c83c00" stroke="#c83c00"/>
<path d="M193 574 196 593 201 599 198 581Z" fill="#dc8200" stroke="#dc8200"/>
<path d="M196 593 199 607 203 595 201 599Z" fill="#dcaa00" stroke="#dcaa00"/>
<path d="M199 607 202 598 206 583 203 595Z" fill="#fab400" stroke="#fab400"/>
<path d="M202 598 205 586 209 576 206 583Z" fill="#f08200" stroke="#f08200"/>
<path d="M205 586 207 577 212 576 209 576Z" fill="#f06400" stroke="#f06400"/>
<path d="M207 577 210 578 212 578 213 579 214 579 215 579 216 579 218 579 219 579 220 579 222 579 227 577 225 577 224 577 222 578 221 578 220 578 219 578 218 578 217 577 216 577 215 577 212 576Z" fill="#f05a00" stroke="#f05a00"/>
<path d="M222 579 225 579 228 579 231 579 236 577 233 577 230 577 227 577Z" fill="#f05000" stroke="#f05000"/>
<path d="M231 579 234 579 238 579 241 579 242 579 243 579 244 579 245 579 246 579 247 579 252 577 251 577 250 577 249 577 248 577 247 576 245 576 242 576 239 577 236 577Z" fill="#f04600" stroke="#f04600"/>
<path d="M247 579 249 579 250 579 251 579 253 579 257 579 260 579 263 580 267 580 270 580 273 581 278 579 274 579 271 579 268 578 264 578 261 577 258 577 257 577 256 577 255 577 254 577 253 577 252 577Z" fill="#f03c00" stroke="#f03c00"/>
<path d="M153 554 156 555 159 555 161 555 164 556 166 556 169 556 172 557 175 557 177 558 180 559 183 561 188 561 185 559 182 558 179 557 177 556 174 556 171 555 169 555 166 554 163 554 161 554 158 553Z" fill="#dc0000" stroke="#dc0000"/>
<path d="M183 561 186 563 190 564 188 561Z" fill="#d20a00" stroke="#d20a00"/>
<path d="M186 563 188 569 193 574 190 564Z" fill="#c81e00" stroke="#c81e00"/>
<path d="M188 569 191 582 196 593 193 574Z" fill="#d25a00" stroke="#d25a00"/>
<path d="M191 582 194 604 199 607 196 593Z" fill="#dca000" stroke="#dca000"/>
<path d="M194 604 197 613 202 598 199 607Z" fill="#d2b400" stroke="#d2b400"/>
<path d="M197 613 200 602 205 586 202 598Z" fill="#f0be00" stroke="#f0be00"/>
<path d="M200 602 203 588 207 577 205 586Z" fill="#f08c00" stroke="#f08c00"/>
<path d="M203 588 206 580 210 578 207 577Z" fill="#f06400" stroke="#f06400"/>
<path d="M206 580 207 579 212 578 210 578Z" fill="#f05a00" stroke="#f05a00"/>
<path d="M207 579 208 580 213 579 212 578Z" fill="#e65000" stroke="#e65000"/>
<path d="M208 580 209 580 209 581 211 581 212 581 213 580 214 580 215 580 216 580 218 581 221 581 224 581 228 579 225 579 222 579 220 579 219 579 218 579 216 579 215 579 214 579 213 579Z" fill="#f05a00" stroke="#f05a00"/>
<path d="M224 581 227 581 230 581 233 581 236 581 241 579 238 579 234 579 231 579 228 579Z" fill="#f05000" stroke="#f05000"/>
<path d="M236 581 237 581 239 581 240 581 241 581 242 581 243 581 244 581 245 581 246 581 247 581 248 581 249 581 252 581 257 579 253 579 251 579 250 579 249 579 247 579 246 579 245 579 244 579 243 579 242 579 241 579Z" fill="#f04600" stroke="#f04600"/>
<path d="M252 581 255 581 259 582 262 582 265 582 269 582 273 581 270 580 267 580 263 580 260 579 257 579Z" fill="#f03c00" stroke="#f03c00"/>
<path d="M148 555 151 555 154 556 156 556 159 556 162 557 164 557 167 558 170 558 172 559 175 560 178 561 183 561 180 559 177 558 175 557 172 557 169 556 166 556 164 556 161 555 159 555 156 555 153 554Z" fill="#dc0000" stroke="#dc0000"/>
<path d="M178 561 181 563 186 563 183 561Z" fill="#dc0a00" stroke="#dc0a00"/>
<path d="M181 563 184 566 188 569 186 563Z" fill="#c81400" stroke="#c81400"/>
<path d="M184 566 187 574 191 582 188 569Z" fill="#c83200" stroke="#c83200"/>
<path d="M187 574 189 591 194 604 191 582Z" fill="#dc7800" stroke="#dc7800"/>
<path d="M189 591 192 613 197 613 194 604Z" fill="#dcb400" stroke="#dcb400"/>
<path d="M192 613 195 619 200 602 197 613Z" fill="#d2be00" stroke="#d2be00"/>
<path d="M195 619 198 606 203 588 200 602Z" fill="#f0be00" stroke="#f0be00"/>
<path d="M198 606 201 592 206 580 203 588Z" fill="#f09600" stroke="#f09600"/>
<path d="M201 592 202 589 207 579 206 580Z" fill="#f07800" stroke="#f07800"/>
<path d="M202 589 203 586 204 586 205 585 209 581 209 580 208 580 207 579Z" fill="#fa6e00" stroke="#fa6e00"/>
<path d="M205 585 206 583 211 581 209 581Z" fill="#fa6400" stroke="#fa6400"/>
<path d="M206 583 207 582 212 581 211 581Z" fill="#f06400" stroke="#f06400"/>
<path d="M207 582 208 582 210 581 211 581 213 582 216 582 219 583 222 583 225 583 230 581 227 581 224 581 221 581 218 581 216 580 215 580 214 580 213 580 212 581Z" fill="#f05a00" stroke="#f05a00"/>
<path d="M225 583 228 583 231 583 233 583 234 583 235 583 235 584 237 584 238 584 240 584 241 584 246 581 245 581 244 581 243 581 242 581 241 581 240 581 239 581 237 581 236 581 233 581 230 581Z" fill="#f05000" stroke="#f05000"/>
<path d="M241 584 242 584 244 584 248 584 251 584 254 584 258 584 261 584 265 582 262 582 259 582 255 581 252 581 249 581 248 581 247 581 246 581Z" fill="#f04600" stroke="#f04600"/>
<path d="M261 584 264 585 269 582 265 582Z" fill="#f03c00" stroke="#f03c00"/>
<path d="M143 556 146 556 149 557 151 557 154 557 157 558 159 558 162 559 165 559 168 560 170 560 173 561 176 563 181 563 178 561 175 560 172 559 170 558 167 558 164 557 162 557 159 556 156 556 154 556 151 555 148 555Z" fill="#dc0000" stroke="#dc0000"/>
<path d="M176 563 179 565 184 566 181 563Z" fill="#d20a00" stroke="#d20a00"/>
<path d="M179 565 182 570 187 574 184 566Z" fill="#c81e00" stroke="#c81e00"/>
<path d="M182 570 185 580 189 591 187 574Z" fill="#d25000" stroke="#d25000"/>
<path d="M185 580 187 597 192 613 189 591Z" fill="#dc9600" stroke="#dc9600"/>
<path d="M187 597 190 618 195 619 192 613Z" fill="#dcc800" stroke="#dcc800"/>
<path d="M190 618 193 624 198 606 195 619Z" fill="#b4be00" stroke="#b4be00"/>
<path d="M193 624 196 612 201 592 198 606Z" fill="#f0c800" stroke="#f0c800"/>
<path d="M196 612 197 607 202 589 201 592Z" fill="#fab400" stroke="#fab400"/>
<path d="M197 607 199 604 203 586 202 589Z" fill="#faa000" stroke="#faa000"/>
<path d="M199 604 199 603 200 601 205 585 204 586 203 586Z" fill="#fa9600" stroke="#fa9600"/>
<path d="M200 601 201 597 206 583 205 585Z" fill="#fa8c00" stroke="#fa8c00"/>
<path d="M201 597 202 594 207 582 206 583Z" fill="#f08200" stroke="#f08200"/>
<path d="M202 594 202 593 204 590 208 582 207 582Z" fill="#f07800" stroke="#f07800"/>
<path d="M204 590 205 587 210 581 208 582Z" fill="#f06e00" stroke="#f06e00"/>
<path d="M205 587 206 586 208 584 213 582 211 581 210 581Z" fill="#fa6400" stroke="#fa6400"/>
<path d="M208 584 211 583 216 582 213 582Z" fill="#fa5a00" stroke="#fa5a00"/>
<path d="M211 583 214 584 217 584 220 585 224 585 227 585 228 585 229 586 234 583 233 583 231 583 228 583 225 583 222 583 219 583 216 582Z" fill="#f05a00" stroke="#f05a00"/>
<path d="M229 586 230 586 231 586 232 586 237 584 235 584 235 583 234 583Z" fill="#f05000" stroke="#f05000"/>
<path d="M232 586 233 586 238 584 237 584Z" fill="#f05a00" stroke="#f05a00"/>
<path d="M233 586 235 586 236 586 238 586 239 586 240 586 243 586 246 586 250 587 254 584 251 584 248 584 244 584 242 584 241 584 240 584 238 584Z" fill="#f05000" stroke="#f05000"/>
<path d="M250 587 253 587 256 587 260 587 264 585 261 584 258 584 254 584Z" fill="#f04600" stroke="#f04600"/>
<path d="M139 557 142 557 144 557 147 558 150 558 152 558 155 559 158 559 160 560 163 560 166 561 169 562 172 563 176 563 173 561 170 560 168 560 165 559 162 559 159 558 157 558 154 557 151 557 149 557 146 556 143 556Z" fill="#dc0000" stroke="#dc0000"/>
<path d="M172 563 174 565 179 565 176 563Z" fill="#dc0a00" stroke="#dc0a00"/>
<path d="M174 565 177 568 182 570 179 565Z" fill="#d20a00" stroke="#d20a00"/>
<path d="M177 568 180 574 185 580 182 570Z" fill="#c82800" stroke="#c82800"/>
<path d="M180 574 183 585 187 597 185 580Z" fill="#d26400" stroke="#d26400"/>
<path d="M183 585 186 602 190 618 187 597Z" fill="#dca000" stroke="#dca000"/>
<path d="M186 602 189 621 193 624 190 618Z" fill="#d2c800" stroke="#d2c800"/>
<path d="M189 621 192 629 196 612 193 624Z" fill="#96b400" stroke="#96b400"/>
<path d="M192 629 193 630 197 607 196 612Z" fill="#c8d200" stroke="#c8d200"/>
<path d="M193 630 194 630 199 604 197 607Z" fill="#dcdc00" stroke="#dcdc00"/>
<path d="M194 630 195 630 196 628 200 601 199 603 199 604Z" fill="#f0dc00" stroke="#f0dc00"/>
<path d="M196 628 197 621 201 597 200 601Z" fill="#f0c800" stroke="#f0c800"/>
<path d="M197 621 198 614 202 594 201 597Z" fill="#f0be00" stroke="#f0be00"/>
<path d="M198 614 198 612 202 593 202 594Z" fill="#f0b400" stroke="#f0b400"/>
<path d="M198 612 199 605 204 590 202 593Z" fill="#f0aa00" stroke="#f0aa00"/>
<path d="M199 605 201 600 205 587 204 590Z" fill="#f09600" stroke="#f09600"/>
<path d="M201 600 202 598 206 586 205 587Z" fill="#fa8c00" stroke="#fa8c00"/>
<path d="M202 598 204 594 208 584 206 586Z" fill="#fa8200" stroke="#fa8200"/>
<path d="M204 594 207 590 211 583 208 584Z" fill="#fa6e00" stroke="#fa6e00"/>
<path d="M207 590 210 587 214 584 211 583Z" fill="#fa6400" stroke="#fa6400"/>
<path d="M210 587 213 585 217 584 214 584Z" fill="#fa5a00" stroke="#fa5a00"/>
<path d="M213 585 216 586 219 586 222 587 224 587 225 587 226 587 227 588 228 588 229 588 231 588 232 588 233 588 235 588 240 586 239 586 238 586 236 586 235 586 233 586 232 586 231 586 230 586 229 586 228 585 227 585 224 585 220 585 217 584Z" fill="#f05a00" stroke="#f05a00"/>
<path d="M235 588 239 588 242 589 245 589 249 589 252 589 255 590 260 587 256 587 253 587 250 587 246 586 243 586 240 586Z" fill="#f05000" stroke="#f05000"/>
<path d="M138 557 141 557 144 557 146 558 149 558 152 559 154 559 157 559 160 560 163 560 165 561 168 562 171 563 172 563 169 562 166 561 163 560 160 560 158 559 155 559 152 558 150 558 147 558 144 557 142 557 139 557Z" fill="#dc0000" stroke="#dc0000"/>
<path d="M171 563 174 565 172 563Z" fill="#dc0a00" stroke="#dc0a00"/>
<path d="M174 565 177 568 174 565Z" fill="#d20a00" stroke="#d20a00"/>
<path d="M177 568 180 574 177 568Z" fill="#c81e00" stroke="#c81e00"/>
<path d="M180 574 183 584 183 585 180 574Z" fill="#d24600" stroke="#d24600"/>
<path d="M183 584 185 600 186 602 183 585Z" fill="#dc8200" stroke="#dc8200"/>
<path d="M185 600 188 619 189 621 186 602Z" fill="#dcbe00" stroke="#dcbe00"/>
<path d="M188 619 191 629 192 629 189 621Z" fill="#8cbe00" stroke="#8cbe00"/>
<path d="M191 629 193 633 193 630 192 629Z" fill="#50aa00" stroke="#50aa00"/>
<path d="M193 633 194 635 194 634 195 630 194 630 193 630Z" fill="#46b400" stroke="#46b400"/>
<path d="M194 634 195 632 196 628 195 630Z" fill="#50be00" stroke="#50be00"/>
<path d="M195 632 196 625 197 621 196 628Z" fill="#8cc800" stroke="#8cc800"/>
<path d="M196 625 197 617 198 614 197 621Z" fill="#dcd200" stroke="#dcd200"/>
<path d="M197 617 197 615 198 612 198 614Z" fill="#f0d200" stroke="#f0d200"/>
<path d="M197 615 199 608 199 605 198 612Z" fill="#f0c800" stroke="#f0c800"/>
<path d="M199 608 200 603 201 600 199 605Z" fill="#fab400" stroke="#fab400"/>
<path d="M200 603 200 602 201 600Z" fill="#faaa00" stroke="#faaa00"/>
<path d="M200 602 201 599 202 598 201 600Z" fill="#faa000" stroke="#faa000"/>
<path d="M201 599 203 596 204 594 202 598Z" fill="#fa9600" stroke="#fa9600"/>
<path d="M203 596 206 592 207 590 204 594Z" fill="#fa8200" stroke="#fa8200"/>
<path d="M206 592 209 588 210 587 207 590Z" fill="#fa6e00" stroke="#fa6e00"/>
<path d="M209 588 212 585 213 585 210 587Z" fill="#fa6400" stroke="#fa6400"/>
<path d="M212 585 216 586 219 586 222 587 223 587 225 587 226 588 227 588 228 588 229 588 230 588 231 588 232 588 233 588 234 588 235 588 238 589 241 589 242 589 239 588 235 588 233 588 232 588 231 588 229 588 228 588 227 588 226 587 225 587 224 587 222 587 219 586 216 586 213 585Z" fill="#f05a00" stroke="#f05a00"/>
<path d="M241 589 245 589 248 589 252 590 255 590 252 589 249 589 245 589 242 589Z" fill="#f05000" stroke="#f05000"/>
<path d="M137 557 140 557 142 558 145 558 148 558 150 559 153 559 156 560 158 560 161 561 164 561 167 562 169 563 172 565 174 565 171 563 168 562 165 561 163 560 160 560 157 559 154 559 152 559 149 558 146 558 144 557 141 557 138 557Z" fill="#dc0000" stroke="#dc0000"/>
<path d="M172 565 175 568 177 568 174 565Z" fill="#d20a00" stroke="#d20a00"/>
<path d="M175 568 178 573 180 574 177 568Z" fill="#c81e00" stroke="#c81e00"/>
<path d="M178 573 181 581 183 584 180 574Z" fill="#c83c00" stroke="#c83c00"/>
<path d="M181 581 184 595 185 600 183 584Z" fill="#dc7800" stroke="#dc7800"/>
<path d="M184 595 187 613 188 619 185 600Z" fill="#dcb400" stroke="#dcb400"/>
<path d="M187 613 190 628 191 629 188 619Z" fill="#aabe00" stroke="#aabe00"/>
<path d="M190 628 191 636 193 633 191 629Z" fill="#46aa00" stroke="#46aa00"/>
<path d="M191 636 192 647 194 635 193 633Z" fill="#28960a" stroke="#28960a"/>
<path d="M192 647 193 648 194 634 194 635Z" fill="#1e961e" stroke="#1e961e"/>
<path d="M193 648 194 648 195 632 194 634Z" fill="#1ea01e" stroke="#1ea01e"/>
<path d="M194 648 195 638 196 625 195 632Z" fill="#32b40a" stroke="#32b40a"/>
<path d="M195 638 196 628 197 617 196 625Z" fill="#82c800" stroke="#82c800"/>
<path d="M196 628 196 625 197 615 197 617Z" fill="#c8d200" stroke="#c8d200"/>
<path d="M196 625 197 615 199 608 197 615Z" fill="#f0d200" stroke="#f0d200"/>
<path d="M197 615 199 609 200 603 199 608Z" fill="#f0be00" stroke="#f0be00"/>
<path d="M199 609 199 608 200 605 201 599 200 602 200 603Z" fill="#fab400" stroke="#fab400"/>
<path d="M200 605 202 601 203 596 201 599Z" fill="#faa000" stroke="#faa000"/>
<path d="M202 601 205 595 206 592 203 596Z" fill="#fa9600" stroke="#fa9600"/>
<path d="M205 595 208 591 209 588 206 592Z" fill="#fa7800" stroke="#fa7800"/>
<path d="M208 591 211 588 212 585 209 588Z" fill="#fa6e00" stroke="#fa6e00"/>
<path d="M211 588 214 586 216 586 212 585Z" fill="#fa5a00" stroke="#fa5a00"/>
<path d="M214 586 217 587 220 587 222 587 223 588 224 588 225 588 226 589 227 589 229 589 230 589 231 589 233 589 237 589 240 590 243 590 245 589 241 589 238 589 235 588 234 588 233 588 232 588 231 588 230 588 229 588 228 588 227 588 226 588 225 587 223 587 222 587 219 586 216 586Z" fill="#f05a00" stroke="#f05a00"/>
<path d="M243 590 247 590 250 590 254 591 255 590 252 590 248 589 245 589Z" fill="#f05000" stroke="#f05000"/>
<path d="M135 557 137 558 140 558 143 558 145 559 148 559 151 560 154 560 156 561 159 561 162 562 165 562 167 563 170 565 172 565 169 563 167 562 164 561 161 561 158 560 156 560 153 559 150 559 148 558 145 558 142 558 140 557 137 557Z" fill="#dc0000" stroke="#dc0000"/>
<path d="M170 565 173 567 175 568 172 565Z" fill="#d20a00" stroke="#d20a00"/>
<path d="M173 567 176 571 178 573 175 568Z" fill="#c81400" stroke="#c81400"/>
<path d="M176 571 179 578 181 581 178 573Z" fill="#c83200" stroke="#c83200"/>
<path d="M179 578 182 589 184 595 181 581Z" fill="#d26400" stroke="#d26400"/>
<path d="M182 589 185 604 187 613 184 595Z" fill="#dca000" stroke="#dca000"/>
<path d="M185 604 188 621 190 628 187 613Z" fill="#dcc800" stroke="#dcc800"/>
<path d="M188 621 189 631 191 636 190 628Z" fill="#64b400" stroke="#64b400"/>
<path d="M189 631 190 651 192 647 191 636Z" fill="#1e961e" stroke="#1e961e"/>
<path d="M190 651 191 661 193 648 192 647Z" fill="#007846" stroke="#007846"/>
<path d="M191 661 192 671 194 648 193 648Z" fill="#006464" stroke="#006464"/>
<path d="M192 671 193 664 195 638 194 648Z" fill="#007864" stroke="#007864"/>
<path d="M193 664 194 647 196 628 195 638Z" fill="#149628" stroke="#149628"/>
<path d="M194 647 194 643 196 625 196 628Z" fill="#32aa00" stroke="#32aa00"/>
<path d="M194 643 195 627 197 615 196 625Z" fill="#8cbe00" stroke="#8cbe00"/>
<path d="M195 627 197 618 199 609 197 615Z" fill="#f0d200" stroke="#f0d200"/>
<path d="M197 618 197 617 198 613 200 605 199 608 199 609Z" fill="#f0c800" stroke="#f0c800"/>
<path d="M198 613 200 608 202 601 200 605Z" fill="#fabe00" stroke="#fabe00"/>
<path d="M200 608 203 602 205 595 202 601Z" fill="#faaa00" stroke="#faaa00"/>
<path d="M203 602 206 596 208 591 205 595Z" fill="#fa8c00" stroke="#fa8c00"/>
<path d="M206 596 209 592 211 588 208 591Z" fill="#fa7800" stroke="#fa7800"/>
<path d="M209 592 212 589 214 586 211 588Z" fill="#fa6400" stroke="#fa6400"/>
<path d="M212 589 215 587 217 587 214 586Z" fill="#fa5a00" stroke="#fa5a00"/>
<path d="M215 587 218 588 220 588 221 588 222 588 223 589 224 589 225 590 227 590 228 589 229 589 231 589 231 590 235 590 238 590 241 591 245 591 248 591 250 590 247 590 243 590 240 590 237 589 233 589 231 589 230 589 229 589 227 589 226 589 225 588 224 588 223 588 222 587 220 587 217 587Z" fill="#f05a00" stroke="#f05a00"/>
<path d="M248 591 252 592 254 591 250 590Z" fill="#f05000" stroke="#f05000"/>
<path d="M133 558 136 558 139 558 141 559 144 559 147 559 149 560 152 560 155 561 158 561 160 562 163 563 166 563 169 565 170 565 167 563 165 562 162 562 159 561 156 561 154 560 151 560 148 559 145 559 143 558 140 558 137 558 135 557Z" fill="#dc0000" stroke="#dc0000"/>
<path d="M169 565 172 567 173 567 170 565Z" fill="#d20a00" stroke="#d20a00"/>
<path d="M172 567 175 571 176 571 173 567Z" fill="#d21400" stroke="#d21400"/>
<path d="M175 571 177 576 179 578 176 571Z" fill="#c82800" stroke="#c82800"/>
<path d="M177 576 180 585 182 589 179 578Z" fill="#d25000" stroke="#d25000"/>
<path d="M180 585 183 598 185 604 182 589Z" fill="#dc8200" stroke="#dc8200"/>
<path d="M183 598 186 614 188 621 185 604Z" fill="#e6b400" stroke="#e6b400"/>
<path d="M186 614 188 624 189 631 188 621Z" fill="#b4c800" stroke="#b4c800"/>
<path d="M188 624 189 641 190 651 189 631Z" fill="#32a00a" stroke="#32a00a"/>
<path d="M189 641 189 651 191 661 190 651Z" fill="#00823c" stroke="#00823c"/>
<path d="M189 651 190 669 192 671 191 661Z" fill="#005096" stroke="#005096"/>
<path d="M190 669 191 682 193 664 192 671Z" fill="#003caa" stroke="#003caa"/>
<path d="M191 682 192 666 194 647 193 664Z" fill="#0050aa" stroke="#0050aa"/>
<path d="M192 666 193 660 194 643 194 647Z" fill="#008250" stroke="#008250"/>
<path d="M193 660 194 637 195 627 194 643Z" fill="#1ea014" stroke="#1ea014"/>
<path d="M194 637 195 625 197 618 195 627Z" fill="#a0c800" stroke="#a0c800"/>
<path d="M195 625 195 624 197 617 197 618Z" fill="#dcdc00" stroke="#dcdc00"/>
<path d="M195 624 196 620 198 613 197 617Z" fill="#f0dc00" stroke="#f0dc00"/>
<path d="M196 620 198 614 200 608 198 613Z" fill="#fad200" stroke="#fad200"/>
<path d="M198 614 201 607 203 602 200 608Z" fill="#fabe00" stroke="#fabe00"/>
<path d="M201 607 204 601 206 596 203 602Z" fill="#faa000" stroke="#faa000"/>
<path d="M204 601 208 596 209 592 206 596Z" fill="#fa8c00" stroke="#fa8c00"/>
<path d="M208 596 211 592 212 589 209 592Z" fill="#fa7800" stroke="#fa7800"/>
<path d="M211 592 214 590 215 587 212 589Z" fill="#fa6400" stroke="#fa6400"/>
<path d="M214 590 217 588 218 588 215 587Z" fill="#fa5a00" stroke="#fa5a00"/>
<path d="M217 588 218 588 220 589 221 589 222 590 223 590 224 590 225 590 227 590 228 590 229 590 230 590 233 590 237 591 240 591 243 592 247 592 250 592 252 592 248 591 245 591 241 591 238 590 235 590 231 590 231 589 229 589 228 589 227 590 225 590 224 589 223 589 222 588 221 588 220 588 218 588Z" fill="#f05a00" stroke="#f05a00"/>
<path d="M133 558 135 558 138 558 141 559 143 559 146 560 149 560 151 560 154 561 157 561 160 562 163 563 165 563 168 565 169 565 166 563 163 563 160 562 158 561 155 561 152 560 149 560 147 559 144 559 141 559 139 558 136 558 133 558Z" fill="#dc0000" stroke="#dc0000"/>
<path d="M168 565 171 567 174 570 175 571 172 567 169 565Z" fill="#d20a00" stroke="#d20a00"/>
<path d="M174 570 177 576 175 571Z" fill="#c81e00" stroke="#c81e00"/>
<path d="M177 576 180 584 180 585 177 576Z" fill="#c84600" stroke="#c84600"/>
<path d="M180 584 183 596 183 598 180 585Z" fill="#dc7800" stroke="#dc7800"/>
<path d="M183 596 186 612 186 614 183 598Z" fill="#e6aa00" stroke="#e6aa00"/>
<path d="M186 612 187 621 188 624 186 614Z" fill="#dcc800" stroke="#dcc800"/>
<path d="M187 621 188 636 189 641 188 624Z" fill="#64b400" stroke="#64b400"/>
<path d="M188 636 189 646 189 651 189 641Z" fill="#14961e" stroke="#14961e"/>
<path d="M189 646 190 663 190 669 189 651Z" fill="#006e6e" stroke="#006e6e"/>
<path d="M190 663 191 682 192 672 192 666 191 682 190 669Z" fill="#0032b4" stroke="#0032b4"/>
<path d="M192 672 192 666 193 660 192 666Z" fill="#0050aa" stroke="#0050aa"/>
<path d="M192 666 193 641 194 637 193 660Z" fill="#008c32" stroke="#008c32"/>
<path d="M193 641 195 628 195 625 194 637Z" fill="#5abe00" stroke="#5abe00"/>
<path d="M195 628 195 626 195 624 195 625Z" fill="#aac800" stroke="#aac800"/>
<path d="M195 626 196 622 196 620 195 624Z" fill="#d2d200" stroke="#d2d200"/>
<path d="M196 622 198 617 198 614 196 620Z" fill="#f0dc00" stroke="#f0dc00"/>
<path d="M198 617 201 609 201 607 198 614Z" fill="#fac800" stroke="#fac800"/>
<path d="M201 609 204 603 204 601 201 607Z" fill="#fab400" stroke="#fab400"/>
<path d="M204 603 207 598 208 596 204 601Z" fill="#fa9600" stroke="#fa9600"/>
<path d="M207 598 210 594 211 592 208 596Z" fill="#fa8200" stroke="#fa8200"/>
<path d="M210 594 213 591 214 590 211 592Z" fill="#fa6e00" stroke="#fa6e00"/>
<path d="M213 591 216 588 217 588 214 590Z" fill="#fa6400" stroke="#fa6400"/>
<path d="M216 588 218 588 217 588Z" fill="#fa5a00" stroke="#fa5a00"/>
<path d="M218 588 219 589 220 589 221 589 222 590 223 590 225 590 226 590 227 590 229 590 233 591 236 591 239 591 243 592 246 592 250 593 250 592 247 592 243 592 240 591 237 591 233 590 230 590 229 590 228 590 227 590 225 590 224 590 223 590 222 590 221 589 220 589 218 588Z" fill="#f05a00" stroke="#f05a00"/>
<path d="M131 558 133 558 136 559 139 559 141 560 144 560 147 560 149 561 152 561 155 562 158 562 160 563 163 564 166 565 168 565 165 563 163 563 160 562 157 561 154 561 151 560 149 560 146 560 143 559 141 559 138 558 135 558 133 558Z" fill="#dc0000" stroke="#dc0000"/>
<path d="M166 565 169 567 171 567 168 565Z" fill="#dc0a00" stroke="#dc0a00"/>
<path d="M169 567 172 570 174 570 171 567Z" fill="#d20a00" stroke="#d20a00"/>
<path d="M172 570 175 574 177 576 174 570Z" fill="#c81e00" stroke="#c81e00"/>
<path d="M175 574 178 581 180 584 177 576Z" fill="#c83c00" stroke="#c83c00"/>
<path d="M178 581 181 590 183 596 180 584Z" fill="#d26400" stroke="#d26400"/>
<path d="M181 590 184 603 186 612 183 596Z" fill="#dc9600" stroke="#dc9600"/>
<path d="M184 603 185 610 187 621 186 612Z" fill="#e6be00" stroke="#e6be00"/>
<path d="M185 610 186 622 188 636 187 621Z" fill="#bec800" stroke="#bec800"/>
<path d="M186 622 187 628 189 646 188 636Z" fill="#50b400" stroke="#50b400"/>
<path d="M187 628 188 639 190 663 189 646Z" fill="#1e961e" stroke="#1e961e"/>
<path d="M188 639 189 658 191 682 190 663Z" fill="#006482" stroke="#006482"/>
<path d="M189 658 190 665 192 672 191 682Z" fill="#0046b4" stroke="#0046b4"/>
<path d="M190 665 190 664 192 666 192 672Z" fill="#0046a0" stroke="#0046a0"/>
<path d="M190 664 191 651 193 641 192 666Z" fill="#007850" stroke="#007850"/>
<path d="M191 651 193 636 195 628 193 641Z" fill="#32aa0a" stroke="#32aa0a"/>
<path d="M193 636 193 635 195 626 195 628Z" fill="#6ebe00" stroke="#6ebe00"/>
<path d="M193 635 194 630 196 622 195 626Z" fill="#96c800" stroke="#96c800"/>
<path d="M194 630 196 625 198 617 196 622Z" fill="#d2dc00" stroke="#d2dc00"/>
<path d="M196 625 199 618 201 609 198 617Z" fill="#fad200" stroke="#fad200"/>
<path d="M199 618 202 611 204 603 201 609Z" fill="#fabe00" stroke="#fabe00"/>
<path d="M202 611 205 605 207 598 204 603Z" fill="#faaa00" stroke="#faaa00"/>
<path d="M205 605 208 600 210 594 207 598Z" fill="#fa9600" stroke="#fa9600"/>
<path d="M208 600 211 596 213 591 210 594Z" fill="#fa8200" stroke="#fa8200"/>
<path d="M211 596 214 593 216 588 213 591Z" fill="#fa6e00" stroke="#fa6e00"/>
<path d="M214 593 216 592 217 591 218 591 219 591 220 591 222 590 221 589 220 589 219 589 218 588 216 588Z" fill="#fa6400" stroke="#fa6400"/>
<path d="M220 591 221 591 223 590 222 590Z" fill="#f05a00" stroke="#f05a00"/>
<path d="M221 591 223 590Z" fill="#f06400" stroke="#f06400"/>
<path d="M221 591 223 591 225 590 223 590Z" fill="#fa6400" stroke="#fa6400"/>
<path d="M223 591 224 591 226 590 225 590Z" fill="#fa5a00" stroke="#fa5a00"/>
<path d="M224 591 225 591 227 591 231 591 234 592 237 592 241 593 244 593 248 594 250 593 246 592 243 592 239 591 236 591 233 591 229 590 227 590 226 590Z" fill="#f05a00" stroke="#f05a00"/>
<path d="M129 558 131 559 134 559 136 560 139 560 142 560 145 561 147 561 150 562 153 562 156 563 158 563 161 564 164 565 166 565 163 564 160 563 158 562 155 562 152 561 149 561 147 560 144 560 141 560 139 559 136 559 133 558 131 558Z" fill="#dc0000" stroke="#dc0000"/>
<path d="M164 565 167 567 169 567 166 565Z" fill="#dc0a00" stroke="#dc0a00"/>
<path d="M167 567 170 569 172 570 169 567Z" fill="#d20a00" stroke="#d20a00"/>
<path d="M170 569 173 573 175 574 172 570Z" fill="#d21400" stroke="#d21400"/>
<path d="M173 573 176 578 178 581 175 574Z" fill="#c82800" stroke="#c82800"/>
<path d="M176 578 179 585 181 590 178 581Z" fill="#d24600" stroke="#d24600"/>
<path d="M179 585 182 595 184 603 181 590Z" fill="#dc7800" stroke="#dc7800"/>
<path d="M182 595 183 601 185 610 184 603Z" fill="#e6a000" stroke="#e6a000"/>
<path d="M183 601 184 610 186 622 185 610Z" fill="#e6b400" stroke="#e6b400"/>
<path d="M184 610 185 614 187 628 186 622Z" fill="#e6c800" stroke="#e6c800"/>
<path d="M185 614 185 621 188 639 187 628Z" fill="#aac800" stroke="#aac800"/>
<path d="M185 621 187 634 189 658 188 639Z" fill="#32aa0a" stroke="#32aa0a"/>
<path d="M187 634 188 640 190 665 189 658Z" fill="#0a9628" stroke="#0a9628"/>
<path d="M188 640 188 641 190 664 190 665Z" fill="#008c3c" stroke="#008c3c"/>
<path d="M188 641 189 641 191 651 190 664Z" fill="#0a8c28" stroke="#0a8c28"/>
<path d="M189 641 190 637 193 636 191 651Z" fill="#28960a" stroke="#28960a"/>
<path d="M190 637 191 636 193 635 193 636Z" fill="#46b400" stroke="#46b400"/>
<path d="M191 636 192 634 194 630 193 635Z" fill="#64be00" stroke="#64be00"/>
<path d="M192 634 194 631 196 625 194 630Z" fill="#96d200" stroke="#96d200"/>
<path d="M194 631 197 626 199 618 196 625Z" fill="#d2dc00" stroke="#d2dc00"/>
<path d="M197 626 200 620 202 611 199 618Z" fill="#fad200" stroke="#fad200"/>
<path d="M200 620 203 613 205 605 202 611Z" fill="#fabe00" stroke="#fabe00"/>
<path d="M203 613 206 607 208 600 205 605Z" fill="#faaa00" stroke="#faaa00"/>
<path d="M206 607 209 602 211 596 208 600Z" fill="#fa9600" stroke="#fa9600"/>
<path d="M209 602 212 598 214 593 211 596Z" fill="#fa8200" stroke="#fa8200"/>
<path d="M212 598 214 597 215 596 217 591 216 592 214 593Z" fill="#fa7800" stroke="#fa7800"/>
<path d="M215 596 216 596 218 595 219 595 221 591 220 591 219 591 218 591 217 591Z" fill="#fa6e00" stroke="#fa6e00"/>
<path d="M219 595 221 593 222 592 224 591 223 591 221 591Z" fill="#fa6400" stroke="#fa6400"/>
<path d="M222 592 223 591 225 591 224 591Z" fill="#fa5a00" stroke="#fa5a00"/>
<path d="M223 591 225 591 229 592 232 592 235 593 239 593 242 594 246 594 248 594 244 593 241 593 237 592 234 592 231 591 227 591 225 591Z" fill="#f05a00" stroke="#f05a00"/>
<path d="M128 559 131 559 133 559 136 560 139 560 141 560 144 561 147 561 150 562 152 562 155 563 158 563 161 564 164 565 166 567 167 567 164 565 161 564 158 563 156 563 153 562 150 562 147 561 145 561 142 560 139 560 136 560 134 559 131 559 129 558Z" fill="#dc0000" stroke="#dc0000"/>
<path d="M166 567 169 569 170 569 167 567Z" fill="#d20a00" stroke="#d20a00"/>
<path d="M169 569 172 573 173 573 170 569Z" fill="#d21400" stroke="#d21400"/>
<path d="M172 573 175 578 176 578 173 573Z" fill="#c82800" stroke="#c82800"/>
<path d="M175 578 178 584 179 585 176 578Z" fill="#c83c00" stroke="#c83c00"/>
<path d="M178 584 181 594 182 595 179 585Z" fill="#dc6400" stroke="#dc6400"/>
<path d="M181 594 183 600 183 601 182 595Z" fill="#dc8200" stroke="#dc8200"/>
<path d="M183 600 184 608 184 610 183 601Z" fill="#e6a000" stroke="#e6a000"/>
<path d="M184 608 184 612 185 614 184 610Z" fill="#e6b400" stroke="#e6b400"/>
<path d="M184 612 185 619 185 621 185 614Z" fill="#e6c800" stroke="#e6c800"/>
<path d="M185 619 186 630 187 634 185 621Z" fill="#aac800" stroke="#aac800"/>
<path d="M186 630 187 637 188 640 187 634Z" fill="#46b400" stroke="#46b400"/>
<path d="M187 637 188 638 189 638 189 641 188 641 188 640Z" fill="#32aa0a" stroke="#32aa0a"/>
<path d="M189 638 190 636 190 637 189 641Z" fill="#32a000" stroke="#32a000"/>
<path d="M190 636 190 635 191 636 190 637Z" fill="#46a000" stroke="#46a000"/>
<path d="M190 635 191 634 192 634 191 636Z" fill="#50aa00" stroke="#50aa00"/>
<path d="M191 634 193 632 194 631 192 634Z" fill="#78be00" stroke="#78be00"/>
<path d="M193 632 196 628 197 626 194 631Z" fill="#aad200" stroke="#aad200"/>
<path d="M196 628 199 621 200 620 197 626Z" fill="#f0dc00" stroke="#f0dc00"/>
<path d="M199 621 203 614 203 613 200 620Z" fill="#fad200" stroke="#fad200"/>
<path d="M203 614 206 608 206 607 203 613Z" fill="#fabe00" stroke="#fabe00"/>
<path d="M206 608 209 603 209 602 206 607Z" fill="#faaa00" stroke="#faaa00"/>
<path d="M209 603 212 599 212 598 209 602Z" fill="#fa9600" stroke="#fa9600"/>
<path d="M212 599 213 598 215 597 216 596 215 596 214 597 212 598Z" fill="#fa8200" stroke="#fa8200"/>
<path d="M215 597 216 597 217 596 218 596 219 596 219 595 218 595 216 596Z" fill="#fa7800" stroke="#fa7800"/>
<path d="M219 596 220 594 221 593 219 595Z" fill="#fa6e00" stroke="#fa6e00"/>
<path d="M220 594 222 593 223 592 223 591 222 592 221 593Z" fill="#fa6400" stroke="#fa6400"/>
<path d="M223 592 224 591 225 591 223 591Z" fill="#fa5a00" stroke="#fa5a00"/>
<path d="M224 591 225 591 228 592 232 592 235 593 238 593 242 594 245 594 246 594 242 594 239 593 235 593 232 592 229 592 225 591Z" fill="#f05a00" stroke="#f05a00"/>
<path d="M126 559 129 559 132 560 134 560 137 560 140 561 142 561 145 562 148 562 151 562 153 563 156 564 159 564 162 565 165 567 166 567 164 565 161 564 158 563 155 563 152 562 150 562 147 561 144 561 141 560 139 560 136 560 133 559 131 559 128 559Z" fill="#dc0000" stroke="#dc0000"/>
<path d="M165 567 168 569 171 572 172 573 169 569 166 567Z" fill="#d20a00" stroke="#d20a00"/>
<path d="M171 572 174 576 175 578 172 573Z" fill="#c81e00" stroke="#c81e00"/>
<path d="M174 576 177 582 178 584 175 578Z" fill="#c83c00" stroke="#c83c00"/>
<path d="M177 582 180 589 181 594 178 584Z" fill="#d25a00" stroke="#d25a00"/>
<path d="M180 589 181 594 183 600 181 594Z" fill="#dc7800" stroke="#dc7800"/>
<path d="M181 594 182 600 184 608 183 600Z" fill="#e68c00" stroke="#e68c00"/>
<path d="M182 600 183 603 184 612 184 608Z" fill="#e6aa00" stroke="#e6aa00"/>
<path d="M183 603 183 609 185 619 184 612Z" fill="#e6b400" stroke="#e6b400"/>
<path d="M183 609 185 618 186 630 185 619Z" fill="#e6c800" stroke="#e6c800"/>
<path d="M185 618 186 623 187 637 186 630Z" fill="#aac800" stroke="#aac800"/>
<path d="M186 623 186 624 188 638 187 637Z" fill="#82be00" stroke="#82be00"/>
<path d="M186 624 187 627 188 629 189 629 190 631 191 634 190 635 190 636 189 638 188 638Z" fill="#6eb400" stroke="#6eb400"/>
<path d="M190 631 192 633 193 632 191 634Z" fill="#6eaa00" stroke="#6eaa00"/>
<path d="M192 633 195 633 196 628 193 632Z" fill="#96d200" stroke="#96d200"/>
<path d="M195 633 198 628 199 621 196 628Z" fill="#c8dc00" stroke="#c8dc00"/>
<path d="M198 628 201 622 203 614 199 621Z" fill="#fadc00" stroke="#fadc00"/>
<path d="M201 622 204 615 206 608 203 614Z" fill="#fac800" stroke="#fac800"/>
<path d="M204 615 207 610 209 603 206 608Z" fill="#fab400" stroke="#fab400"/>
<path d="M207 610 210 605 212 599 209 603Z" fill="#faa000" stroke="#faa000"/>
<path d="M210 605 212 604 213 598 212 599Z" fill="#fa9600" stroke="#fa9600"/>
<path d="M212 604 213 603 214 602 216 597 215 597 213 598Z" fill="#fa8c00" stroke="#fa8c00"/>
<path d="M214 602 216 601 217 601 219 596 218 596 217 596 216 597Z" fill="#fa8200" stroke="#fa8200"/>
<path d="M217 601 218 599 220 597 222 593 220 594 219 596Z" fill="#fa7800" stroke="#fa7800"/>
<path d="M220 597 221 596 223 592 222 593Z" fill="#fa6e00" stroke="#fa6e00"/>
<path d="M221 596 223 595 223 594 227 593 228 592 225 591 224 591 223 592Z" fill="#fa6400" stroke="#fa6400"/>
<path d="M227 593 230 593 232 592 228 592Z" fill="#fa5a00" stroke="#fa5a00"/>
<path d="M230 593 233 593 237 594 240 594 244 595 245 594 242 594 238 593 235 593 232 592Z" fill="#f05a00" stroke="#f05a00"/>
<path d="M124 559 127 560 129 560 132 560 135 561 138 561 140 561 143 562 146 562 148 563 151 563 154 564 157 565 160 565 163 567 165 567 162 565 159 564 156 564 153 563 151 562 148 562 145 562 142 561 140 561 137 560 134 560 132 560 129 559 126 559Z" fill="#dc0000" stroke="#dc0000"/>
<path d="M163 567 166 569 168 569 165 567Z" fill="#dc0a00" stroke="#dc0a00"/>
<path d="M166 569 168 571 171 572 168 569Z" fill="#d20a00" stroke="#d20a00"/>
<path d="M168 571 171 575 174 576 171 572Z" fill="#d21400" stroke="#d21400"/>
<path d="M171 575 174 579 177 582 174 576Z" fill="#c82800" stroke="#c82800"/>
<path d="M174 579 177 585 180 589 177 582Z" fill="#c84600" stroke="#c84600"/>
<path d="M177 585 179 588 181 594 180 589Z" fill="#d25a00" stroke="#d25a00"/>
<path d="M179 588 180 593 182 600 181 594Z" fill="#dc7800" stroke="#dc7800"/>
<path d="M180 593 180 595 183 603 182 600Z" fill="#dc8200" stroke="#dc8200"/>
<path d="M180 595 181 599 183 609 183 603Z" fill="#e69600" stroke="#e69600"/>
<path d="M181 599 182 606 185 618 183 609Z" fill="#e6aa00" stroke="#e6aa00"/>
<path d="M182 606 183 610 186 623 185 618Z" fill="#e6be00" stroke="#e6be00"/>
<path d="M183 610 184 611 185 615 187 627 186 624 186 623Z" fill="#e6c800" stroke="#e6c800"/>
<path d="M185 615 186 619 188 629 187 627Z" fill="#dcd200" stroke="#dcd200"/>
<path d="M186 619 187 620 189 629 188 629Z" fill="#c8c800" stroke="#c8c800"/>
<path d="M187 620 188 623 190 631 189 629Z" fill="#bec800" stroke="#bec800"/>
<path d="M188 623 190 630 192 633 190 631Z" fill="#96be00" stroke="#96be00"/>
<path d="M190 630 193 635 195 633 192 633Z" fill="#78aa00" stroke="#78aa00"/>
<path d="M193 635 196 634 198 628 195 633Z" fill="#96d200" stroke="#96d200"/>
<path d="M196 634 199 630 201 622 198 628Z" fill="#c8dc00" stroke="#c8dc00"/>
<path d="M199 630 202 625 204 615 201 622Z" fill="#fadc00" stroke="#fadc00"/>
<path d="M202 625 205 619 207 610 204 615Z" fill="#fac800" stroke="#fac800"/>
<path d="M205 619 208 614 210 605 207 610Z" fill="#fab400" stroke="#fab400"/>
<path d="M208 614 210 612 211 611 213 603 212 604 210 605Z" fill="#faaa00" stroke="#faaa00"/>
<path d="M211 611 211 610 212 610 214 610 216 601 214 602 213 603Z" fill="#faa000" stroke="#faa000"/>
<path d="M214 610 215 609 215 608 216 606 218 599 217 601 216 601Z" fill="#fa9600" stroke="#fa9600"/>
<path d="M216 606 218 604 220 597 218 599Z" fill="#fa8c00" stroke="#fa8c00"/>
<path d="M218 604 218 603 219 602 221 596 220 597Z" fill="#fa8200" stroke="#fa8200"/>
<path d="M219 602 221 600 223 594 223 595 221 596Z" fill="#fa7800" stroke="#fa7800"/>
<path d="M221 600 225 598 227 593 223 594Z" fill="#fa6e00" stroke="#fa6e00"/>
<path d="M225 598 228 596 231 595 233 593 230 593 227 593Z" fill="#fa6400" stroke="#fa6400"/>
<path d="M231 595 235 594 237 594 233 593Z" fill="#fa5a00" stroke="#fa5a00"/>
<path d="M235 594 238 595 242 595 244 595 240 594 237 594Z" fill="#f05a00" stroke="#f05a00"/>
<path d="M123 559 125 560 128 560 131 561 133 561 136 561 139 562 142 562 144 563 147 563 150 564 153 564 156 565 158 566 161 567 163 567 160 565 157 565 154 564 151 563 148 563 146 562 143 562 140 561 138 561 135 561 132 560 129 560 127 560 124 559Z" fill="#dc0000" stroke="#dc0000"/>
<path d="M161 567 164 569 166 569 163 567Z" fill="#dc0a00" stroke="#dc0a00"/>
<path d="M164 569 167 571 168 571 166 569Z" fill="#d20a00" stroke="#d20a00"/>
<path d="M167 571 170 574 171 575 168 571Z" fill="#d21400" stroke="#d21400"/>
<path d="M170 574 173 577 174 579 171 575Z" fill="#c81e00" stroke="#c81e00"/>
<path d="M173 577 176 582 177 585 174 579Z" fill="#c83200" stroke="#c83200"/>
<path d="M176 582 177 585 179 588 177 585Z" fill="#d24600" stroke="#d24600"/>
<path d="M177 585 179 589 180 593 179 588Z" fill="#d25a00" stroke="#d25a00"/>
<path d="M179 589 179 591 180 595 180 593Z" fill="#dc6e00" stroke="#dc6e00"/>
<path d="M179 591 180 594 181 599 180 595Z" fill="#dc7800" stroke="#dc7800"/>
<path d="M180 594 181 600 182 606 181 599Z" fill="#dc8c00" stroke="#dc8c00"/>
<path d="M181 600 182 604 183 610 182 606Z" fill="#e6a000" stroke="#e6a000"/>
<path d="M182 604 182 605 184 609 185 615 184 611 183 610Z" fill="#e6aa00" stroke="#e6aa00"/>
<path d="M184 609 185 613 186 619 185 615Z" fill="#e6b400" stroke="#e6b400"/>
<path d="M185 613 185 614 186 618 188 623 187 620 186 619Z" fill="#e6be00" stroke="#e6be00"/>
<path d="M186 618 188 625 190 630 188 623Z" fill="#dcc800" stroke="#dcc800"/>
<path d="M188 625 191 633 193 635 190 630Z" fill="#96be00" stroke="#96be00"/>
<path d="M191 633 194 636 196 634 193 635Z" fill="#6eaa00" stroke="#6eaa00"/>
<path d="M194 636 197 635 199 630 196 634Z" fill="#96d200" stroke="#96d200"/>
<path d="M197 635 201 631 202 625 199 630Z" fill="#c8dc00" stroke="#c8dc00"/>
<path d="M201 631 204 625 205 619 202 625Z" fill="#fadc00" stroke="#fadc00"/>
<path d="M204 625 207 620 208 614 205 619Z" fill="#fac800" stroke="#fac800"/>
<path d="M207 620 208 618 210 617 211 611 210 612 208 614Z" fill="#fabe00" stroke="#fabe00"/>
<path d="M210 617 211 616 212 616 213 615 214 615 215 608 215 609 214 610 212 610 211 610 211 611Z" fill="#fab400" stroke="#fab400"/>
<path d="M214 615 215 612 216 606 215 608Z" fill="#faaa00" stroke="#faaa00"/>
<path d="M215 612 216 609 218 604 216 606Z" fill="#faa000" stroke="#faa000"/>
<path d="M216 609 217 609 218 606 219 602 218 603 218 604Z" fill="#fa9600" stroke="#fa9600"/>
<path d="M218 606 219 605 220 604 221 600 219 602Z" fill="#fa8c00" stroke="#fa8c00"/>
<path d="M220 604 223 602 225 598 221 600Z" fill="#fa8200" stroke="#fa8200"/>
<path d="M223 602 227 600 228 596 225 598Z" fill="#fa7800" stroke="#fa7800"/>
<path d="M227 600 230 598 231 595 228 596Z" fill="#fa6e00" stroke="#fa6e00"/>
<path d="M230 598 233 597 237 596 238 595 235 594 231 595Z" fill="#fa6400" stroke="#fa6400"/>
<path d="M237 596 240 596 242 595 238 595Z" fill="#fa5a00" stroke="#fa5a00"/>
<path d="M122 560 125 560 127 560 130 561 133 561 135 561 138 562 141 562 144 563 146 563 149 564 152 564 155 565 158 566 160 567 161 567 158 566 156 565 153 564 150 564 147 563 144 563 142 562 139 562 136 561 133 561 131 561 128 560 125 560 123 559Z" fill="#dc0000" stroke="#dc0000"/>
<path d="M160 567 163 569 164 569 161 567Z" fill="#dc0a00" stroke="#dc0a00"/>
<path d="M163 569 166 571 167 571 164 569Z" fill="#d20a00" stroke="#d20a00"/>
<path d="M166 571 169 573 170 574 167 571Z" fill="#d21400" stroke="#d21400"/>
<path d="M169 573 172 577 173 577 170 574Z" fill="#d21e00" stroke="#d21e00"/>
<path d="M172 577 175 581 176 582 173 577Z" fill="#c83200" stroke="#c83200"/>
<path d="M175 581 177 584 177 585 176 582Z" fill="#c83c00" stroke="#c83c00"/>
<path d="M177 584 178 587 179 589 177 585Z" fill="#d25000" stroke="#d25000"/>
<path d="M178 587 178 589 179 591 179 589Z" fill="#dc5a00" stroke="#dc5a00"/>
<path d="M178 589 179 592 180 594 179 591Z" fill="#dc6400" stroke="#dc6400"/>
<path d="M179 592 180 597 181 600 180 594Z" fill="#dc7800" stroke="#dc7800"/>
<path d="M180 597 181 601 182 604 181 600Z" fill="#dc8c00" stroke="#dc8c00"/>
<path d="M181 601 182 601 182 605 182 604Z" fill="#e69600" stroke="#e69600"/>
<path d="M182 601 183 605 184 609 182 605Z" fill="#e6a000" stroke="#e6a000"/>
<path d="M183 605 184 609 184 610 185 614 185 613 184 609Z" fill="#e6aa00" stroke="#e6aa00"/>
<path d="M184 610 185 614 186 618 185 614Z" fill="#e6b400" stroke="#e6b400"/>
<path d="M185 614 187 622 188 625 186 618Z" fill="#dcc800" stroke="#dcc800"/>
<path d="M187 622 191 631 191 633 188 625Z" fill="#bec800" stroke="#bec800"/>
<path d="M191 631 194 636 191 633Z" fill="#78b400" stroke="#78b400"/>
<path d="M194 636 197 636 197 635 194 636Z" fill="#78be00" stroke="#78be00"/>
<path d="M197 636 200 633 201 631 197 635Z" fill="#a0d200" stroke="#a0d200"/>
<path d="M200 633 203 629 204 625 201 631Z" fill="#d2dc00" stroke="#d2dc00"/>
<path d="M203 629 206 623 207 620 204 625Z" fill="#fadc00" stroke="#fadc00"/>
<path d="M206 623 208 622 208 618 207 620Z" fill="#fad200" stroke="#fad200"/>
<path d="M208 622 209 621 209 620 210 620 211 616 210 617 208 618Z" fill="#fac800" stroke="#fac800"/>
<path d="M210 620 212 620 213 619 214 616 215 612 214 615 213 615 212 616 211 616Z" fill="#fabe00" stroke="#fabe00"/>
<path d="M214 616 216 612 216 609 215 612Z" fill="#fab400" stroke="#fab400"/>
<path d="M216 612 217 609 216 609Z" fill="#faaa00" stroke="#faaa00"/>
<path d="M216 612 217 609 218 606 217 609Z" fill="#faa000" stroke="#faa000"/>
<path d="M217 609 218 607 219 607 220 604 219 605 218 606Z" fill="#fa9600" stroke="#fa9600"/>
<path d="M219 607 223 604 223 602 220 604Z" fill="#fa8c00" stroke="#fa8c00"/>
<path d="M223 604 226 602 227 600 223 602Z" fill="#fa8200" stroke="#fa8200"/>
<path d="M226 602 229 600 230 598 227 600Z" fill="#fa7800" stroke="#fa7800"/>
<path d="M229 600 233 599 233 597 230 598Z" fill="#fa6e00" stroke="#fa6e00"/>
<path d="M233 599 236 598 240 597 240 596 237 596 233 597Z" fill="#fa6400" stroke="#fa6400"/>
<path d="M120 560 122 560 125 561 128 561 130 561 133 562 136 562 139 563 141 563 144 564 147 564 150 565 153 565 155 566 158 567 161 569 163 569 160 567 158 566 155 565 152 564 149 564 146 563 144 563 141 562 138 562 135 561 133 561 130 561 127 560 125 560 122 560Z" fill="#dc0000" stroke="#dc0000"/>
<path d="M161 569 164 570 167 573 169 573 166 571 163 569Z" fill="#d20a00" stroke="#d20a00"/>
<path d="M167 573 170 575 172 577 169 573Z" fill="#d21400" stroke="#d21400"/>
<path d="M170 575 173 579 175 581 172 577Z" fill="#c82800" stroke="#c82800"/>
<path d="M173 579 174 581 177 584 175 581Z" fill="#c83200" stroke="#c83200"/>
<path d="M174 581 176 583 178 587 177 584Z" fill="#c83c00" stroke="#c83c00"/>
<path d="M176 583 176 585 177 587 179 592 178 589 178 587Z" fill="#d25000" stroke="#d25000"/>
<path d="M177 587 178 591 180 597 179 592Z" fill="#dc6400" stroke="#dc6400"/>
<path d="M178 591 179 593 179 594 182 601 181 601 180 597Z" fill="#dc7800" stroke="#dc7800"/>
<path d="M179 594 181 597 183 605 182 601Z" fill="#dc8200" stroke="#dc8200"/>
<path d="M181 597 182 601 184 609 183 605Z" fill="#dc9600" stroke="#dc9600"/>
<path d="M182 601 182 602 183 605 185 614 184 610 184 609Z" fill="#e6a000" stroke="#e6a000"/>
<path d="M183 605 185 613 187 622 185 614Z" fill="#e6b400" stroke="#e6b400"/>
<path d="M185 613 188 623 191 631 187 622Z" fill="#dcc800" stroke="#dcc800"/>
<path d="M188 623 192 631 194 636 191 631Z" fill="#aabe00" stroke="#aabe00"/>
<path d="M192 631 195 636 197 636 194 636Z" fill="#78b400" stroke="#78b400"/>
<path d="M195 636 198 638 200 633 197 636Z" fill="#82c800" stroke="#82c800"/>
<path d="M198 638 201 636 203 629 200 633Z" fill="#aadc00" stroke="#aadc00"/>
<path d="M201 636 204 633 206 623 203 629Z" fill="#dcdc00" stroke="#dcdc00"/>
<path d="M204 633 205 632 208 622 206 623Z" fill="#fadc00" stroke="#fadc00"/>
<path d="M205 632 207 632 209 621 208 622Z" fill="#f0dc00" stroke="#f0dc00"/>
<path d="M207 632 208 633 209 634 212 620 210 620 209 620 209 621Z" fill="#f0d200" stroke="#f0d200"/>
<path d="M209 634 210 633 213 619 212 620Z" fill="#f0dc00" stroke="#f0dc00"/>
<path d="M210 633 211 633 212 628 214 616 213 619Z" fill="#f0d200" stroke="#f0d200"/>
<path d="M212 628 214 623 216 612 214 616Z" fill="#f0be00" stroke="#f0be00"/>
<path d="M214 623 216 612Z" fill="#fabe00" stroke="#fabe00"/>
<path d="M214 623 215 619 216 617 218 607 217 609 216 612Z" fill="#fab400" stroke="#fab400"/>
<path d="M216 617 217 616 219 607 218 607Z" fill="#faaa00" stroke="#faaa00"/>
<path d="M217 616 220 612 223 604 219 607Z" fill="#faa000" stroke="#faa000"/>
<path d="M220 612 224 609 226 602 223 604Z" fill="#fa9600" stroke="#fa9600"/>
<path d="M224 609 227 607 229 600 226 602Z" fill="#fa8c00" stroke="#fa8c00"/>
<path d="M227 607 231 605 233 599 229 600Z" fill="#fa8200" stroke="#fa8200"/>
<path d="M231 605 234 603 236 598 233 599Z" fill="#fa7800" stroke="#fa7800"/>
<path d="M234 603 237 602 240 597 236 598Z" fill="#fa6e00" stroke="#fa6e00"/>
<path d="M118 560 120 561 123 561 126 561 128 562 131 562 134 563 136 563 139 563 142 564 145 564 148 565 150 566 153 566 156 567 159 569 161 569 158 567 155 566 153 565 150 565 147 564 144 564 141 563 139 563 136 562 133 562 130 561 128 561 125 561 122 560 120 560Z" fill="#dc0000" stroke="#dc0000"/>
<path d="M159 569 162 570 164 570 161 569Z" fill="#dc0a00" stroke="#dc0a00"/>
<path d="M162 570 165 572 167 573 164 570Z" fill="#d20a00" stroke="#d20a00"/>
<path d="M165 572 168 574 170 575 167 573Z" fill="#d21400" stroke="#d21400"/>
<path d="M168 574 171 577 173 579 170 575Z" fill="#d21e00" stroke="#d21e00"/>
<path d="M171 577 172 579 174 581 173 579Z" fill="#c82800" stroke="#c82800"/>
<path d="M172 579 173 581 176 583 174 581Z" fill="#c83200" stroke="#c83200"/>
<path d="M173 581 174 582 175 583 177 587 176 585 176 583Z" fill="#c83c00" stroke="#c83c00"/>
<path d="M175 583 176 586 178 591 177 587Z" fill="#d24600" stroke="#d24600"/>
<path d="M176 586 177 588 177 589 179 594 179 593 178 591Z" fill="#d25a00" stroke="#d25a00"/>
<path d="M177 589 179 591 181 597 179 594Z" fill="#dc6400" stroke="#dc6400"/>
<path d="M179 591 180 594 182 601 181 597Z" fill="#dc6e00" stroke="#dc6e00"/>
<path d="M180 594 180 595 182 602 182 601Z" fill="#dc7800" stroke="#dc7800"/>
<path d="M180 595 181 598 183 605 182 602Z" fill="#dc8200" stroke="#dc8200"/>
<path d="M181 598 183 604 185 613 183 605Z" fill="#dc9600" stroke="#dc9600"/>
<path d="M183 604 186 614 188 623 185 613Z" fill="#e6aa00" stroke="#e6aa00"/>
<path d="M186 614 189 623 192 631 188 623Z" fill="#dcc800" stroke="#dcc800"/>
<path d="M189 623 193 631 195 636 192 631Z" fill="#b4be00" stroke="#b4be00"/>
<path d="M193 631 196 637 198 638 195 636Z" fill="#82b400" stroke="#82b400"/>
<path d="M196 637 199 639 201 636 198 638Z" fill="#78b400" stroke="#78b400"/>
<path d="M199 639 202 640 204 633 201 636Z" fill="#96d200" stroke="#96d200"/>
<path d="M202 640 203 641 205 632 204 633Z" fill="#96c800" stroke="#96c800"/>
<path d="M203 641 205 645 207 632 205 632Z" fill="#8cbe00" stroke="#8cbe00"/>
<path d="M205 645 205 647 207 632Z" fill="#78b400" stroke="#78b400"/>
<path d="M205 647 206 651 208 633 207 632Z" fill="#6eb400" stroke="#6eb400"/>
<path d="M206 651 207 655 209 634 208 633Z" fill="#5ab400" stroke="#5ab400"/>
<path d="M207 655 208 654 210 633 209 634Z" fill="#5abe00" stroke="#5abe00"/>
<path d="M208 654 209 653 211 633 210 633Z" fill="#64be00" stroke="#64be00"/>
<path d="M209 653 210 646 212 628 211 633Z" fill="#8cc800" stroke="#8cc800"/>
<path d="M210 646 211 637 214 623 212 628Z" fill="#c8d200" stroke="#c8d200"/>
<path d="M211 637 212 636 214 623Z" fill="#f0dc00" stroke="#f0dc00"/>
<path d="M212 636 213 631 215 619 214 623Z" fill="#f0d200" stroke="#f0d200"/>
<path d="M213 631 214 627 215 626 217 616 216 617 215 619Z" fill="#fac800" stroke="#fac800"/>
<path d="M215 626 218 622 220 612 217 616Z" fill="#fabe00" stroke="#fabe00"/>
<path d="M218 622 222 619 224 609 220 612Z" fill="#fab400" stroke="#fab400"/>
<path d="M222 619 225 616 227 607 224 609Z" fill="#faaa00" stroke="#faaa00"/>
<path d="M225 616 228 613 231 605 227 607Z" fill="#fa9600" stroke="#fa9600"/>
<path d="M228 613 232 611 235 609 237 602 234 603 231 605Z" fill="#fa8c00" stroke="#fa8c00"/>
<path d="M117 560 120 561 123 561 125 561 128 562 131 562 133 563 136 563 139 564 142 564 145 564 147 565 150 566 153 566 156 567 159 569 156 567 153 566 150 566 148 565 145 564 142 564 139 563 136 563 134 563 131 562 128 562 126 561 123 561 120 561 118 560Z" fill="#dc0000" stroke="#dc0000"/>
<path d="M159 569 162 570 159 569Z" fill="#dc0a00" stroke="#dc0a00"/>
<path d="M162 570 165 572 168 574 165 572 162 570Z" fill="#d20a00" stroke="#d20a00"/>
<path d="M168 574 171 577 168 574Z" fill="#d21400" stroke="#d21400"/>
<path d="M171 577 172 578 172 579 171 577Z" fill="#c81e00" stroke="#c81e00"/>
<path d="M172 578 173 580 173 581 172 579Z" fill="#c82800" stroke="#c82800"/>
<path d="M173 580 174 581 174 583 175 583 174 582 173 581Z" fill="#c83200" stroke="#c83200"/>
<path d="M174 583 176 586 175 583Z" fill="#c83c00" stroke="#c83c00"/>
<path d="M176 586 177 588 176 586Z" fill="#d24600" stroke="#d24600"/>
<path d="M177 588 177 589 177 588Z" fill="#d25000" stroke="#d25000"/>
<path d="M177 588 178 591 179 591 177 589Z" fill="#d25a00" stroke="#d25a00"/>
<path d="M178 591 180 594 179 591Z" fill="#d26400" stroke="#d26400"/>
<path d="M180 594 180 595 181 597 181 598 180 595 180 594Z" fill="#dc6e00" stroke="#dc6e00"/>
<path d="M181 597 183 604 181 598Z" fill="#dc8200" stroke="#dc8200"/>
<path d="M183 604 186 613 186 614 183 604Z" fill="#e6a000" stroke="#e6a000"/>
<path d="M186 613 189 622 189 623 186 614Z" fill="#dcb400" stroke="#dcb400"/>
<path d="M189 622 192 630 193 631 189 623Z" fill="#dcc800" stroke="#dcc800"/>
<path d="M192 630 195 636 196 637 193 631Z" fill="#a0be00" stroke="#a0be00"/>
<path d="M195 636 199 639 196 637Z" fill="#78aa00" stroke="#78aa00"/>
<path d="M199 639 202 640 203 642 203 641 202 640 199 639Z" fill="#6ebe00" stroke="#6ebe00"/>
<path d="M203 642 204 646 205 645 203 641Z" fill="#50aa00" stroke="#50aa00"/>
<path d="M204 646 205 648 205 647 205 645Z" fill="#32aa00" stroke="#32aa00"/>
<path d="M205 648 206 653 206 651 205 647Z" fill="#28a00a" stroke="#28a00a"/>
<path d="M206 653 207 657 207 655 206 651Z" fill="#1ea014" stroke="#1ea014"/>
<path d="M207 657 208 657 208 656 209 653 208 654 207 655Z" fill="#1ea01e" stroke="#1ea01e"/>
<path d="M208 656 210 648 210 646 209 653Z" fill="#32aa0a" stroke="#32aa0a"/>
<path d="M210 648 211 639 211 637 210 646Z" fill="#78be00" stroke="#78be00"/>
<path d="M211 639 211 638 212 636 211 637Z" fill="#aad200" stroke="#aad200"/>
<path d="M211 638 213 632 213 631 212 636Z" fill="#d2d200" stroke="#d2d200"/>
<path d="M213 632 214 628 214 627 213 631Z" fill="#f0dc00" stroke="#f0dc00"/>
<path d="M214 628 215 627 215 626 214 627Z" fill="#fad200" stroke="#fad200"/>
<path d="M215 627 218 623 218 622 215 626Z" fill="#fac800" stroke="#fac800"/>
<path d="M218 623 221 620 222 619 218 622Z" fill="#fabe00" stroke="#fabe00"/>
<path d="M221 620 225 617 225 616 222 619Z" fill="#fab400" stroke="#fab400"/>
<path d="M225 617 228 614 228 613 225 616Z" fill="#faaa00" stroke="#faaa00"/>
<path d="M228 614 232 612 232 611 228 613Z" fill="#faa000" stroke="#faa000"/>
<path d="M232 612 235 610 235 609 232 611Z" fill="#fa9600" stroke="#fa9600"/>
<path d="M115 561 118 561 121 561 123 562 126 562 129 563 131 563 134 563 137 564 140 564 143 565 145 565 148 566 151 567 154 567 157 569 159 569 156 567 153 566 150 566 147 565 145 564 142 564 139 564 136 563 133 563 131 562 128 562 125 561 123 561 120 561 117 560Z" fill="#dc0000" stroke="#dc0000"/>
<path d="M157 569 160 570 163 572 165 572 162 570 159 569Z" fill="#dc0a00" stroke="#dc0a00"/>
<path d="M163 572 166 574 168 574 165 572Z" fill="#d20a00" stroke="#d20a00"/>
<path d="M166 574 169 576 171 577 168 574Z" fill="#d21400" stroke="#d21400"/>
<path d="M169 576 170 577 172 578 171 577Z" fill="#d21e00" stroke="#d21e00"/>
<path d="M170 577 171 579 173 580 172 578Z" fill="#c81e00" stroke="#c81e00"/>
<path d="M171 579 172 579 173 581 174 583 174 581 173 580Z" fill="#c82800" stroke="#c82800"/>
<path d="M173 581 174 583 176 586 174 583Z" fill="#c83200" stroke="#c83200"/>
<path d="M174 583 175 585 177 588 176 586Z" fill="#c83c00" stroke="#c83c00"/>
<path d="M175 585 177 588Z" fill="#c84600" stroke="#c84600"/>
<path d="M175 585 176 587 178 591 177 588Z" fill="#d24600" stroke="#d24600"/>
<path d="M176 587 178 589 180 594 178 591Z" fill="#d25000" stroke="#d25000"/>
<path d="M178 589 178 590 180 595 180 594Z" fill="#d25a00" stroke="#d25a00"/>
<path d="M178 590 179 592 181 597 180 595Z" fill="#dc6400" stroke="#dc6400"/>
<path d="M179 592 181 597 183 604 181 597Z" fill="#dc7800" stroke="#dc7800"/>
<path d="M181 597 184 606 186 613 183 604Z" fill="#dc8c00" stroke="#dc8c00"/>
<path d="M184 606 187 614 189 622 186 613Z" fill="#dcaa00" stroke="#dcaa00"/>
<path d="M187 614 190 622 192 630 189 622Z" fill="#dcbe00" stroke="#dcbe00"/>
<path d="M190 622 194 630 195 636 192 630Z" fill="#c8c800" stroke="#c8c800"/>
<path d="M194 630 197 636 199 639 195 636Z" fill="#96be00" stroke="#96be00"/>
<path d="M197 636 200 640 202 640 199 639Z" fill="#78aa00" stroke="#78aa00"/>
<path d="M200 640 201 645 203 642 202 640Z" fill="#5aaa00" stroke="#5aaa00"/>
<path d="M201 645 203 654 204 646 203 642Z" fill="#32a000" stroke="#32a000"/>
<path d="M203 654 203 660 205 648 204 646Z" fill="#1e9614" stroke="#1e9614"/>
<path d="M203 660 204 672 206 653 205 648Z" fill="#148c1e" stroke="#148c1e"/>
<path d="M204 672 205 687 207 657 206 653Z" fill="#006e46" stroke="#006e46"/>
<path d="M205 687 206 690 207 688 208 656 208 657 207 657Z" fill="#006e78" stroke="#006e78"/>
<path d="M207 688 208 674 210 648 208 656Z" fill="#008c46" stroke="#008c46"/>
<path d="M208 674 209 656 211 639 210 648Z" fill="#28aa14" stroke="#28aa14"/>
<path d="M209 656 209 654 211 638 211 639Z" fill="#46b400" stroke="#46b400"/>
<path d="M209 654 211 644 213 632 211 638Z" fill="#78be00" stroke="#78be00"/>
<path d="M211 644 212 639 214 628 213 632Z" fill="#c8d200" stroke="#c8d200"/>
<path d="M212 639 213 637 215 627 214 628Z" fill="#e6dc00" stroke="#e6dc00"/>
<path d="M213 637 216 633 218 623 215 627Z" fill="#fadc00" stroke="#fadc00"/>
<path d="M216 633 219 630 221 620 218 623Z" fill="#fad200" stroke="#fad200"/>
<path d="M219 630 223 626 225 617 221 620Z" fill="#fac800" stroke="#fac800"/>
<path d="M223 626 226 623 228 614 225 617Z" fill="#fabe00" stroke="#fabe00"/>
<path d="M226 623 230 621 232 612 228 614Z" fill="#fab400" stroke="#fab400"/>
<path d="M230 621 233 618 235 610 232 612Z" fill="#faaa00" stroke="#faaa00"/>
<path d="M113 561 116 561 118 562 121 562 124 563 127 563 129 563 132 564 135 564 138 565 140 565 143 566 146 566 149 567 152 568 155 569 158 570 160 570 157 569 154 567 151 567 148 566 145 565 143 565 140 564 137 564 134 563 131 563 129 563 126 562 123 562 121 561 118 561 115 561Z" fill="#dc0000" stroke="#dc0000"/>
<path d="M158 570 161 572 164 573 166 574 163 572 160 570Z" fill="#dc0a00" stroke="#dc0a00"/>
<path d="M164 573 167 575 169 576 166 574Z" fill="#d20a00" stroke="#d20a00"/>
<path d="M167 575 168 576 170 577 169 576Z" fill="#d21400" stroke="#d21400"/>
<path d="M168 576 169 577 170 578 170 579 173 581 172 579 171 579 170 577Z" fill="#c81e00" stroke="#c81e00"/>
<path d="M170 579 172 581 174 583 173 581Z" fill="#c82800" stroke="#c82800"/>
<path d="M172 581 173 582 175 585 174 583Z" fill="#c83200" stroke="#c83200"/>
<path d="M173 582 174 584 175 586 178 589 176 587 175 585Z" fill="#c83c00" stroke="#c83c00"/>
<path d="M175 586 176 586 178 590 178 589Z" fill="#c84600" stroke="#c84600"/>
<path d="M176 586 177 588 179 592 178 590Z" fill="#d25000" stroke="#d25000"/>
<path d="M177 588 179 592 181 597 179 592Z" fill="#d25a00" stroke="#d25a00"/>
<path d="M179 592 182 599 184 606 181 597Z" fill="#dc6e00" stroke="#dc6e00"/>
<path d="M182 599 185 605 187 614 184 606Z" fill="#dc8c00" stroke="#dc8c00"/>
<path d="M185 605 188 612 190 622 187 614Z" fill="#dcaa00" stroke="#dcaa00"/>
<path d="M188 612 191 620 194 630 190 622Z" fill="#dcbe00" stroke="#dcbe00"/>
<path d="M191 620 195 627 197 636 194 630Z" fill="#dcc800" stroke="#dcc800"/>
<path d="M195 627 198 634 200 640 197 636Z" fill="#aabe00" stroke="#aabe00"/>
<path d="M198 634 199 638 201 645 200 640Z" fill="#82b400" stroke="#82b400"/>
<path d="M199 638 200 645 203 654 201 645Z" fill="#46aa00" stroke="#46aa00"/>
<path d="M200 645 201 648 203 660 203 654Z" fill="#28a00a" stroke="#28a00a"/>
<path d="M201 648 202 659 204 672 203 660Z" fill="#148c28" stroke="#148c28"/>
<path d="M202 659 203 680 205 687 204 672Z" fill="#006482" stroke="#006482"/>
<path d="M203 680 204 693 206 690 205 687Z" fill="#003caa" stroke="#003caa"/>
<path d="M204 693 204 696 207 688 206 690Z" fill="#0028a0" stroke="#0028a0"/>
<path d="M204 696 206 693 208 674 207 688Z" fill="#003cbe" stroke="#003cbe"/>
<path d="M206 693 207 675 209 656 208 674Z" fill="#006e78" stroke="#006e78"/>
<path d="M207 675 207 672 209 654 209 656Z" fill="#0a8c32" stroke="#0a8c32"/>
<path d="M207 672 209 657 211 644 209 654Z" fill="#1ea014" stroke="#1ea014"/>
<path d="M209 657 210 647 212 639 211 644Z" fill="#5abe00" stroke="#5abe00"/>
<path d="M210 647 211 645 213 637 212 639Z" fill="#8cc800" stroke="#8cc800"/>
<path d="M211 645 214 642 216 633 213 637Z" fill="#b4d200" stroke="#b4d200"/>
<path d="M214 642 217 640 219 630 216 633Z" fill="#dcdc00" stroke="#dcdc00"/>
<path d="M217 640 221 638 223 626 219 630Z" fill="#f0dc00" stroke="#f0dc00"/>
<path d="M221 638 224 635 226 623 223 626Z" fill="#fad200" stroke="#fad200"/>
<path d="M224 635 228 632 230 621 226 623Z" fill="#fac800" stroke="#fac800"/>
<path d="M228 632 231 630 233 618 230 621Z" fill="#fabe00" stroke="#fabe00"/>
<path d="M112 561 115 562 117 562 120 562 123 563 125 563 128 564 131 564 134 564 136 565 139 565 142 566 145 566 148 567 151 568 153 569 156 570 158 570 155 569 152 568 149 567 146 566 143 566 140 565 138 565 135 564 132 564 129 563 127 563 124 563 121 562 118 562 116 561 113 561Z" fill="#dc0000" stroke="#dc0000"/>
<path d="M156 570 159 571 162 573 164 573 161 572 158 570Z" fill="#dc0a00" stroke="#dc0a00"/>
<path d="M162 573 165 574 167 575 168 576 167 575 164 573Z" fill="#d20a00" stroke="#d20a00"/>
<path d="M167 575 168 577 169 577 168 576Z" fill="#d21400" stroke="#d21400"/>
<path d="M168 577 170 578 169 577Z" fill="#c81400" stroke="#c81400"/>
<path d="M168 577 169 578 170 579 172 581 170 579 170 578Z" fill="#c81e00" stroke="#c81e00"/>
<path d="M170 579 171 581 172 581 173 582 174 584 173 582 172 581Z" fill="#c82800" stroke="#c82800"/>
<path d="M173 582 174 584 176 586 175 586 174 584Z" fill="#c83200" stroke="#c83200"/>
<path d="M174 584 175 586 177 588 176 586Z" fill="#c83c00" stroke="#c83c00"/>
<path d="M175 586 178 590 179 592 177 588Z" fill="#c84600" stroke="#c84600"/>
<path d="M178 590 181 596 182 599 179 592Z" fill="#d25a00" stroke="#d25a00"/>
<path d="M181 596 184 601 185 605 182 599Z" fill="#dc7800" stroke="#dc7800"/>
<path d="M184 601 187 608 188 612 185 605Z" fill="#dc8c00" stroke="#dc8c00"/>
<path d="M187 608 190 614 191 620 188 612Z" fill="#dca000" stroke="#dca000"/>
<path d="M190 614 193 621 195 627 191 620Z" fill="#dcb400" stroke="#dcb400"/>
<path d="M193 621 197 628 198 634 195 627Z" fill="#dcc800" stroke="#dcc800"/>
<path d="M197 628 198 632 199 638 198 634Z" fill="#c8c800" stroke="#c8c800"/>
<path d="M198 632 199 638 200 645 199 638Z" fill="#96be00" stroke="#96be00"/>
<path d="M199 638 200 640 201 648 200 645Z" fill="#6eb400" stroke="#6eb400"/>
<path d="M200 640 201 647 202 659 201 648Z" fill="#32aa00" stroke="#32aa00"/>
<path d="M201 647 202 661 203 680 202 659Z" fill="#0a9628" stroke="#0a9628"/>
<path d="M202 661 203 670 204 693 203 680Z" fill="#006482" stroke="#006482"/>
<path d="M203 670 203 673 205 675 206 693 204 696 204 693Z" fill="#0046b4" stroke="#0046b4"/>
<path d="M205 675 206 666 207 675 206 693Z" fill="#005a82" stroke="#005a82"/>
<path d="M206 666 206 665 207 672 207 675Z" fill="#007846" stroke="#007846"/>
<path d="M206 665 207 655 209 657 207 672Z" fill="#0a8c28" stroke="#0a8c28"/>
<path d="M207 655 209 648 210 647 209 657Z" fill="#32aa0a" stroke="#32aa0a"/>
<path d="M209 648 209 647 211 645 210 647Z" fill="#5abe00" stroke="#5abe00"/>
<path d="M209 647 213 645 214 642 211 645Z" fill="#82d200" stroke="#82d200"/>
<path d="M213 645 216 645 217 640 214 642Z" fill="#96d200" stroke="#96d200"/>
<path d="M216 645 220 643 221 638 217 640Z" fill="#b4d200" stroke="#b4d200"/>
<path d="M220 643 223 641 224 635 221 638Z" fill="#d2dc00" stroke="#d2dc00"/>
<path d="M223 641 226 639 230 636 231 630 228 632 224 635Z" fill="#f0dc00" stroke="#f0dc00"/>
<path d="M111 561 114 562 116 562 119 563 122 563 124 563 127 564 130 564 133 565 135 565 138 566 141 566 144 567 147 567 150 568 152 569 155 570 156 570 153 569 151 568 148 567 145 566 142 566 139 565 136 565 134 564 131 564 128 564 125 563 123 563 120 562 117 562 115 562 112 561Z" fill="#dc0000" stroke="#dc0000"/>
<path d="M155 570 158 571 161 573 164 574 165 574 162 573 159 571 156 570Z" fill="#dc0a00" stroke="#dc0a00"/>
<path d="M164 574 166 575 167 575 165 574Z" fill="#d20a00" stroke="#d20a00"/>
<path d="M166 575 167 576 167 577 168 577 167 575Z" fill="#d21400" stroke="#d21400"/>
<path d="M167 577 168 577 169 578 168 577Z" fill="#c81400" stroke="#c81400"/>
<path d="M168 577 169 579 170 580 171 581 170 579 169 578Z" fill="#c81e00" stroke="#c81e00"/>
<path d="M170 580 171 580 172 581 173 583 174 584 173 582 172 581 171 581Z" fill="#c82800" stroke="#c82800"/>
<path d="M173 583 175 585 175 586 174 584Z" fill="#c83200" stroke="#c83200"/>
<path d="M175 585 177 588 178 590 175 586Z" fill="#c83c00" stroke="#c83c00"/>
<path d="M177 588 180 593 181 596 178 590Z" fill="#d25000" stroke="#d25000"/>
<path d="M180 593 183 598 184 601 181 596Z" fill="#d26400" stroke="#d26400"/>
<path d="M183 598 186 604 187 608 184 601Z" fill="#dc7800" stroke="#dc7800"/>
<path d="M186 604 189 610 190 614 187 608Z" fill="#dc9600" stroke="#dc9600"/>
<path d="M189 610 192 617 193 621 190 614Z" fill="#dcaa00" stroke="#dcaa00"/>
<path d="M192 617 196 624 197 628 193 621Z" fill="#dcb400" stroke="#dcb400"/>
<path d="M196 624 197 627 198 632 197 628Z" fill="#dcc800" stroke="#dcc800"/>
<path d="M197 627 198 632 199 638 198 632Z" fill="#d2c800" stroke="#d2c800"/>
<path d="M198 632 199 634 200 640 199 638Z" fill="#b4c800" stroke="#b4c800"/>
<path d="M199 634 200 639 201 647 200 640Z" fill="#8cbe00" stroke="#8cbe00"/>
<path d="M200 639 201 649 202 661 201 647Z" fill="#32aa00" stroke="#32aa00"/>
<path d="M201 649 202 656 203 670 202 661Z" fill="#14961e" stroke="#14961e"/>
<path d="M202 656 202 658 203 673 203 670Z" fill="#0a8c32" stroke="#0a8c32"/>
<path d="M202 658 204 660 205 675 203 673Z" fill="#008c32" stroke="#008c32"/>
<path d="M204 660 205 656 206 666 205 675Z" fill="#0a8c32" stroke="#0a8c32"/>
<path d="M205 656 205 655 206 665 206 666Z" fill="#148c1e" stroke="#148c1e"/>
<path d="M205 655 206 650 207 655 206 665Z" fill="#1e9614" stroke="#1e9614"/>
<path d="M206 650 208 646 209 648 207 655Z" fill="#3ca000" stroke="#3ca000"/>
<path d="M208 646 209 645 209 647 209 648Z" fill="#5aaa00" stroke="#5aaa00"/>
<path d="M209 645 212 646 213 645 209 647Z" fill="#64aa00" stroke="#64aa00"/>
<path d="M212 646 215 646 216 645 213 645Z" fill="#82c800" stroke="#82c800"/>
<path d="M215 646 219 646 220 643 216 645Z" fill="#8cd200" stroke="#8cd200"/>
<path d="M219 646 222 645 223 641 220 643Z" fill="#a0d200" stroke="#a0d200"/>
<path d="M222 645 225 643 226 639 223 641Z" fill="#bed200" stroke="#bed200"/>
<path d="M225 643 229 641 230 636 226 639Z" fill="#dcdc00" stroke="#dcdc00"/>
<path d="M109 562 111 562 114 563 117 563 119 563 122 564 125 564 128 565 130 565 133 565 136 566 139 566 142 567 144 568 147 568 150 569 153 570 156 571 158 571 155 570 152 569 150 568 147 567 144 567 141 566 138 566 135 565 133 565 130 564 127 564 124 563 122 563 119 563 116 562 114 562 111 561Z" fill="#dc0000" stroke="#dc0000"/>
<path d="M156 571 159 573 162 574 164 574 161 573 158 571Z" fill="#dc0a00" stroke="#dc0a00"/>
<path d="M162 574 163 574 165 575 165 576 167 577 167 576 166 575 164 574Z" fill="#d20a00" stroke="#d20a00"/>
<path d="M165 576 166 576 167 578 169 579 168 577 167 577Z" fill="#d21400" stroke="#d21400"/>
<path d="M167 578 168 578 168 579 170 580 172 581 171 580 170 580 169 579Z" fill="#d21e00" stroke="#d21e00"/>
<path d="M170 580 171 581 172 582 175 585 173 583 172 581Z" fill="#c82800" stroke="#c82800"/>
<path d="M172 582 174 585 177 588 175 585Z" fill="#c83200" stroke="#c83200"/>
<path d="M174 585 177 589 180 593 177 588Z" fill="#c83c00" stroke="#c83c00"/>
<path d="M177 589 181 593 183 598 180 593Z" fill="#d25000" stroke="#d25000"/>
<path d="M181 593 184 597 186 604 183 598Z" fill="#d26400" stroke="#d26400"/>
<path d="M184 597 187 602 189 610 186 604Z" fill="#dc7800" stroke="#dc7800"/>
<path d="M187 602 190 608 192 617 189 610Z" fill="#dc8c00" stroke="#dc8c00"/>
<path d="M190 608 193 614 196 624 192 617Z" fill="#dca000" stroke="#dca000"/>
<path d="M193 614 195 616 197 627 196 624Z" fill="#e6b400" stroke="#e6b400"/>
<path d="M195 616 196 620 197 621 199 634 198 632 197 627Z" fill="#e6be00" stroke="#e6be00"/>
<path d="M197 621 198 625 200 639 199 634Z" fill="#e6c800" stroke="#e6c800"/>
<path d="M198 625 199 631 201 649 200 639Z" fill="#bec800" stroke="#bec800"/>
<path d="M199 631 200 634 202 656 201 649Z" fill="#82be00" stroke="#82be00"/>
<path d="M200 634 200 635 202 658 202 656Z" fill="#5ab400" stroke="#5ab400"/>
<path d="M200 635 202 638 203 637 205 656 204 660 202 658Z" fill="#50b400" stroke="#50b400"/>
<path d="M203 637 205 655 205 656Z" fill="#5ab400" stroke="#5ab400"/>
<path d="M203 637 204 636 206 650 205 655Z" fill="#6eb400" stroke="#6eb400"/>
<path d="M204 636 206 636 208 646 206 650Z" fill="#8cbe00" stroke="#8cbe00"/>
<path d="M206 636 206 637 209 645 208 646Z" fill="#96be00" stroke="#96be00"/>
<path d="M206 637 210 641 212 646 209 645Z" fill="#8cb400" stroke="#8cb400"/>
<path d="M210 641 213 645 216 647 219 646 215 646 212 646Z" fill="#78b400" stroke="#78b400"/>
<path d="M216 647 220 649 222 645 219 646Z" fill="#82c800" stroke="#82c800"/>
<path d="M220 649 223 650 225 643 222 645Z" fill="#96d200" stroke="#96d200"/>
<path d="M223 650 227 650 229 641 225 643Z" fill="#a0d200" stroke="#a0d200"/>
<path d="M106 562 109 563 112 563 114 563 117 564 120 564 122 565 125 565 128 565 131 566 134 566 136 567 139 567 142 568 145 569 148 569 151 570 154 571 156 571 153 570 150 569 147 568 144 568 142 567 139 566 136 566 133 565 130 565 128 565 125 564 122 564 119 563 117 563 114 563 111 562 109 562Z" fill="#dc0000" stroke="#dc0000"/>
<path d="M154 571 157 572 160 574 161 574 163 574 162 574 159 573 156 571Z" fill="#dc0a00" stroke="#dc0a00"/>
<path d="M161 574 162 575 163 575 164 576 165 577 167 578 166 576 165 576 165 575 163 574Z" fill="#d20a00" stroke="#d20a00"/>
<path d="M165 577 166 577 166 578 167 578 170 580 168 579 168 578 167 578Z" fill="#d21400" stroke="#d21400"/>
<path d="M167 578 169 579 169 580 171 581 170 580Z" fill="#d21e00" stroke="#d21e00"/>
<path d="M169 580 170 581 172 582 171 581Z" fill="#c81e00" stroke="#c81e00"/>
<path d="M170 581 172 583 174 585 172 582Z" fill="#c82800" stroke="#c82800"/>
<path d="M172 583 175 586 177 589 174 585Z" fill="#c83200" stroke="#c83200"/>
<path d="M175 586 178 589 181 593 177 589Z" fill="#c83c00" stroke="#c83c00"/>
<path d="M178 589 182 592 184 597 181 593Z" fill="#c85000" stroke="#c85000"/>
<path d="M182 592 185 596 187 602 184 597Z" fill="#d25a00" stroke="#d25a00"/>
<path d="M185 596 188 600 190 608 187 602Z" fill="#dc6e00" stroke="#dc6e00"/>
<path d="M188 600 191 605 193 614 190 608Z" fill="#dc8200" stroke="#dc8200"/>
<path d="M191 605 193 607 195 616 193 614Z" fill="#dc8c00" stroke="#dc8c00"/>
<path d="M193 607 194 610 196 620 195 616Z" fill="#dc9600" stroke="#dc9600"/>
<path d="M194 610 194 611 197 621 196 620Z" fill="#e6a000" stroke="#e6a000"/>
<path d="M194 611 195 613 198 625 197 621Z" fill="#e6aa00" stroke="#e6aa00"/>
<path d="M195 613 197 617 199 631 198 625Z" fill="#e6b400" stroke="#e6b400"/>
<path d="M197 617 198 619 198 620 200 635 200 634 199 631Z" fill="#e6be00" stroke="#e6be00"/>
<path d="M198 620 199 622 201 623 202 623 204 624 204 625 206 637 206 636 204 636 203 637 202 638 200 635Z" fill="#dcbe00" stroke="#dcbe00"/>
<path d="M204 625 208 630 210 641 206 637Z" fill="#dcc800" stroke="#dcc800"/>
<path d="M208 630 211 635 213 645 210 641Z" fill="#c8c800" stroke="#c8c800"/>
<path d="M211 635 214 640 216 647 213 645Z" fill="#aabe00" stroke="#aabe00"/>
<path d="M214 640 218 644 220 649 216 647Z" fill="#96b400" stroke="#96b400"/>
<path d="M218 644 221 647 223 650 220 649Z" fill="#82b400" stroke="#82b400"/>
<path d="M221 647 225 649 227 650 223 650Z" fill="#78aa00" stroke="#78aa00"/>
<path d="M101 563 103 564 106 564 109 564 111 565 114 565 117 566 120 566 122 566 125 567 128 567 131 568 134 568 136 569 139 569 142 570 145 571 148 572 151 573 157 572 154 571 151 570 148 569 145 569 142 568 139 567 136 567 134 566 131 566 128 565 125 565 122 565 120 564 117 564 114 563 112 563 109 563 106 562Z" fill="#dc0000" stroke="#dc0000"/>
<path d="M151 573 154 573 155 574 157 574 157 575 158 575 164 576 163 575 162 575 161 574 160 574 157 572Z" fill="#dc0a00" stroke="#dc0a00"/>
<path d="M158 575 159 576 160 576 161 576 162 577 163 577 169 579 167 578 166 578 166 577 165 577 164 576Z" fill="#d20a00" stroke="#d20a00"/>
<path d="M163 577 163 578 164 578 167 579 172 583 170 581 169 580 169 579Z" fill="#d21400" stroke="#d21400"/>
<path d="M167 579 170 581 175 586 172 583Z" fill="#d21e00" stroke="#d21e00"/>
<path d="M170 581 173 583 178 589 175 586Z" fill="#d22800" stroke="#d22800"/>
<path d="M173 583 176 585 182 592 178 589Z" fill="#d23200" stroke="#d23200"/>
<path d="M176 585 179 587 185 596 182 592Z" fill="#c83c00" stroke="#c83c00"/>
<path d="M179 587 182 589 188 600 185 596Z" fill="#c84600" stroke="#c84600"/>
<path d="M182 589 186 591 191 605 188 600Z" fill="#c85000" stroke="#c85000"/>
<path d="M186 591 187 593 193 607 191 605Z" fill="#d25a00" stroke="#d25a00"/>
<path d="M187 593 188 594 189 594 194 611 194 610 193 607Z" fill="#d26400" stroke="#d26400"/>
<path d="M189 594 190 595 195 613 194 611Z" fill="#dc6e00" stroke="#dc6e00"/>
<path d="M190 595 191 597 192 598 198 619 197 617 195 613Z" fill="#dc7800" stroke="#dc7800"/>
<path d="M192 598 193 598 194 599 195 600 196 600 201 623 199 622 198 620 198 619Z" fill="#dc8200" stroke="#dc8200"/>
<path d="M196 600 197 601 198 602 199 602 204 625 204 624 202 623 201 623Z" fill="#dc8c00" stroke="#dc8c00"/>
<path d="M199 602 202 605 208 630 204 625Z" fill="#dc9600" stroke="#dc9600"/>
<path d="M202 605 206 609 211 635 208 630Z" fill="#dca000" stroke="#dca000"/>
<path d="M206 609 209 612 214 640 211 635Z" fill="#dcaa00" stroke="#dcaa00"/>
<path d="M209 612 212 615 216 619 221 647 218 644 214 640Z" fill="#dcb400" stroke="#dcb400"/>
<path d="M216 619 219 622 225 649 221 647Z" fill="#dcbe00" stroke="#dcbe00"/>
<path d="M95 564 98 565 100 565 103 565 106 566 108 566 111 567 114 567 117 567 119 568 122 568 125 569 128 569 131 570 134 570 137 571 140 572 143 572 146 573 149 574 150 574 151 574 152 575 157 575 157 574 155 574 154 573 151 573 148 572 145 571 142 570 139 569 136 569 134 568 131 568 128 567 125 567 122 566 120 566 117 566 114 565 111 565 109 564 106 564 103 564 101 563Z" fill="#dc0000" stroke="#dc0000"/>
<path d="M152 575 154 575 155 576 156 576 157 577 158 577 159 577 161 578 167 579 164 578 163 578 163 577 162 577 161 576 160 576 159 576 158 575 157 575Z" fill="#dc0a00" stroke="#dc0a00"/>
<path d="M161 578 164 580 170 581 167 579Z" fill="#d20a00" stroke="#d20a00"/>
<path d="M164 580 167 581 170 582 176 585 173 583 170 581Z" fill="#d21400" stroke="#d21400"/>
<path d="M170 582 174 583 177 584 182 589 179 587 176 585Z" fill="#d21e00" stroke="#d21e00"/>
<path d="M177 584 180 586 181 586 187 593 186 591 182 589Z" fill="#d22800" stroke="#d22800"/>
<path d="M181 586 183 587 188 594 187 593Z" fill="#d23200" stroke="#d23200"/>
<path d="M183 587 184 588 186 589 191 597 190 595 189 594 188 594Z" fill="#c83200" stroke="#c83200"/>
<path d="M186 589 187 589 188 590 190 590 191 591 193 591 198 602 197 601 196 600 195 600 194 599 193 598 192 598 191 597Z" fill="#c83c00" stroke="#c83c00"/>
<path d="M193 591 197 593 202 605 199 602 198 602Z" fill="#c84600" stroke="#c84600"/>
<path d="M197 593 200 595 206 609 202 605Z" fill="#c85000" stroke="#c85000"/>
<path d="M200 595 204 596 209 612 206 609Z" fill="#d25a00" stroke="#d25a00"/>
<path d="M204 596 207 598 211 600 216 619 212 615 209 612Z" fill="#d26400" stroke="#d26400"/>
<path d="M211 600 214 602 219 622 216 619Z" fill="#d26e00" stroke="#d26e00"/>
<path d="M89 565 92 566 94 566 97 566 100 567 102 567 105 568 108 568 111 568 114 569 116 569 119 570 122 570 125 571 128 571 131 572 134 573 137 573 140 574 143 574 144 575 145 575 146 575 147 575 148 576 149 576 150 576 152 577 157 577 156 576 155 576 154 575 152 575 151 574 150 574 149 574 146 573 143 572 140 572 137 571 134 570 131 570 128 569 125 569 122 568 119 568 117 567 114 567 111 567 108 566 106 566 103 565 100 565 98 565 95 564Z" fill="#dc0000" stroke="#dc0000"/>
<path d="M152 577 153 577 155 578 158 579 161 580 165 581 168 581 171 582 177 584 174 583 170 582 167 581 164 580 161 578 159 577 158 577 157 577Z" fill="#dc0a00" stroke="#dc0a00"/>
<path d="M171 582 174 583 180 586 177 584Z" fill="#d20a00" stroke="#d20a00"/>
<path d="M174 583 176 584 177 584 178 584 179 584 180 585 181 585 187 589 186 589 184 588 183 587 181 586 180 586Z" fill="#d21400" stroke="#d21400"/>
<path d="M181 585 183 586 184 586 185 586 187 587 188 587 191 588 194 589 200 595 197 593 193 591 191 591 190 590 188 590 187 589Z" fill="#d21e00" stroke="#d21e00"/>
<path d="M194 589 198 590 201 591 205 592 211 600 207 598 204 596 200 595Z" fill="#d22800" stroke="#d22800"/>
<path d="M205 592 208 593 214 602 211 600Z" fill="#c83200" stroke="#c83200"/>
<path d="M83 566 86 567 88 567 91 567 94 568 96 568 99 569 102 569 105 570 108 570 110 570 113 571 116 571 119 572 122 572 125 573 128 573 131 574 134 575 137 575 138 575 139 576 140 576 141 576 142 576 143 577 144 577 146 577 147 578 149 578 152 579 158 579 155 578 153 577 152 577 150 576 149 576 148 576 147 575 146 575 145 575 144 575 143 574 140 574 137 573 134 573 131 572 128 571 125 571 122 570 119 570 116 569 114 569 111 568 108 568 105 568 102 567 100 567 97 566 94 566 92 566 89 565Z" fill="#dc0000" stroke="#dc0000"/>
<path d="M152 579 155 580 159 580 162 581 165 582 168 582 170 583 171 583 172 583 173 583 174 584 175 584 177 584 178 585 180 585 181 585 182 585 185 586 189 587 194 589 191 588 188 587 187 587 185 586 184 586 183 586 181 585 180 585 179 584 178 584 177 584 176 584 174 583 171 582 168 581 165 581 161 580 158 579Z" fill="#dc0a00" stroke="#dc0a00"/>
<path d="M189 587 192 587 196 588 201 591 198 590 194 589Z" fill="#d20a00" stroke="#d20a00"/>
<path d="M196 588 199 589 203 590 208 593 205 592 201 591Z" fill="#d21400" stroke="#d21400"/>
<path d="M77 567 80 568 82 568 85 568 88 569 90 569 93 570 96 570 99 571 102 571 104 571 107 572 110 572 113 573 116 573 119 574 122 574 125 575 128 576 131 576 132 576 133 577 134 577 135 577 136 577 137 577 138 578 140 578 141 578 143 579 146 579 149 580 153 581 156 581 159 582 162 582 164 583 165 583 166 583 167 583 173 583 172 583 171 583 170 583 168 582 165 582 162 581 159 580 155 580 152 579 149 578 147 578 146 577 144 577 143 577 142 576 141 576 140 576 139 576 138 575 137 575 134 575 131 574 128 573 125 573 122 572 119 572 116 571 113 571 110 570 108 570 105 570 102 569 99 569 96 568 94 568 91 567 88 567 86 567 83 566Z" fill="#dc0000" stroke="#dc0000"/>
<path d="M167 583 168 584 169 584 170 584 171 584 172 584 173 584 174 584 175 585 176 585 179 585 183 586 186 587 190 587 193 588 197 589 203 590 199 589 196 588 192 587 189 587 185 586 182 585 181 585 180 585 178 585 177 584 175 584 174 584 173 583Z" fill="#dc0a00" stroke="#dc0a00"/>
<path d="M71 568 73 569 76 569 79 570 82 570 84 570 87 571 90 571 93 572 95 572 98 573 101 573 104 574 107 574 110 575 113 575 116 576 119 576 122 577 125 577 126 577 127 578 128 578 130 578 131 578 132 579 134 579 135 579 137 579 140 580 143 581 147 581 150 582 153 582 156 583 158 583 159 583 160 583 161 584 162 584 163 584 165 584 166 585 168 585 169 585 170 585 173 586 177 586 180 587 184 588 187 588 191 589 197 589 193 588 190 587 186 587 183 586 179 585 176 585 175 585 174 584 173 584 172 584 171 584 170 584 169 584 168 584 167 583 166 583 165 583 164 583 162 582 159 582 156 581 153 581 149 580 146 579 143 579 141 578 140 578 138 578 137 577 136 577 135 577 134 577 133 577 132 576 131 576 128 576 125 575 122 574 119 574 116 573 113 573 110 572 107 572 104 571 102 571 99 571 96 570 93 570 90 569 88 569 85 568 82 568 80 568 77 567Z" fill="#dc0000" stroke="#dc0000"/>
</g>
<path d="M108.5 305.7 97 302.5 91.2 299.6 89.9 297.7 90.8 295.4 92.3 294.2 102.2 289.8" fill="none" stroke="#7030c0" stroke-width="0.9"/>
<path d="M105 290.2 101.3 293.7 102 295.6 106.5 298.8 118.2 302.9" fill="none" stroke="#7030c0" stroke-width="0.9"/>
<line x1="35.4" y1="284.2" x2="37.8" y2="358.6" stroke="#000" stroke-width="1.1"/>
<line x1="33.4" y1="284.2" x2="35.4" y2="284.2" stroke="#000" stroke-width="0.8"/>
<text x="32.9" y="286.7" font-family='"Liberation Serif", serif' font-size="7.2" font-weight="bold" text-anchor="end" fill="#000" >0</text>
<line x1="33.9" y1="298.1" x2="35.9" y2="298.1" stroke="#000" stroke-width="0.8"/>
<text x="33.4" y="300.6" font-family='"Liberation Serif", serif' font-size="7.2" font-weight="bold" text-anchor="end" fill="#000" >-10</text>
<line x1="34.3" y1="311.9" x2="36.3" y2="311.9" stroke="#000" stroke-width="0.8"/>
<text x="33.8" y="314.4" font-family='"Liberation Serif", serif' font-size="7.2" font-weight="bold" text-anchor="end" fill="#000" >-20</text>
<line x1="34.7" y1="325.5" x2="36.7" y2="325.5" stroke="#000" stroke-width="0.8"/>
<text x="34.2" y="328" font-family='"Liberation Serif", serif' font-size="7.2" font-weight="bold" text-anchor="end" fill="#000" >-30</text>
<line x1="35.2" y1="338.8" x2="37.2" y2="338.8" stroke="#000" stroke-width="0.8"/>
<text x="34.7" y="341.3" font-family='"Liberation Serif", serif' font-size="7.2" font-weight="bold" text-anchor="end" fill="#000" >-40</text>
<line x1="35.6" y1="352.1" x2="37.6" y2="352.1" stroke="#000" stroke-width="0.8"/>
<text x="35.1" y="354.6" font-family='"Liberation Serif", serif' font-size="7.2" font-weight="bold" text-anchor="end" fill="#000" >-50</text>
<path d="M37.8 358.6L95.6 379.5L141.6 354.6" fill="none" stroke="#000" stroke-width="1"/>
<text x="0" y="0" font-family='"Liberation Serif", serif' font-size="6.3" font-weight="bold" text-anchor="middle" fill="#000" transform="translate(47.7,367.4) rotate(19.9) skewX(-25)">5</text>
<text x="0" y="0" font-family='"Liberation Serif", serif' font-size="6.3" font-weight="bold" text-anchor="middle" fill="#000" transform="translate(63.7,373.3) rotate(19.9) skewX(-25)">10</text>
<text x="0" y="0" font-family='"Liberation Serif", serif' font-size="6.3" font-weight="bold" text-anchor="middle" fill="#000" transform="translate(81.1,379.7) rotate(19.9) skewX(-25)">15</text>
<text x="0" y="0" font-family='"Liberation Serif", serif' font-size="6.3" font-weight="bold" text-anchor="middle" fill="#000" transform="translate(99.7,383.5) rotate(-28.5) skewX(25)">1</text>
<text x="0" y="0" font-family='"Liberation Serif", serif' font-size="6.3" font-weight="bold" text-anchor="middle" fill="#000" transform="translate(112.7,376.3) rotate(-28.5) skewX(25)">2</text>
<text x="0" y="0" font-family='"Liberation Serif", serif' font-size="6.3" font-weight="bold" text-anchor="middle" fill="#000" transform="translate(124.6,369.7) rotate(-28.5) skewX(25)">3</text>
<text x="0" y="0" font-family='"Liberation Serif", serif' font-size="6.3" font-weight="bold" text-anchor="middle" fill="#000" transform="translate(135.4,363.6) rotate(-28.5) skewX(25)">4</text>
<text x="0" y="0" font-family='"Liberation Serif", serif' font-size="6.3" font-weight="bold" text-anchor="middle" fill="#000" transform="translate(145.4,358.1) rotate(-28.5) skewX(25)">5</text>
<text x="0" y="0" font-family='"Liberation Serif", serif' font-size="8.8" font-weight="bold" text-anchor="middle" fill="#000" transform="translate(56.7,379.1) rotate(19.9) skewX(-25)">Frequency (GHz)</text>
<text x="0" y="0" font-family='"Liberation Serif", serif' font-size="7.6" font-weight="bold" text-anchor="middle" fill="#000" transform="translate(139.6,373.6) rotate(-28.5) skewX(25)">Thickness (mm)</text>
<text x="0" y="0" font-family='"Liberation Serif", serif' font-size="11" font-weight="bold" text-anchor="middle" fill="#000" transform="translate(15.5,326.4) rotate(90)">RL (dB)</text>
<text x="34.9" y="298.2" font-family='"Liberation Serif", serif' font-size="16.5" font-weight="bold" text-anchor="start" fill="#000" >(g)</text>
<defs><linearGradient id="cb3_2" x1="0" y1="0" x2="0" y2="1"><stop offset="0.000" stop-color="#e40000"/><stop offset="0.033" stop-color="#e60a00"/><stop offset="0.083" stop-color="#f03c00"/><stop offset="0.150" stop-color="#fa7800"/><stop offset="0.233" stop-color="#ffb400"/><stop offset="0.333" stop-color="#fae600"/><stop offset="0.433" stop-color="#3cbe00"/><stop offset="0.533" stop-color="#00963c"/><stop offset="0.633" stop-color="#0050c8"/><stop offset="0.750" stop-color="#0014be"/><stop offset="0.883" stop-color="#14006e"/><stop offset="1.000" stop-color="#460082"/></linearGradient></defs>
<rect x="145.8" y="286.4" width="7.4" height="66.3" fill="url(#cb3_2)"/>
<text x="155.7" y="288.6" font-family='"Liberation Serif", serif' font-size="6.6" font-weight="bold" text-anchor="start" fill="#000" >0.000</text>
<text x="155.7" y="299.6" font-family='"Liberation Serif", serif' font-size="6.6" font-weight="bold" text-anchor="start" fill="#000" >-10.00</text>
<text x="155.7" y="310.7" font-family='"Liberation Serif", serif' font-size="6.6" font-weight="bold" text-anchor="start" fill="#000" >-20.00</text>
<text x="155.7" y="321.7" font-family='"Liberation Serif", serif' font-size="6.6" font-weight="bold" text-anchor="start" fill="#000" >-30.00</text>
<text x="155.7" y="332.8" font-family='"Liberation Serif", serif' font-size="6.6" font-weight="bold" text-anchor="start" fill="#000" >-40.00</text>
<text x="155.7" y="343.8" font-family='"Liberation Serif", serif' font-size="6.6" font-weight="bold" text-anchor="start" fill="#000" >-50.00</text>
<text x="155.7" y="354.9" font-family='"Liberation Serif", serif' font-size="6.6" font-weight="bold" text-anchor="start" fill="#000" >-60.00</text>
<text x="153.7" y="280.4" font-family='"Liberation Serif", serif' font-size="10.6" font-weight="bold" text-anchor="middle" fill="#000" >RL (dB)</text>
<text x="11.3" y="429" font-family='"Liberation Serif", serif' font-size="12.07" font-weight="normal" text-anchor="start" fill="#000" >Fig. 8. The EM wave absorption performance of CSCs (a, b, c); CSFs (d, e, f); and HSPs (g, h, i).</text>
</svg></body></html>
